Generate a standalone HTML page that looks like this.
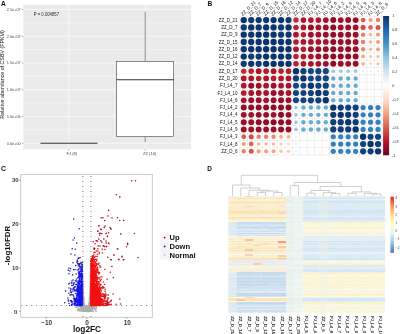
<!DOCTYPE html><html><head><meta charset="utf-8"><style>html,body{margin:0;padding:0;background:#fff;overflow:hidden}svg{display:block;will-change:transform}text{font-family:"Liberation Sans", sans-serif}</style></head><body>
<svg width="400" height="334" viewBox="0 0 400 334">
<rect width="400" height="334" fill="#fff"/>
<text x="1.0" y="5.8" font-size="6.6" font-weight="bold" fill="#111">A</text>
<rect x="23.3" y="4.9" width="167.7" height="144.29999999999998" fill="#EBEBEB"/>
<line x1="23.3" x2="191.0" y1="129.93" y2="129.93" stroke="#F4F4F4" stroke-width="0.9"/>
<line x1="23.3" x2="191.0" y1="103.18" y2="103.18" stroke="#F4F4F4" stroke-width="0.9"/>
<line x1="23.3" x2="191.0" y1="76.43" y2="76.43" stroke="#F4F4F4" stroke-width="0.9"/>
<line x1="23.3" x2="191.0" y1="49.68" y2="49.68" stroke="#F4F4F4" stroke-width="0.9"/>
<line x1="23.3" x2="191.0" y1="22.93" y2="22.93" stroke="#F4F4F4" stroke-width="0.9"/>
<line x1="23.3" x2="191.0" y1="143.30" y2="143.30" stroke="#F8F8F8" stroke-width="1.0"/>
<line x1="23.3" x2="191.0" y1="116.55" y2="116.55" stroke="#F8F8F8" stroke-width="1.0"/>
<line x1="23.3" x2="191.0" y1="89.80" y2="89.80" stroke="#F8F8F8" stroke-width="1.0"/>
<line x1="23.3" x2="191.0" y1="63.05" y2="63.05" stroke="#F8F8F8" stroke-width="1.0"/>
<line x1="23.3" x2="191.0" y1="36.30" y2="36.30" stroke="#F8F8F8" stroke-width="1.0"/>
<line x1="23.3" x2="191.0" y1="9.55" y2="9.55" stroke="#F8F8F8" stroke-width="1.0"/>
<line x1="68.7" x2="68.7" y1="4.9" y2="149.2" stroke="#F8F8F8" stroke-width="1.0"/>
<line x1="145.2" x2="145.2" y1="4.9" y2="149.2" stroke="#F8F8F8" stroke-width="1.0"/>
<line x1="21.8" x2="23.3" y1="143.30" y2="143.30" stroke="#333" stroke-width="0.4"/>
<text x="20.7" y="144.65" font-size="3.8" fill="#4D4D4D" text-anchor="end">0.0e+00</text>
<line x1="21.8" x2="23.3" y1="116.55" y2="116.55" stroke="#333" stroke-width="0.4"/>
<text x="20.7" y="117.90" font-size="3.8" fill="#4D4D4D" text-anchor="end">5.0e+06</text>
<line x1="21.8" x2="23.3" y1="89.80" y2="89.80" stroke="#333" stroke-width="0.4"/>
<text x="20.7" y="91.15" font-size="3.8" fill="#4D4D4D" text-anchor="end">1.0e+07</text>
<line x1="21.8" x2="23.3" y1="63.05" y2="63.05" stroke="#333" stroke-width="0.4"/>
<text x="20.7" y="64.40" font-size="3.8" fill="#4D4D4D" text-anchor="end">1.5e+07</text>
<line x1="21.8" x2="23.3" y1="36.30" y2="36.30" stroke="#333" stroke-width="0.4"/>
<text x="20.7" y="37.65" font-size="3.8" fill="#4D4D4D" text-anchor="end">2.0e+07</text>
<line x1="21.8" x2="23.3" y1="9.55" y2="9.55" stroke="#333" stroke-width="0.4"/>
<text x="20.7" y="10.90" font-size="3.8" fill="#4D4D4D" text-anchor="end">2.5e+07</text>
<line x1="68.7" x2="68.7" y1="149.2" y2="150.7" stroke="#333" stroke-width="0.4"/>
<text x="66.40" y="155.20" font-size="4.15" fill="#4D4D4D">FJ (8)</text>
<line x1="145.2" x2="145.2" y1="149.2" y2="150.7" stroke="#333" stroke-width="0.4"/>
<text x="142.90" y="155.20" font-size="4.15" fill="#4D4D4D">ZZ (10)</text>
<text transform="translate(4.1,74.5) rotate(-90)" x="0" y="0" font-size="5.3" fill="#111" text-anchor="middle">Relative abundance of CSBV (FPKM)</text>
<text transform="translate(33.8,15.9) scale(1,1.18)" font-size="4.25" fill="#2a2a2a">P = 0.004857</text>
<line x1="40.5" x2="97.5" y1="143.3" y2="143.3" stroke="#333" stroke-width="1.1"/>
<line x1="145.2" x2="145.2" y1="11.7" y2="61.6" stroke="#333" stroke-width="0.55"/>
<line x1="145.2" x2="145.2" y1="136.6" y2="142.1" stroke="#333" stroke-width="0.55"/>
<rect x="116.7" y="61.6" width="57" height="75" fill="#fff" stroke="#333" stroke-width="0.55"/>
<line x1="116.7" x2="173.7" y1="79.8" y2="79.8" stroke="#333" stroke-width="1.1"/>
<text x="207.4" y="6.3" font-size="6.6" font-weight="bold" fill="#111">B</text>
<path d="M240.02 16.46V154.97M240.02 16.46H381.76M247.48 16.46V154.97M240.02 23.75H381.76M254.94 16.46V154.97M240.02 31.04H381.76M262.40 16.46V154.97M240.02 38.33H381.76M269.86 16.46V154.97M240.02 45.62H381.76M277.32 16.46V154.97M240.02 52.91H381.76M284.78 16.46V154.97M240.02 60.20H381.76M292.24 16.46V154.97M240.02 67.48H381.76M299.70 16.46V154.97M240.02 74.78H381.76M307.16 16.46V154.97M240.02 82.06H381.76M314.62 16.46V154.97M240.02 89.36H381.76M322.08 16.46V154.97M240.02 96.64H381.76M329.54 16.46V154.97M240.02 103.94H381.76M337.00 16.46V154.97M240.02 111.22H381.76M344.46 16.46V154.97M240.02 118.52H381.76M351.92 16.46V154.97M240.02 125.80H381.76M359.38 16.46V154.97M240.02 133.09H381.76M366.84 16.46V154.97M240.02 140.39H381.76M374.30 16.46V154.97M240.02 147.68H381.76M381.76 16.46V154.97M240.02 154.97H381.76" stroke="#D9D9D9" stroke-width="0.4" fill="none"/>
<circle cx="243.75" cy="20.10" r="3.17" fill="#0a3468"/>
<circle cx="251.21" cy="20.10" r="3.13" fill="#0d3a70"/>
<circle cx="258.67" cy="20.10" r="3.15" fill="#0c376d"/>
<circle cx="266.13" cy="20.10" r="3.14" fill="#0c396e"/>
<circle cx="273.59" cy="20.10" r="3.15" fill="#0b376c"/>
<circle cx="281.05" cy="20.10" r="3.15" fill="#0b376c"/>
<circle cx="288.51" cy="20.10" r="3.13" fill="#0d3b72"/>
<circle cx="295.97" cy="20.10" r="2.73" fill="#bd2e35"/>
<circle cx="303.43" cy="20.10" r="2.84" fill="#b2182b"/>
<circle cx="310.89" cy="20.10" r="2.84" fill="#b2182b"/>
<circle cx="318.35" cy="20.10" r="2.84" fill="#b2182b"/>
<circle cx="325.81" cy="20.10" r="2.89" fill="#a8152a"/>
<circle cx="333.27" cy="20.10" r="3.01" fill="#900d26"/>
<circle cx="340.73" cy="20.10" r="2.94" fill="#9e1128"/>
<circle cx="348.19" cy="20.10" r="2.98" fill="#970f27"/>
<circle cx="355.65" cy="20.10" r="2.96" fill="#9a1028"/>
<circle cx="363.11" cy="20.10" r="2.46" fill="#d6604d"/>
<circle cx="370.57" cy="20.10" r="2.06" fill="#f19e7d"/>
<circle cx="378.03" cy="20.10" r="2.24" fill="#e58268"/>
<circle cx="243.75" cy="27.39" r="3.13" fill="#0d3a70"/>
<circle cx="251.21" cy="27.39" r="3.17" fill="#0a3468"/>
<circle cx="258.67" cy="27.39" r="3.15" fill="#0c386d"/>
<circle cx="266.13" cy="27.39" r="3.16" fill="#0b366b"/>
<circle cx="273.59" cy="27.39" r="3.16" fill="#0b366b"/>
<circle cx="281.05" cy="27.39" r="3.13" fill="#0d3b72"/>
<circle cx="288.51" cy="27.39" r="3.16" fill="#0b366a"/>
<circle cx="295.97" cy="27.39" r="2.76" fill="#b92632"/>
<circle cx="303.43" cy="27.39" r="2.86" fill="#ae172a"/>
<circle cx="310.89" cy="27.39" r="2.99" fill="#940e27"/>
<circle cx="318.35" cy="27.39" r="2.90" fill="#a51429"/>
<circle cx="325.81" cy="27.39" r="2.94" fill="#9d1128"/>
<circle cx="333.27" cy="27.39" r="3.01" fill="#900d26"/>
<circle cx="340.73" cy="27.39" r="2.94" fill="#9f1228"/>
<circle cx="348.19" cy="27.39" r="2.95" fill="#9c1128"/>
<circle cx="355.65" cy="27.39" r="2.93" fill="#a01229"/>
<circle cx="363.11" cy="27.39" r="2.56" fill="#cd4e44"/>
<circle cx="370.57" cy="27.39" r="2.42" fill="#d96752"/>
<circle cx="378.03" cy="27.39" r="2.50" fill="#d2594a"/>
<circle cx="243.75" cy="34.68" r="3.15" fill="#0c376d"/>
<circle cx="251.21" cy="34.68" r="3.15" fill="#0c386d"/>
<circle cx="258.67" cy="34.68" r="3.17" fill="#0a3468"/>
<circle cx="266.13" cy="34.68" r="3.17" fill="#0a3469"/>
<circle cx="273.59" cy="34.68" r="3.17" fill="#0a3569"/>
<circle cx="281.05" cy="34.68" r="3.13" fill="#0d3b71"/>
<circle cx="288.51" cy="34.68" r="3.13" fill="#0d3a71"/>
<circle cx="295.97" cy="34.68" r="2.87" fill="#ac162a"/>
<circle cx="303.43" cy="34.68" r="2.79" fill="#b72230"/>
<circle cx="310.89" cy="34.68" r="2.95" fill="#9d1128"/>
<circle cx="318.35" cy="34.68" r="2.93" fill="#a01229"/>
<circle cx="325.81" cy="34.68" r="2.96" fill="#9a1028"/>
<circle cx="333.27" cy="34.68" r="3.01" fill="#900d26"/>
<circle cx="340.73" cy="34.68" r="2.99" fill="#950e27"/>
<circle cx="348.19" cy="34.68" r="2.99" fill="#940e27"/>
<circle cx="355.65" cy="34.68" r="2.97" fill="#991028"/>
<circle cx="363.11" cy="34.68" r="2.24" fill="#e58268"/>
<circle cx="370.57" cy="34.68" r="1.82" fill="#f7b89a"/>
<circle cx="378.03" cy="34.68" r="2.06" fill="#f19e7d"/>
<circle cx="243.75" cy="41.97" r="3.14" fill="#0c396e"/>
<circle cx="251.21" cy="41.97" r="3.16" fill="#0b366b"/>
<circle cx="258.67" cy="41.97" r="3.17" fill="#0a3469"/>
<circle cx="266.13" cy="41.97" r="3.17" fill="#0a3468"/>
<circle cx="273.59" cy="41.97" r="3.17" fill="#0a3569"/>
<circle cx="281.05" cy="41.97" r="3.16" fill="#0a3569"/>
<circle cx="288.51" cy="41.97" r="3.17" fill="#0a3468"/>
<circle cx="295.97" cy="41.97" r="2.82" fill="#b41c2d"/>
<circle cx="303.43" cy="41.97" r="2.87" fill="#ab162a"/>
<circle cx="310.89" cy="41.97" r="2.90" fill="#a51429"/>
<circle cx="318.35" cy="41.97" r="2.89" fill="#a7142a"/>
<circle cx="325.81" cy="41.97" r="2.90" fill="#a61429"/>
<circle cx="333.27" cy="41.97" r="3.01" fill="#900d26"/>
<circle cx="340.73" cy="41.97" r="2.95" fill="#9b1128"/>
<circle cx="348.19" cy="41.97" r="3.00" fill="#910d27"/>
<circle cx="355.65" cy="41.97" r="2.94" fill="#9e1128"/>
<circle cx="363.11" cy="41.97" r="2.24" fill="#e58268"/>
<circle cx="370.57" cy="41.97" r="1.82" fill="#f7b89a"/>
<circle cx="378.03" cy="41.97" r="2.06" fill="#f19e7d"/>
<circle cx="243.75" cy="49.26" r="3.15" fill="#0b376c"/>
<circle cx="251.21" cy="49.26" r="3.16" fill="#0b366b"/>
<circle cx="258.67" cy="49.26" r="3.17" fill="#0a3569"/>
<circle cx="266.13" cy="49.26" r="3.17" fill="#0a3569"/>
<circle cx="273.59" cy="49.26" r="3.17" fill="#0a3468"/>
<circle cx="281.05" cy="49.26" r="3.16" fill="#0b3569"/>
<circle cx="288.51" cy="49.26" r="3.17" fill="#0a3468"/>
<circle cx="295.97" cy="49.26" r="2.88" fill="#aa152a"/>
<circle cx="303.43" cy="49.26" r="2.80" fill="#b51e2e"/>
<circle cx="310.89" cy="49.26" r="2.95" fill="#9c1128"/>
<circle cx="318.35" cy="49.26" r="2.98" fill="#970f27"/>
<circle cx="325.81" cy="49.26" r="2.96" fill="#9a1028"/>
<circle cx="333.27" cy="49.26" r="3.01" fill="#900d26"/>
<circle cx="340.73" cy="49.26" r="2.94" fill="#9f1228"/>
<circle cx="348.19" cy="49.26" r="3.02" fill="#8e0c26"/>
<circle cx="355.65" cy="49.26" r="2.96" fill="#9a1028"/>
<circle cx="363.11" cy="49.26" r="2.20" fill="#e8896d"/>
<circle cx="370.57" cy="49.26" r="1.79" fill="#f8bb9e"/>
<circle cx="378.03" cy="49.26" r="2.01" fill="#f4a582"/>
<circle cx="243.75" cy="56.55" r="3.15" fill="#0b376c"/>
<circle cx="251.21" cy="56.55" r="3.13" fill="#0d3b72"/>
<circle cx="258.67" cy="56.55" r="3.13" fill="#0d3b71"/>
<circle cx="266.13" cy="56.55" r="3.16" fill="#0a3569"/>
<circle cx="273.59" cy="56.55" r="3.16" fill="#0b3569"/>
<circle cx="281.05" cy="56.55" r="3.17" fill="#0a3468"/>
<circle cx="288.51" cy="56.55" r="3.17" fill="#0a3569"/>
<circle cx="295.97" cy="56.55" r="2.78" fill="#b72230"/>
<circle cx="303.43" cy="56.55" r="2.84" fill="#b2182b"/>
<circle cx="310.89" cy="56.55" r="2.89" fill="#a8152a"/>
<circle cx="318.35" cy="56.55" r="2.96" fill="#9a1028"/>
<circle cx="325.81" cy="56.55" r="2.98" fill="#950f27"/>
<circle cx="333.27" cy="56.55" r="3.01" fill="#900d26"/>
<circle cx="340.73" cy="56.55" r="3.02" fill="#8e0c26"/>
<circle cx="348.19" cy="56.55" r="3.01" fill="#910d27"/>
<circle cx="355.65" cy="56.55" r="2.98" fill="#950f27"/>
<circle cx="363.11" cy="56.55" r="1.95" fill="#f5aa89"/>
<circle cx="370.57" cy="56.55" r="1.62" fill="#facbb2"/>
<circle cx="378.03" cy="56.55" r="1.74" fill="#f8c0a4"/>
<circle cx="243.75" cy="63.84" r="3.13" fill="#0d3b72"/>
<circle cx="251.21" cy="63.84" r="3.16" fill="#0b366a"/>
<circle cx="258.67" cy="63.84" r="3.13" fill="#0d3a71"/>
<circle cx="266.13" cy="63.84" r="3.17" fill="#0a3468"/>
<circle cx="273.59" cy="63.84" r="3.17" fill="#0a3468"/>
<circle cx="281.05" cy="63.84" r="3.17" fill="#0a3569"/>
<circle cx="288.51" cy="63.84" r="3.17" fill="#0a3468"/>
<circle cx="295.97" cy="63.84" r="2.80" fill="#b6202f"/>
<circle cx="303.43" cy="63.84" r="2.86" fill="#ae172a"/>
<circle cx="310.89" cy="63.84" r="2.89" fill="#a7142a"/>
<circle cx="318.35" cy="63.84" r="2.90" fill="#a61429"/>
<circle cx="325.81" cy="63.84" r="2.95" fill="#9b1128"/>
<circle cx="333.27" cy="63.84" r="3.01" fill="#900d26"/>
<circle cx="340.73" cy="63.84" r="2.97" fill="#980f27"/>
<circle cx="348.19" cy="63.84" r="2.96" fill="#9a1028"/>
<circle cx="355.65" cy="63.84" r="2.97" fill="#991028"/>
<circle cx="363.11" cy="63.84" r="1.90" fill="#f6b090"/>
<circle cx="370.57" cy="63.84" r="1.49" fill="#fcd6c0"/>
<circle cx="378.03" cy="63.84" r="1.68" fill="#f9c5ab"/>
<circle cx="243.75" cy="71.13" r="2.73" fill="#bd2e35"/>
<circle cx="251.21" cy="71.13" r="2.76" fill="#b92632"/>
<circle cx="258.67" cy="71.13" r="2.87" fill="#ac162a"/>
<circle cx="266.13" cy="71.13" r="2.82" fill="#b41c2d"/>
<circle cx="273.59" cy="71.13" r="2.88" fill="#aa152a"/>
<circle cx="281.05" cy="71.13" r="2.78" fill="#b72230"/>
<circle cx="288.51" cy="71.13" r="2.80" fill="#b6202f"/>
<circle cx="295.97" cy="71.13" r="3.17" fill="#0a3468"/>
<circle cx="303.43" cy="71.13" r="3.09" fill="#104079"/>
<circle cx="310.89" cy="71.13" r="3.05" fill="#124681"/>
<circle cx="318.35" cy="71.13" r="3.07" fill="#11447e"/>
<circle cx="325.81" cy="71.13" r="3.05" fill="#134782"/>
<circle cx="333.27" cy="71.13" r="1.90" fill="#9fcbe2"/>
<circle cx="340.73" cy="71.13" r="1.90" fill="#9fcbe2"/>
<circle cx="348.19" cy="71.13" r="1.90" fill="#9fcbe2"/>
<circle cx="355.65" cy="71.13" r="1.90" fill="#9fcbe2"/>
<circle cx="363.11" cy="71.13" r="1.10" fill="#e3eff6"/>
<circle cx="370.57" cy="71.13" r="1.10" fill="#e3eff6"/>
<circle cx="378.03" cy="71.13" r="1.10" fill="#e3eff6"/>
<circle cx="243.75" cy="78.42" r="2.84" fill="#b2182b"/>
<circle cx="251.21" cy="78.42" r="2.86" fill="#ae172a"/>
<circle cx="258.67" cy="78.42" r="2.79" fill="#b72230"/>
<circle cx="266.13" cy="78.42" r="2.87" fill="#ab162a"/>
<circle cx="273.59" cy="78.42" r="2.80" fill="#b51e2e"/>
<circle cx="281.05" cy="78.42" r="2.84" fill="#b2182b"/>
<circle cx="288.51" cy="78.42" r="2.86" fill="#ae172a"/>
<circle cx="295.97" cy="78.42" r="3.09" fill="#104079"/>
<circle cx="303.43" cy="78.42" r="3.17" fill="#0a3468"/>
<circle cx="310.89" cy="78.42" r="3.03" fill="#144985"/>
<circle cx="318.35" cy="78.42" r="3.06" fill="#12457f"/>
<circle cx="325.81" cy="78.42" r="3.06" fill="#12457e"/>
<circle cx="333.27" cy="78.42" r="2.24" fill="#6aacd0"/>
<circle cx="340.73" cy="78.42" r="2.24" fill="#6aacd0"/>
<circle cx="348.19" cy="78.42" r="2.24" fill="#6aacd0"/>
<circle cx="355.65" cy="78.42" r="2.24" fill="#6aacd0"/>
<circle cx="363.11" cy="78.42" r="0.71" fill="#f4f8fb"/>
<circle cx="370.57" cy="78.42" r="0.71" fill="#f4f8fb"/>
<circle cx="378.03" cy="78.42" r="0.71" fill="#f4f8fb"/>
<circle cx="243.75" cy="85.71" r="2.84" fill="#b2182b"/>
<circle cx="251.21" cy="85.71" r="2.99" fill="#940e27"/>
<circle cx="258.67" cy="85.71" r="2.95" fill="#9d1128"/>
<circle cx="266.13" cy="85.71" r="2.90" fill="#a51429"/>
<circle cx="273.59" cy="85.71" r="2.95" fill="#9c1128"/>
<circle cx="281.05" cy="85.71" r="2.89" fill="#a8152a"/>
<circle cx="288.51" cy="85.71" r="2.89" fill="#a7142a"/>
<circle cx="295.97" cy="85.71" r="3.05" fill="#124681"/>
<circle cx="303.43" cy="85.71" r="3.03" fill="#144985"/>
<circle cx="310.89" cy="85.71" r="3.17" fill="#0a3468"/>
<circle cx="318.35" cy="85.71" r="3.08" fill="#10427a"/>
<circle cx="325.81" cy="85.71" r="3.09" fill="#10417a"/>
<circle cx="333.27" cy="85.71" r="2.24" fill="#6aacd0"/>
<circle cx="340.73" cy="85.71" r="2.24" fill="#6aacd0"/>
<circle cx="348.19" cy="85.71" r="2.24" fill="#6aacd0"/>
<circle cx="355.65" cy="85.71" r="2.24" fill="#6aacd0"/>
<circle cx="363.11" cy="85.71" r="0.71" fill="#f4f8fb"/>
<circle cx="370.57" cy="85.71" r="0.71" fill="#f4f8fb"/>
<circle cx="378.03" cy="85.71" r="0.71" fill="#f4f8fb"/>
<circle cx="243.75" cy="93.00" r="2.84" fill="#b2182b"/>
<circle cx="251.21" cy="93.00" r="2.90" fill="#a51429"/>
<circle cx="258.67" cy="93.00" r="2.93" fill="#a01229"/>
<circle cx="266.13" cy="93.00" r="2.89" fill="#a7142a"/>
<circle cx="273.59" cy="93.00" r="2.98" fill="#970f27"/>
<circle cx="281.05" cy="93.00" r="2.96" fill="#9a1028"/>
<circle cx="288.51" cy="93.00" r="2.90" fill="#a61429"/>
<circle cx="295.97" cy="93.00" r="3.07" fill="#11447e"/>
<circle cx="303.43" cy="93.00" r="3.06" fill="#12457f"/>
<circle cx="310.89" cy="93.00" r="3.08" fill="#10427a"/>
<circle cx="318.35" cy="93.00" r="3.17" fill="#0a3468"/>
<circle cx="325.81" cy="93.00" r="3.10" fill="#0f3f78"/>
<circle cx="333.27" cy="93.00" r="2.24" fill="#6aacd0"/>
<circle cx="340.73" cy="93.00" r="2.24" fill="#6aacd0"/>
<circle cx="348.19" cy="93.00" r="2.24" fill="#6aacd0"/>
<circle cx="355.65" cy="93.00" r="2.24" fill="#6aacd0"/>
<circle cx="363.11" cy="93.00" r="0.71" fill="#f4f8fb"/>
<circle cx="370.57" cy="93.00" r="0.71" fill="#f4f8fb"/>
<circle cx="378.03" cy="93.00" r="0.71" fill="#f4f8fb"/>
<circle cx="243.75" cy="100.29" r="2.89" fill="#a8152a"/>
<circle cx="251.21" cy="100.29" r="2.94" fill="#9d1128"/>
<circle cx="258.67" cy="100.29" r="2.96" fill="#9a1028"/>
<circle cx="266.13" cy="100.29" r="2.90" fill="#a61429"/>
<circle cx="273.59" cy="100.29" r="2.96" fill="#9a1028"/>
<circle cx="281.05" cy="100.29" r="2.98" fill="#950f27"/>
<circle cx="288.51" cy="100.29" r="2.95" fill="#9b1128"/>
<circle cx="295.97" cy="100.29" r="3.05" fill="#134782"/>
<circle cx="303.43" cy="100.29" r="3.06" fill="#12457e"/>
<circle cx="310.89" cy="100.29" r="3.09" fill="#10417a"/>
<circle cx="318.35" cy="100.29" r="3.10" fill="#0f3f78"/>
<circle cx="325.81" cy="100.29" r="3.17" fill="#0a3468"/>
<circle cx="333.27" cy="100.29" r="2.24" fill="#6aacd0"/>
<circle cx="340.73" cy="100.29" r="2.24" fill="#6aacd0"/>
<circle cx="348.19" cy="100.29" r="2.24" fill="#6aacd0"/>
<circle cx="355.65" cy="100.29" r="2.24" fill="#6aacd0"/>
<circle cx="363.11" cy="100.29" r="0.71" fill="#f4f8fb"/>
<circle cx="370.57" cy="100.29" r="0.71" fill="#f4f8fb"/>
<circle cx="378.03" cy="100.29" r="0.71" fill="#f4f8fb"/>
<circle cx="243.75" cy="107.58" r="3.01" fill="#900d26"/>
<circle cx="251.21" cy="107.58" r="3.01" fill="#900d26"/>
<circle cx="258.67" cy="107.58" r="3.01" fill="#900d26"/>
<circle cx="266.13" cy="107.58" r="3.01" fill="#900d26"/>
<circle cx="273.59" cy="107.58" r="3.01" fill="#900d26"/>
<circle cx="281.05" cy="107.58" r="3.01" fill="#900d26"/>
<circle cx="288.51" cy="107.58" r="3.01" fill="#900d26"/>
<circle cx="295.97" cy="107.58" r="1.90" fill="#9fcbe2"/>
<circle cx="303.43" cy="107.58" r="2.24" fill="#6aacd0"/>
<circle cx="310.89" cy="107.58" r="2.24" fill="#6aacd0"/>
<circle cx="318.35" cy="107.58" r="2.24" fill="#6aacd0"/>
<circle cx="325.81" cy="107.58" r="2.24" fill="#6aacd0"/>
<circle cx="333.27" cy="107.58" r="3.17" fill="#0a3468"/>
<circle cx="340.73" cy="107.58" r="3.12" fill="#0e3d74"/>
<circle cx="348.19" cy="107.58" r="3.09" fill="#10417a"/>
<circle cx="355.65" cy="107.58" r="3.10" fill="#0f3f77"/>
<circle cx="363.11" cy="107.58" r="2.61" fill="#3581ba"/>
<circle cx="370.57" cy="107.58" r="2.61" fill="#3581ba"/>
<circle cx="378.03" cy="107.58" r="2.61" fill="#3581ba"/>
<circle cx="243.75" cy="114.87" r="2.94" fill="#9e1128"/>
<circle cx="251.21" cy="114.87" r="2.94" fill="#9f1228"/>
<circle cx="258.67" cy="114.87" r="2.99" fill="#950e27"/>
<circle cx="266.13" cy="114.87" r="2.95" fill="#9b1128"/>
<circle cx="273.59" cy="114.87" r="2.94" fill="#9f1228"/>
<circle cx="281.05" cy="114.87" r="3.02" fill="#8e0c26"/>
<circle cx="288.51" cy="114.87" r="2.97" fill="#980f27"/>
<circle cx="295.97" cy="114.87" r="1.90" fill="#9fcbe2"/>
<circle cx="303.43" cy="114.87" r="2.24" fill="#6aacd0"/>
<circle cx="310.89" cy="114.87" r="2.24" fill="#6aacd0"/>
<circle cx="318.35" cy="114.87" r="2.24" fill="#6aacd0"/>
<circle cx="325.81" cy="114.87" r="2.24" fill="#6aacd0"/>
<circle cx="333.27" cy="114.87" r="3.12" fill="#0e3d74"/>
<circle cx="340.73" cy="114.87" r="3.17" fill="#0a3468"/>
<circle cx="348.19" cy="114.87" r="3.12" fill="#0d3b72"/>
<circle cx="355.65" cy="114.87" r="3.09" fill="#104079"/>
<circle cx="363.11" cy="114.87" r="2.61" fill="#3581ba"/>
<circle cx="370.57" cy="114.87" r="2.61" fill="#3581ba"/>
<circle cx="378.03" cy="114.87" r="2.61" fill="#3581ba"/>
<circle cx="243.75" cy="122.16" r="2.98" fill="#970f27"/>
<circle cx="251.21" cy="122.16" r="2.95" fill="#9c1128"/>
<circle cx="258.67" cy="122.16" r="2.99" fill="#940e27"/>
<circle cx="266.13" cy="122.16" r="3.00" fill="#910d27"/>
<circle cx="273.59" cy="122.16" r="3.02" fill="#8e0c26"/>
<circle cx="281.05" cy="122.16" r="3.01" fill="#910d27"/>
<circle cx="288.51" cy="122.16" r="2.96" fill="#9a1028"/>
<circle cx="295.97" cy="122.16" r="1.90" fill="#9fcbe2"/>
<circle cx="303.43" cy="122.16" r="2.24" fill="#6aacd0"/>
<circle cx="310.89" cy="122.16" r="2.24" fill="#6aacd0"/>
<circle cx="318.35" cy="122.16" r="2.24" fill="#6aacd0"/>
<circle cx="325.81" cy="122.16" r="2.24" fill="#6aacd0"/>
<circle cx="333.27" cy="122.16" r="3.09" fill="#10417a"/>
<circle cx="340.73" cy="122.16" r="3.12" fill="#0d3b72"/>
<circle cx="348.19" cy="122.16" r="3.17" fill="#0a3468"/>
<circle cx="355.65" cy="122.16" r="3.10" fill="#0f3e76"/>
<circle cx="363.11" cy="122.16" r="2.61" fill="#3581ba"/>
<circle cx="370.57" cy="122.16" r="2.61" fill="#3581ba"/>
<circle cx="378.03" cy="122.16" r="2.61" fill="#3581ba"/>
<circle cx="243.75" cy="129.45" r="2.96" fill="#9a1028"/>
<circle cx="251.21" cy="129.45" r="2.93" fill="#a01229"/>
<circle cx="258.67" cy="129.45" r="2.97" fill="#991028"/>
<circle cx="266.13" cy="129.45" r="2.94" fill="#9e1128"/>
<circle cx="273.59" cy="129.45" r="2.96" fill="#9a1028"/>
<circle cx="281.05" cy="129.45" r="2.98" fill="#950f27"/>
<circle cx="288.51" cy="129.45" r="2.97" fill="#991028"/>
<circle cx="295.97" cy="129.45" r="1.90" fill="#9fcbe2"/>
<circle cx="303.43" cy="129.45" r="2.24" fill="#6aacd0"/>
<circle cx="310.89" cy="129.45" r="2.24" fill="#6aacd0"/>
<circle cx="318.35" cy="129.45" r="2.24" fill="#6aacd0"/>
<circle cx="325.81" cy="129.45" r="2.24" fill="#6aacd0"/>
<circle cx="333.27" cy="129.45" r="3.10" fill="#0f3f77"/>
<circle cx="340.73" cy="129.45" r="3.09" fill="#104079"/>
<circle cx="348.19" cy="129.45" r="3.10" fill="#0f3e76"/>
<circle cx="355.65" cy="129.45" r="3.17" fill="#0a3468"/>
<circle cx="363.11" cy="129.45" r="2.61" fill="#3581ba"/>
<circle cx="370.57" cy="129.45" r="2.61" fill="#3581ba"/>
<circle cx="378.03" cy="129.45" r="2.61" fill="#3581ba"/>
<circle cx="243.75" cy="136.74" r="2.46" fill="#d6604d"/>
<circle cx="251.21" cy="136.74" r="2.56" fill="#cd4e44"/>
<circle cx="258.67" cy="136.74" r="2.24" fill="#e58268"/>
<circle cx="266.13" cy="136.74" r="2.24" fill="#e58268"/>
<circle cx="273.59" cy="136.74" r="2.20" fill="#e8896d"/>
<circle cx="281.05" cy="136.74" r="1.95" fill="#f5aa89"/>
<circle cx="288.51" cy="136.74" r="1.90" fill="#f6b090"/>
<circle cx="295.97" cy="136.74" r="1.10" fill="#e3eff6"/>
<circle cx="303.43" cy="136.74" r="0.71" fill="#f4f8fb"/>
<circle cx="310.89" cy="136.74" r="0.71" fill="#f4f8fb"/>
<circle cx="318.35" cy="136.74" r="0.71" fill="#f4f8fb"/>
<circle cx="325.81" cy="136.74" r="0.71" fill="#f4f8fb"/>
<circle cx="333.27" cy="136.74" r="2.61" fill="#3581ba"/>
<circle cx="340.73" cy="136.74" r="2.61" fill="#3581ba"/>
<circle cx="348.19" cy="136.74" r="2.61" fill="#3581ba"/>
<circle cx="355.65" cy="136.74" r="2.61" fill="#3581ba"/>
<circle cx="363.11" cy="136.74" r="3.17" fill="#0a3468"/>
<circle cx="370.57" cy="136.74" r="3.08" fill="#11437c"/>
<circle cx="378.03" cy="136.74" r="3.08" fill="#11427b"/>
<circle cx="243.75" cy="144.03" r="2.06" fill="#f19e7d"/>
<circle cx="251.21" cy="144.03" r="2.42" fill="#d96752"/>
<circle cx="258.67" cy="144.03" r="1.82" fill="#f7b89a"/>
<circle cx="266.13" cy="144.03" r="1.82" fill="#f7b89a"/>
<circle cx="273.59" cy="144.03" r="1.79" fill="#f8bb9e"/>
<circle cx="281.05" cy="144.03" r="1.62" fill="#facbb2"/>
<circle cx="288.51" cy="144.03" r="1.49" fill="#fcd6c0"/>
<circle cx="295.97" cy="144.03" r="1.10" fill="#e3eff6"/>
<circle cx="303.43" cy="144.03" r="0.71" fill="#f4f8fb"/>
<circle cx="310.89" cy="144.03" r="0.71" fill="#f4f8fb"/>
<circle cx="318.35" cy="144.03" r="0.71" fill="#f4f8fb"/>
<circle cx="325.81" cy="144.03" r="0.71" fill="#f4f8fb"/>
<circle cx="333.27" cy="144.03" r="2.61" fill="#3581ba"/>
<circle cx="340.73" cy="144.03" r="2.61" fill="#3581ba"/>
<circle cx="348.19" cy="144.03" r="2.61" fill="#3581ba"/>
<circle cx="355.65" cy="144.03" r="2.61" fill="#3581ba"/>
<circle cx="363.11" cy="144.03" r="3.08" fill="#11437c"/>
<circle cx="370.57" cy="144.03" r="3.17" fill="#0a3468"/>
<circle cx="378.03" cy="144.03" r="3.11" fill="#0f3e76"/>
<circle cx="243.75" cy="151.32" r="2.24" fill="#e58268"/>
<circle cx="251.21" cy="151.32" r="2.50" fill="#d2594a"/>
<circle cx="258.67" cy="151.32" r="2.06" fill="#f19e7d"/>
<circle cx="266.13" cy="151.32" r="2.06" fill="#f19e7d"/>
<circle cx="273.59" cy="151.32" r="2.01" fill="#f4a582"/>
<circle cx="281.05" cy="151.32" r="1.74" fill="#f8c0a4"/>
<circle cx="288.51" cy="151.32" r="1.68" fill="#f9c5ab"/>
<circle cx="295.97" cy="151.32" r="1.10" fill="#e3eff6"/>
<circle cx="303.43" cy="151.32" r="0.71" fill="#f4f8fb"/>
<circle cx="310.89" cy="151.32" r="0.71" fill="#f4f8fb"/>
<circle cx="318.35" cy="151.32" r="0.71" fill="#f4f8fb"/>
<circle cx="325.81" cy="151.32" r="0.71" fill="#f4f8fb"/>
<circle cx="333.27" cy="151.32" r="2.61" fill="#3581ba"/>
<circle cx="340.73" cy="151.32" r="2.61" fill="#3581ba"/>
<circle cx="348.19" cy="151.32" r="2.61" fill="#3581ba"/>
<circle cx="355.65" cy="151.32" r="2.61" fill="#3581ba"/>
<circle cx="363.11" cy="151.32" r="3.08" fill="#11427b"/>
<circle cx="370.57" cy="151.32" r="3.11" fill="#0f3e76"/>
<circle cx="378.03" cy="151.32" r="3.17" fill="#0a3468"/>
<text x="237.6" y="21.70" font-size="4.5" fill="#111" text-anchor="end">ZZ_D_21</text>
<text x="237.6" y="28.99" font-size="4.5" fill="#111" text-anchor="end">ZZ_D_7</text>
<text x="237.6" y="36.28" font-size="4.5" fill="#111" text-anchor="end">ZZ_D_9</text>
<text x="237.6" y="43.57" font-size="4.5" fill="#111" text-anchor="end">ZZ_D_15</text>
<text x="237.6" y="50.86" font-size="4.5" fill="#111" text-anchor="end">ZZ_D_16</text>
<text x="237.6" y="58.15" font-size="4.5" fill="#111" text-anchor="end">ZZ_D_12</text>
<text x="237.6" y="65.44" font-size="4.5" fill="#111" text-anchor="end">ZZ_D_14</text>
<text x="237.6" y="72.73" font-size="4.5" fill="#111" text-anchor="end">ZZ_D_17</text>
<text x="237.6" y="80.02" font-size="4.5" fill="#111" text-anchor="end">ZZ_D_20</text>
<text x="237.6" y="87.31" font-size="4.5" fill="#111" text-anchor="end">FJ_L4_7</text>
<text x="237.6" y="94.60" font-size="4.5" fill="#111" text-anchor="end">FJ_L4_10</text>
<text x="237.6" y="101.89" font-size="4.5" fill="#111" text-anchor="end">FJ_L4_6</text>
<text x="237.6" y="109.18" font-size="4.5" fill="#111" text-anchor="end">FJ_L4_2</text>
<text x="237.6" y="116.47" font-size="4.5" fill="#111" text-anchor="end">FJ_L4_4</text>
<text x="237.6" y="123.76" font-size="4.5" fill="#111" text-anchor="end">FJ_L4_5</text>
<text x="237.6" y="131.05" font-size="4.5" fill="#111" text-anchor="end">FJ_L4_9</text>
<text x="237.6" y="138.34" font-size="4.5" fill="#111" text-anchor="end">FJ_L4_3</text>
<text x="237.6" y="145.63" font-size="4.5" fill="#111" text-anchor="end">FJ_L4_8</text>
<text x="237.6" y="152.92" font-size="4.5" fill="#111" text-anchor="end">ZZ_D_6</text>
<text transform="translate(242.85,15.9) rotate(-45)" font-size="4.5" fill="#111">ZZ_D_21</text>
<text transform="translate(250.31,15.9) rotate(-45)" font-size="4.5" fill="#111">ZZ_D_7</text>
<text transform="translate(257.77,15.9) rotate(-45)" font-size="4.5" fill="#111">ZZ_D_9</text>
<text transform="translate(265.23,15.9) rotate(-45)" font-size="4.5" fill="#111">ZZ_D_15</text>
<text transform="translate(272.69,15.9) rotate(-45)" font-size="4.5" fill="#111">ZZ_D_16</text>
<text transform="translate(280.15,15.9) rotate(-45)" font-size="4.5" fill="#111">ZZ_D_12</text>
<text transform="translate(287.61,15.9) rotate(-45)" font-size="4.5" fill="#111">ZZ_D_14</text>
<text transform="translate(295.07,15.9) rotate(-45)" font-size="4.5" fill="#111">ZZ_D_17</text>
<text transform="translate(302.53,15.9) rotate(-45)" font-size="4.5" fill="#111">ZZ_D_20</text>
<text transform="translate(309.99,15.9) rotate(-45)" font-size="4.5" fill="#111">FJ_L4_7</text>
<text transform="translate(317.45,15.9) rotate(-45)" font-size="4.5" fill="#111">FJ_L4_10</text>
<text transform="translate(324.91,15.9) rotate(-45)" font-size="4.5" fill="#111">FJ_L4_6</text>
<text transform="translate(332.37,15.9) rotate(-45)" font-size="4.5" fill="#111">FJ_L4_2</text>
<text transform="translate(339.83,15.9) rotate(-45)" font-size="4.5" fill="#111">FJ_L4_4</text>
<text transform="translate(347.29,15.9) rotate(-45)" font-size="4.5" fill="#111">FJ_L4_5</text>
<text transform="translate(354.75,15.9) rotate(-45)" font-size="4.5" fill="#111">FJ_L4_9</text>
<text transform="translate(362.21,15.9) rotate(-45)" font-size="4.5" fill="#111">FJ_L4_3</text>
<text transform="translate(369.67,15.9) rotate(-45)" font-size="4.5" fill="#111">FJ_L4_8</text>
<text transform="translate(377.13,15.9) rotate(-45)" font-size="4.5" fill="#111">ZZ_D_6</text>
<defs><linearGradient id="cg" x1="0" y1="0" x2="0" y2="1">
<stop offset="0.00" stop-color="#0A3468"/>
<stop offset="0.10" stop-color="#2166AC"/>
<stop offset="0.20" stop-color="#4393C3"/>
<stop offset="0.30" stop-color="#92C5DE"/>
<stop offset="0.40" stop-color="#D1E5F0"/>
<stop offset="0.50" stop-color="#FFFFFF"/>
<stop offset="0.60" stop-color="#FDDBC7"/>
<stop offset="0.70" stop-color="#F4A582"/>
<stop offset="0.80" stop-color="#D6604D"/>
<stop offset="0.90" stop-color="#B2182B"/>
<stop offset="1.00" stop-color="#6F0222"/>
</linearGradient>
<linearGradient id="hg" x1="0" y1="0" x2="0" y2="1">
<stop offset="0.000" stop-color="#D73027"/>
<stop offset="0.167" stop-color="#FC8D59"/>
<stop offset="0.333" stop-color="#FEE090"/>
<stop offset="0.500" stop-color="#FFFFBF"/>
<stop offset="0.667" stop-color="#E0F3F8"/>
<stop offset="0.833" stop-color="#91BFDB"/>
<stop offset="1.000" stop-color="#4575B4"/>
</linearGradient></defs>
<rect x="383.1" y="16" width="6" height="139.3" fill="url(#cg)"/>
<text x="392.2" y="17.30" font-size="3.7" fill="#333">1</text>
<text x="392.2" y="31.23" font-size="3.7" fill="#333">0.8</text>
<text x="392.2" y="45.16" font-size="3.7" fill="#333">0.6</text>
<text x="392.2" y="59.09" font-size="3.7" fill="#333">0.4</text>
<text x="392.2" y="73.02" font-size="3.7" fill="#333">0.2</text>
<text x="392.2" y="86.95" font-size="3.7" fill="#333">0</text>
<text x="392.2" y="100.88" font-size="3.7" fill="#333">-0.2</text>
<text x="392.2" y="114.81" font-size="3.7" fill="#333">-0.4</text>
<text x="392.2" y="128.74" font-size="3.7" fill="#333">-0.6</text>
<text x="392.2" y="142.67" font-size="3.7" fill="#333">-0.8</text>
<text x="392.2" y="156.60" font-size="3.7" fill="#333">-1</text>
<text x="0.9" y="171.3" font-size="6.9" font-weight="bold" fill="#111">C</text>
<line x1="82.87" x2="82.87" y1="174.5" y2="317.4" stroke="#7E7E7E" stroke-width="1.1" stroke-dasharray="1.2 3.8" stroke-dashoffset="-1.4"/>
<line x1="82.87" x2="82.87" y1="174.5" y2="317.4" stroke="#DADADA" stroke-width="0.7" stroke-dasharray="1.2 3.8" stroke-dashoffset="1.1"/>
<line x1="90.93" x2="90.93" y1="174.5" y2="317.4" stroke="#7E7E7E" stroke-width="1.1" stroke-dasharray="1.2 3.8" stroke-dashoffset="-1.4"/>
<line x1="90.93" x2="90.93" y1="174.5" y2="317.4" stroke="#DADADA" stroke-width="0.7" stroke-dasharray="1.2 3.8" stroke-dashoffset="1.1"/>
<line x1="20.6" x2="152.4" y1="305.5" y2="305.5" stroke="#8C8C8C" stroke-width="1.0" stroke-dasharray="1.1 3.9" stroke-dashoffset="-0.5"/>
<line x1="20.6" x2="152.4" y1="305.5" y2="305.5" stroke="#DADADA" stroke-width="0.7" stroke-dasharray="1.2 3.8" stroke-dashoffset="2.0"/>
<path d="M86.2 307.5h0M86.3 309.2h0M84.1 305.2h0M90.5 278.2h0M90.3 275.8h0M90.3 291.7h0M82.8 307.0h0M82.6 294.4h0M86.1 309.5h0M90.2 305.2h0M90.6 273.7h0M89.9 307.7h0M82.6 275.3h0M85.7 307.8h0M83.3 290.2h0M86.4 310.1h0M83.2 291.5h0M83.5 297.7h0M84.2 310.9h0M83.1 308.2h0M90.2 309.1h0M89.5 306.0h0M83.9 308.5h0M90.4 299.9h0M89.5 310.6h0M90.6 300.7h0M83.8 310.8h0M90.1 301.3h0M90.2 295.5h0M89.7 295.8h0M83.9 302.3h0M89.2 305.2h0M83.0 310.9h0M90.5 279.1h0M90.1 308.4h0M90.5 276.6h0M89.7 293.7h0M82.7 310.3h0M83.4 300.4h0M84.1 305.4h0M88.1 311.0h0M83.9 299.3h0M88.2 311.4h0M90.6 266.7h0M83.2 293.2h0M89.8 297.3h0M89.0 308.9h0M88.1 307.1h0M85.9 307.8h0M87.2 310.1h0M87.3 311.2h0M87.7 307.5h0M90.0 293.7h0M90.5 282.8h0M82.8 296.5h0M84.4 308.1h0M87.5 310.6h0M82.8 288.5h0M83.5 304.3h0M90.0 295.2h0M83.1 287.2h0M85.7 310.4h0M84.1 302.6h0M89.4 297.6h0M83.1 307.6h0M85.9 309.6h0M85.1 306.3h0M82.7 310.9h0M90.4 303.0h0M89.7 309.9h0M82.8 308.4h0M82.9 299.5h0M87.6 307.9h0M90.3 307.1h0M83.0 311.3h0M86.4 310.9h0M82.9 291.8h0M89.8 295.4h0M89.6 310.2h0M86.2 307.5h0M85.6 307.6h0M89.0 307.8h0M90.2 291.3h0M89.2 303.9h0M84.3 302.5h0M90.4 281.4h0M85.2 307.2h0M83.4 296.4h0M82.9 284.6h0M83.1 308.4h0M85.3 311.0h0M83.8 301.5h0M89.3 298.7h0M86.5 311.2h0M84.4 309.7h0M88.4 308.7h0M89.4 308.3h0M85.6 307.5h0M84.2 302.4h0M86.8 310.9h0M86.9 309.1h0M82.8 294.8h0M85.8 309.3h0M86.5 311.3h0M89.0 309.5h0M83.0 300.6h0M89.1 307.1h0M83.8 310.4h0M89.5 309.5h0M84.4 309.5h0M85.4 311.2h0M90.1 307.9h0M90.6 298.4h0M85.9 311.0h0M84.2 306.0h0M86.8 309.1h0M90.6 272.2h0M83.9 299.4h0M84.3 303.9h0M82.7 309.3h0M90.1 290.4h0M82.6 305.7h0M88.1 306.5h0M83.5 297.7h0M86.6 310.9h0M82.7 310.8h0M87.0 309.3h0M83.0 278.6h0M89.3 311.0h0M90.6 294.5h0M90.0 297.9h0M82.7 276.4h0M82.6 305.9h0M83.9 311.3h0M89.8 298.0h0M89.5 306.4h0M87.4 307.1h0M89.9 290.3h0M88.6 306.1h0M85.8 307.7h0M88.2 307.6h0M85.8 311.3h0M83.2 297.3h0M90.6 268.6h0M90.1 298.2h0M85.7 308.9h0M88.2 306.0h0M82.8 284.0h0M83.4 310.9h0M83.0 283.6h0M87.0 307.2h0M87.1 309.0h0M90.3 293.1h0M90.2 298.8h0M82.8 290.0h0M83.0 301.4h0M86.8 310.2h0M84.9 308.6h0M84.9 310.2h0M83.0 288.6h0M85.7 308.3h0M83.0 280.8h0M83.2 302.2h0M86.4 310.7h0M86.8 308.5h0M86.3 308.0h0M90.5 287.9h0M83.4 310.0h0M86.1 309.8h0M84.7 309.3h0M88.8 302.9h0M90.2 306.2h0M83.5 296.9h0M90.3 304.6h0M88.1 308.8h0M87.7 310.9h0M84.6 305.0h0M90.1 301.8h0M90.4 293.6h0M83.0 293.4h0M83.4 308.5h0M85.3 307.6h0M82.9 287.2h0M83.5 308.1h0M89.4 308.1h0M87.0 307.5h0M84.4 311.0h0M89.8 302.8h0M90.2 289.1h0M82.7 302.6h0M88.4 310.2h0M82.8 286.3h0M82.8 276.8h0M90.1 301.0h0M89.7 306.9h0M85.8 307.6h0M83.0 302.0h0M83.1 297.3h0M89.0 303.6h0M90.5 302.8h0M82.7 292.9h0M87.1 308.9h0M89.1 306.3h0M89.6 296.0h0M83.3 309.4h0M88.6 310.3h0M84.3 307.7h0M90.0 304.6h0M90.4 296.2h0M86.9 308.6h0M90.1 286.8h0M89.1 302.4h0M90.3 296.3h0M88.3 309.5h0M83.5 298.4h0M90.4 298.8h0M84.9 311.3h0M83.0 293.0h0M89.9 299.6h0M90.3 309.4h0M82.7 289.2h0M83.7 308.4h0M84.0 308.7h0M87.0 309.7h0M84.7 305.5h0M85.3 306.9h0M84.2 304.3h0M85.7 309.5h0M84.8 307.8h0M83.1 300.5h0M85.6 308.5h0M90.3 305.4h0M89.6 301.7h0M90.1 298.5h0M83.8 311.4h0M89.2 302.2h0M82.6 294.0h0M86.3 309.2h0M90.3 285.1h0M85.9 311.2h0M89.8 309.5h0M90.4 303.0h0M83.7 307.1h0M90.4 299.9h0M86.3 308.0h0M89.8 308.0h0M89.8 311.3h0M90.6 305.6h0M90.0 306.0h0M83.2 295.8h0M82.6 269.7h0M87.1 310.4h0M90.0 309.4h0M83.3 296.5h0M83.1 310.1h0M83.4 310.0h0M83.2 300.8h0M87.8 307.8h0M82.9 300.6h0M83.2 292.0h0M87.9 311.4h0M84.5 307.1h0M83.8 300.6h0M90.6 279.6h0M89.8 305.5h0M90.1 298.5h0M88.3 310.7h0M90.2 307.5h0M84.6 308.1h0M90.0 301.6h0M83.6 310.0h0M89.9 300.6h0M90.3 279.1h0M90.6 288.0h0M83.6 307.7h0M89.4 309.8h0M90.0 311.1h0M84.0 300.6h0M90.1 303.3h0M87.3 311.4h0M83.6 310.0h0M85.7 310.9h0M90.0 296.0h0M82.9 308.5h0M90.3 298.1h0M85.9 308.7h0M88.7 308.5h0M90.6 273.7h0M82.8 293.5h0M89.9 301.4h0M86.1 310.4h0M83.0 283.6h0M88.5 307.0h0M85.0 311.2h0M83.3 310.9h0M88.2 310.6h0M82.6 304.1h0M83.1 284.0h0M87.9 309.8h0M90.6 270.1h0M83.4 309.9h0M86.9 311.4h0M83.5 306.9h0M83.1 288.4h0M82.8 311.0h0M90.5 293.9h0M90.1 300.4h0M83.9 309.9h0M89.9 302.3h0M84.0 299.0h0M84.2 310.2h0M89.7 307.0h0M89.8 297.0h0M83.7 296.0h0M83.3 308.0h0M85.0 310.8h0M83.2 304.2h0M87.9 309.0h0M83.7 296.4h0M90.4 272.3h0M86.1 309.5h0M82.9 304.7h0M84.6 311.1h0M84.9 310.5h0M84.8 310.7h0M89.8 311.1h0M86.3 310.1h0M90.4 307.3h0M87.1 310.2h0M87.9 309.4h0M86.6 308.7h0M86.8 311.0h0M90.2 300.1h0M88.8 305.3h0M82.9 306.4h0M89.7 299.0h0M87.2 310.9h0M82.8 295.5h0M82.7 310.0h0M89.9 300.7h0M89.3 310.3h0M83.0 297.0h0M84.7 311.1h0M89.7 308.1h0M83.9 300.6h0M90.0 307.6h0M90.3 297.9h0M88.7 310.8h0M86.2 311.3h0M84.5 310.8h0M82.8 310.9h0M90.6 280.2h0M82.7 291.7h0M83.2 304.9h0M90.5 310.8h0M85.8 311.3h0M85.3 307.4h0M87.3 309.8h0M85.7 310.1h0M90.3 302.0h0M84.0 310.3h0M83.2 301.9h0M90.6 273.6h0M82.7 310.0h0M90.6 306.3h0M82.7 273.2h0M90.4 277.0h0M85.5 308.4h0M90.3 303.2h0M83.0 289.5h0M90.2 301.8h0M83.1 311.1h0M83.4 301.2h0M83.7 308.5h0M88.4 310.9h0M82.7 299.5h0M89.9 306.5h0M82.7 288.5h0M87.1 307.2h0M85.0 306.4h0M84.3 306.1h0M90.3 306.2h0M90.6 296.1h0M83.1 299.1h0M83.0 301.6h0M82.8 309.7h0M83.0 308.7h0M87.3 309.4h0M90.1 310.6h0M83.0 298.6h0M90.4 311.1h0M85.4 309.1h0M84.7 310.7h0M86.4 307.3h0M85.5 307.1h0M88.8 307.0h0M83.1 305.7h0M89.3 307.8h0M90.1 305.3h0M85.5 311.0h0M83.2 295.7h0M83.3 307.5h0M86.5 309.4h0M87.6 307.8h0M90.4 301.3h0M90.4 287.7h0M90.3 308.0h0M89.5 303.5h0M82.6 304.0h0M83.5 309.2h0M90.4 309.4h0M90.5 295.9h0M89.9 292.0h0M83.8 305.4h0M90.5 283.5h0M83.1 291.2h0M89.4 304.7h0M86.0 309.0h0M89.3 310.5h0M85.6 310.7h0M84.1 300.5h0M83.6 305.9h0M89.7 292.6h0M90.5 310.7h0M84.9 305.6h0M82.9 311.1h0M90.2 287.5h0M90.2 302.0h0M87.5 307.0h0M85.7 309.4h0M90.5 273.3h0M82.9 309.1h0M82.9 292.9h0M82.7 295.4h0M82.8 278.5h0M82.7 306.5h0M86.5 310.9h0M89.5 306.6h0M83.0 293.4h0M90.0 288.0h0M89.5 305.6h0M89.3 310.0h0M82.8 300.9h0M90.4 294.5h0M82.7 292.4h0M89.1 304.1h0M85.8 307.9h0M88.8 311.0h0M90.6 281.6h0M84.6 311.3h0M90.1 294.5h0M90.2 293.8h0M83.1 310.0h0M85.3 310.8h0M88.6 307.3h0M82.9 308.7h0M83.4 304.9h0M85.2 306.6h0M84.2 309.2h0M90.6 266.3h0M86.0 310.8h0M85.9 310.9h0M84.8 305.6h0M83.9 310.3h0M88.9 306.2h0M84.3 303.6h0M89.5 305.0h0M90.1 301.5h0M89.7 305.8h0M84.4 307.5h0M90.1 296.9h0M87.4 311.0h0M86.3 308.5h0M85.1 306.2h0M85.8 311.1h0M90.1 307.1h0M89.3 298.8h0M89.3 306.1h0M89.8 307.6h0M89.8 301.8h0M90.4 310.0h0M87.0 309.7h0M84.5 305.3h0M88.8 304.3h0M89.6 306.6h0M83.4 294.1h0M83.8 307.0h0M89.4 298.5h0M83.1 307.8h0M87.6 308.4h0M84.2 308.0h0M83.0 305.2h0M87.4 310.9h0M83.6 304.8h0M83.5 293.4h0M89.8 297.3h0M88.4 310.1h0M83.1 288.6h0M83.1 299.7h0M90.5 290.8h0M84.9 310.2h0M89.5 305.9h0M90.1 291.1h0M89.9 306.6h0M86.1 310.5h0M88.2 310.5h0M82.9 279.8h0M83.3 292.0h0M87.3 311.2h0M89.5 307.1h0M85.6 308.7h0M85.3 306.9h0M82.8 296.3h0M83.0 294.7h0M90.4 273.2h0M85.8 308.9h0M88.2 311.2h0M83.6 300.7h0M84.3 310.2h0M83.5 310.6h0M83.9 304.4h0M89.9 293.2h0M88.5 311.0h0M83.7 297.2h0M83.9 305.6h0M90.5 294.1h0M83.6 310.1h0M83.3 306.4h0M90.0 302.7h0M83.5 303.9h0M90.4 281.3h0M83.8 305.2h0M85.8 307.7h0M90.2 286.3h0M88.5 310.8h0M90.6 308.7h0M85.0 308.3h0M90.4 304.8h0M83.5 306.6h0M86.5 307.7h0M90.2 298.3h0M90.5 302.6h0M90.1 300.1h0M83.1 301.4h0M83.0 310.5h0M86.8 310.1h0M83.0 299.0h0M84.4 308.2h0M83.0 281.3h0M82.6 268.1h0M85.5 310.1h0M85.0 308.7h0M83.8 311.1h0M82.7 303.6h0M90.2 305.3h0M90.1 283.8h0M90.1 290.4h0M89.4 301.1h0M83.0 295.9h0M90.0 311.2h0M90.1 297.0h0M82.6 296.5h0M88.0 306.8h0M83.2 302.0h0M89.9 309.9h0M85.1 311.2h0M83.5 299.9h0M90.4 309.0h0M85.1 308.9h0M89.9 293.1h0M83.6 304.4h0M83.0 302.6h0M88.0 309.4h0M90.6 280.5h0M83.9 309.8h0M82.9 302.4h0M87.3 310.1h0M87.2 310.2h0M90.0 295.0h0M82.6 281.7h0M89.4 307.4h0M90.1 295.8h0M87.1 307.5h0M82.7 309.2h0M85.0 311.3h0M88.2 308.9h0M83.8 297.4h0M88.7 311.0h0M90.3 291.9h0M83.5 302.1h0M89.8 297.7h0M85.5 308.4h0M84.9 307.6h0M83.4 311.3h0M90.5 308.4h0M83.1 305.7h0M84.8 306.3h0M83.9 300.2h0M87.5 308.4h0M86.9 307.5h0M89.0 308.7h0M90.1 301.4h0M85.6 307.2h0M86.6 310.3h0M84.4 310.9h0M90.2 310.4h0M90.3 276.7h0M85.1 311.3h0M90.5 311.0h0M87.2 308.7h0M89.5 304.8h0M83.2 308.4h0M90.1 292.0h0M82.6 309.6h0M86.5 307.2h0M90.4 286.2h0M90.1 283.1h0M90.0 286.4h0M83.2 298.0h0M88.1 308.6h0M88.8 311.3h0M83.5 292.3h0M82.8 280.6h0M88.1 308.8h0M88.7 311.4h0M83.1 283.6h0M90.3 311.3h0M90.1 297.5h0M90.3 306.2h0M89.9 309.3h0M82.7 304.8h0M90.0 300.1h0M84.6 310.6h0M83.1 294.4h0M88.9 311.1h0M89.6 308.9h0M85.9 310.2h0M85.4 306.8h0M82.9 302.6h0M89.4 308.5h0M87.4 309.7h0M89.9 310.7h0M90.6 305.3h0M89.6 294.4h0M85.3 311.0h0M88.3 310.7h0M83.7 297.2h0M88.4 309.2h0M82.8 310.2h0M84.3 311.2h0M83.2 299.6h0M87.1 309.5h0M90.0 307.6h0M82.7 293.6h0M84.2 306.7h0M84.9 306.0h0M86.3 307.9h0M84.5 311.3h0M89.9 310.9h0M82.6 311.1h0M84.3 307.9h0M90.1 308.1h0M83.1 296.0h0M82.7 288.6h0M83.3 303.6h0M90.0 305.1h0M89.3 300.0h0M83.9 298.2h0M83.1 292.7h0M84.5 310.7h0M89.7 306.3h0M90.0 287.6h0M89.8 307.5h0M87.2 309.8h0M82.6 293.0h0M87.7 310.5h0M82.7 279.0h0M90.1 285.2h0M89.0 307.6h0M83.2 289.5h0M90.5 278.8h0M89.0 302.2h0M88.1 308.1h0M89.1 310.3h0M90.2 306.5h0M90.0 292.5h0M87.5 307.3h0M90.6 284.3h0M83.5 294.1h0M83.0 279.5h0M89.5 301.0h0M83.0 289.5h0M88.9 307.1h0M90.2 298.9h0M83.0 287.4h0M84.4 305.5h0M88.2 310.2h0M82.6 285.6h0M88.1 310.2h0M90.0 305.9h0M90.2 279.5h0M90.5 295.1h0M82.9 295.0h0M86.4 310.7h0M84.2 309.8h0M83.4 310.9h0M85.4 307.0h0M90.2 299.4h0M90.3 299.1h0M88.1 309.0h0M87.7 307.3h0M84.6 304.4h0M90.6 307.4h0M90.4 286.4h0M90.5 283.8h0M83.6 310.4h0M86.4 307.7h0M82.7 296.9h0M83.7 303.4h0M90.0 297.5h0M82.9 309.0h0M83.5 311.3h0M82.9 278.3h0M90.6 288.8h0M85.1 311.1h0M83.1 302.6h0M85.8 310.6h0M88.9 308.1h0M83.2 302.1h0M85.1 309.8h0M85.0 309.5h0M86.4 309.8h0M85.6 307.0h0M90.1 305.6h0M88.4 307.9h0M89.6 301.4h0M84.4 307.7h0M90.6 296.5h0M90.5 288.8h0M83.0 284.2h0M83.1 287.7h0M90.6 287.6h0M88.3 307.4h0M90.4 294.2h0M89.7 296.6h0M85.2 306.7h0M84.8 308.7h0M83.7 301.5h0M84.9 309.5h0M83.7 305.8h0M80.6 308.0h0M91.8 305.9h0M86.3 308.9h0M86.7 309.2h0M85.0 307.2h0M83.8 308.8h0M79.6 309.4h0M83.4 311.1h0M90.5 308.8h0M85.3 309.2h0M84.7 306.3h0M89.4 310.0h0M85.4 310.4h0M92.8 306.9h0M90.3 309.4h0M80.4 311.1h0M87.0 306.6h0M88.4 307.1h0M84.5 307.1h0M82.3 309.7h0M93.7 308.3h0M84.9 306.6h0M90.6 307.8h0M77.4 309.7h0M79.1 309.7h0M84.9 305.9h0M85.0 309.0h0M82.6 306.5h0M88.2 306.1h0M85.5 308.9h0M84.4 307.1h0M88.4 306.3h0M94.8 309.7h0M84.7 307.0h0M88.8 310.9h0M86.1 306.5h0M85.2 307.9h0M85.0 310.9h0M85.7 308.9h0M92.0 306.4h0M86.1 310.8h0M87.3 307.1h0M87.1 310.0h0M85.8 307.2h0M92.5 309.1h0M83.3 307.8h0M87.3 308.9h0M84.7 309.3h0M88.9 309.5h0M90.1 307.7h0M87.0 309.4h0M92.5 308.3h0M91.7 308.1h0M83.4 306.9h0M94.4 307.5h0M83.3 308.1h0M81.4 308.6h0M82.9 308.3h0M89.6 308.0h0M79.6 306.2h0M85.1 309.7h0M90.0 311.0h0M87.1 306.7h0M84.2 309.9h0M84.3 306.3h0M89.7 307.2h0M81.4 306.9h0M82.7 307.9h0M87.7 306.3h0M95.6 306.5h0M86.1 310.7h0M86.8 307.9h0M96.3 308.1h0M83.7 308.1h0M94.1 305.8h0M96.3 311.2h0M92.4 310.2h0M82.2 310.4h0M90.3 307.8h0M90.6 306.8h0M85.0 307.7h0M84.4 308.3h0M85.4 306.2h0M85.3 308.4h0M84.1 307.9h0M83.9 307.5h0M91.1 311.2h0M87.7 309.7h0M92.4 310.7h0M86.9 305.9h0M83.0 307.8h0M91.2 309.5h0M90.0 306.6h0M85.5 310.8h0M79.9 311.0h0M87.3 309.8h0M84.5 311.1h0M89.0 305.9h0M90.5 309.1h0M86.2 309.9h0M94.1 307.5h0M79.5 310.9h0M80.4 307.8h0M81.0 309.5h0M91.6 307.1h0M88.5 305.9h0M90.9 309.6h0M85.0 307.3h0M95.5 310.8h0M87.8 309.3h0M89.3 306.4h0M83.2 307.3h0M75.9 307.5h0M81.8 308.2h0M90.9 310.8h0M82.6 308.0h0M86.8 310.9h0M96.3 308.8h0M88.6 309.1h0M89.8 306.1h0M90.9 310.0h0M81.9 306.8h0M86.6 307.8h0M86.8 307.0h0M89.2 310.7h0M87.3 309.9h0M85.8 308.3h0M89.7 306.9h0M81.9 306.8h0M86.4 306.5h0M85.3 310.2h0M87.2 311.1h0M87.5 306.3h0M85.3 310.9h0M87.8 306.4h0M79.4 311.0h0M81.3 310.4h0M86.0 310.4h0M89.2 309.8h0M85.0 310.0h0M84.7 308.0h0M85.0 307.8h0M88.2 308.1h0M83.1 311.0h0M89.6 307.6h0M87.9 311.3h0M90.0 306.2h0M83.2 307.9h0M84.5 306.0h0M89.3 307.1h0M89.5 308.8h0M84.2 311.0h0M78.1 309.3h0M84.8 306.7h0M93.1 307.1h0M88.9 308.7h0M85.4 306.4h0M86.8 305.8h0M84.6 306.9h0M89.1 307.6h0M83.7 305.9h0M90.8 306.2h0M83.4 305.7h0M89.7 305.9h0M81.6 310.2h0M82.3 310.3h0M89.6 306.7h0M91.8 309.4h0M88.8 309.1h0M84.5 308.4h0M85.0 306.4h0M89.7 308.9h0M86.3 307.2h0M89.5 309.8h0M93.9 307.8h0M86.5 311.4h0M86.8 311.4h0M85.1 305.8h0M89.5 307.4h0M92.5 309.6h0M89.1 308.2h0M85.2 306.0h0M78.8 308.6h0M84.9 309.2h0M90.3 306.9h0M80.6 310.1h0M88.0 306.7h0M89.3 307.5h0M86.0 310.1h0M90.7 309.9h0M87.5 307.0h0M81.2 305.9h0M83.9 310.8h0M87.5 308.4h0M87.2 306.5h0M84.5 306.4h0M82.0 308.8h0M91.0 311.1h0M90.4 309.7h0M89.0 310.8h0M87.0 308.0h0M90.4 306.5h0M90.6 309.0h0M91.0 307.0h0M90.7 306.3h0M81.6 306.4h0M84.8 307.2h0M89.9 306.8h0M86.1 307.5h0M86.0 308.3h0M86.7 309.4h0M82.7 308.1h0M83.7 310.8h0M90.3 307.2h0M90.7 305.8h0M87.5 308.4h0M83.4 308.1h0M87.9 306.1h0M82.8 308.2h0M82.9 308.9h0M89.4 305.7h0M90.5 310.7h0M87.8 307.2h0M87.9 308.5h0M88.5 307.6h0M87.0 309.3h0M82.2 308.8h0M88.7 311.2h0M84.8 306.2h0M84.5 310.2h0M86.8 306.2h0M86.6 307.3h0M85.1 309.7h0M81.4 310.9h0M88.4 306.0h0M85.5 306.7h0M88.5 310.4h0M92.3 308.3h0M88.0 306.2h0M87.3 310.9h0M83.9 307.6h0M83.2 306.1h0M87.2 309.8h0M85.6 306.1h0M85.4 306.0h0M84.0 307.0h0M84.2 306.2h0M86.9 308.1h0M85.5 310.2h0M77.1 306.3h0M83.8 309.5h0M83.3 310.0h0M85.5 306.9h0M86.8 308.6h0M83.0 307.1h0M86.0 310.4h0M82.1 310.5h0M90.3 308.2h0M93.2 307.4h0M84.1 310.0h0M89.5 305.8h0M84.9 307.1h0M85.3 307.6h0M81.4 307.6h0M82.1 306.3h0M90.6 307.4h0M85.8 308.8h0M83.3 307.4h0M88.7 308.9h0M81.9 306.7h0M92.9 307.2h0M88.8 307.4h0M83.3 309.5h0M85.9 306.7h0M88.3 306.1h0M85.3 310.4h0M90.3 310.2h0M81.1 310.6h0M80.1 309.5h0M86.8 306.3h0M83.7 308.9h0M83.9 309.3h0M87.0 308.5h0M85.5 311.1h0M93.0 307.4h0M87.8 309.9h0M83.2 310.4h0M92.9 307.6h0M89.9 311.2h0M81.4 309.1h0M88.2 311.0h0M83.3 305.8h0M88.4 308.9h0M93.8 307.8h0M82.8 310.3h0M87.2 307.8h0M85.0 310.5h0M90.1 310.1h0M88.9 305.8h0M79.0 305.9h0M82.6 306.9h0M83.8 306.8h0M83.0 307.3h0M89.3 308.6h0M90.7 308.1h0M85.2 307.8h0M80.6 306.7h0M87.4 310.2h0M85.0 310.9h0M92.0 309.2h0M95.2 308.5h0M81.5 309.4h0M87.7 306.8h0M82.8 306.6h0M93.4 311.4h0M84.9 306.3h0M86.1 310.7h0M85.9 307.7h0M93.5 307.3h0M82.4 309.8h0M89.1 308.3h0M86.3 310.5h0M92.6 310.2h0M88.2 307.7h0M91.3 311.3h0M94.2 308.8h0M86.0 310.1h0M91.7 310.0h0M76.8 306.9h0M90.5 309.8h0M78.0 310.4h0M88.1 306.2h0M89.1 306.1h0M84.5 308.9h0M86.9 309.6h0M82.8 306.8h0M81.4 308.5h0M82.2 308.8h0M87.8 308.4h0M84.1 309.1h0M80.8 307.8h0M87.4 308.7h0M87.6 308.9h0M88.2 308.5h0M86.9 306.0h0M87.1 309.1h0M85.7 308.8h0M85.8 307.7h0M88.6 306.5h0M84.8 310.5h0M88.3 311.2h0M86.9 307.0h0M83.7 306.7h0M88.9 309.1h0M87.9 306.8h0M86.3 308.4h0M83.2 308.9h0M79.6 309.5h0M87.9 306.6h0M91.4 305.9h0M84.0 306.0h0M92.5 309.8h0M96.3 306.6h0M89.1 308.4h0M89.0 306.5h0M85.5 306.2h0M84.1 306.3h0M85.3 309.3h0M86.5 309.3h0M78.2 307.7h0M91.3 306.6h0M89.3 307.0h0M87.9 309.0h0M86.8 310.9h0M88.0 308.6h0M82.7 307.8h0M85.4 309.3h0M92.6 309.0h0M87.2 308.2h0M84.3 310.9h0M88.8 309.3h0M86.0 311.1h0M88.5 308.2h0M94.8 308.9h0M87.6 308.4h0M85.7 310.5h0M86.5 306.7h0M82.2 309.0h0M85.0 306.9h0M79.5 306.5h0M86.5 306.2h0M85.7 308.3h0M80.6 308.0h0M82.3 306.6h0M84.3 306.4h0M93.0 307.5h0M88.8 307.6h0M87.7 308.3h0M85.9 308.8h0M88.9 307.8h0M85.8 310.2h0M86.7 307.0h0M81.9 309.2h0M87.0 309.7h0M86.3 307.0h0M91.7 309.4h0M81.8 310.6h0M84.9 310.8h0M80.3 306.0h0M85.6 308.2h0M86.4 309.0h0M93.2 306.0h0M91.7 310.3h0M83.6 307.3h0M87.7 310.4h0M84.5 308.3h0M90.2 308.5h0M78.7 306.0h0M81.2 306.1h0M88.0 309.6h0" stroke="#AEAEAE" stroke-width="1.5" stroke-linecap="round" fill="none"/>
<path d="M81.6 290.1h0M81.9 298.1h0M82.0 292.7h0M78.2 286.1h0M75.9 299.1h0M78.6 302.2h0M74.4 290.7h0M78.5 269.7h0M79.9 281.8h0M74.7 290.8h0M79.0 299.6h0M81.1 304.5h0M80.8 297.0h0M82.5 295.6h0M81.3 293.2h0M75.5 293.5h0M76.5 289.5h0M81.0 280.4h0M80.6 303.6h0M81.4 287.1h0M80.3 302.4h0M82.2 290.8h0M82.1 278.9h0M82.0 282.3h0M81.6 302.3h0M81.5 281.8h0M74.2 299.1h0M81.7 301.4h0M78.5 297.9h0M81.7 299.9h0M81.9 302.0h0M81.0 304.6h0M81.6 297.1h0M82.4 289.6h0M79.9 299.9h0M80.2 292.6h0M82.0 304.8h0M79.9 302.6h0M78.9 298.5h0M81.1 276.5h0M80.1 281.6h0M78.6 293.4h0M82.1 284.7h0M81.4 303.6h0M81.9 289.0h0M81.4 280.0h0M79.1 292.1h0M82.1 298.8h0M79.3 303.6h0M80.2 299.2h0M76.5 305.2h0M81.0 304.4h0M82.4 276.5h0M78.9 302.6h0M80.2 296.6h0M77.3 304.6h0M81.8 290.2h0M78.2 300.2h0M81.5 284.1h0M79.6 275.2h0M76.5 278.9h0M81.2 297.7h0M75.8 281.0h0M77.6 287.7h0M81.6 282.2h0M81.5 303.8h0M82.3 298.8h0M79.5 296.0h0M82.5 303.7h0M80.6 305.6h0M78.5 284.7h0M80.9 287.0h0M79.3 302.0h0M82.1 288.5h0M81.7 300.1h0M82.4 297.6h0M78.8 293.7h0M81.9 303.2h0M81.3 300.5h0M82.1 279.0h0M80.8 303.3h0M78.3 302.0h0M79.5 301.2h0M81.7 301.2h0M82.3 301.4h0M81.7 305.1h0M81.4 290.7h0M79.1 268.3h0M80.0 300.7h0M77.2 300.4h0M80.9 278.7h0M82.5 300.4h0M79.7 290.6h0M78.6 298.9h0M81.6 304.9h0M79.5 303.7h0M81.9 296.7h0M81.5 294.4h0M79.5 283.4h0M79.8 281.3h0M80.8 281.4h0M81.8 281.3h0M82.1 300.4h0M81.4 270.2h0M78.8 297.1h0M80.4 276.2h0M79.8 290.4h0M79.9 286.6h0M82.0 297.8h0M80.3 293.8h0M80.0 288.9h0M76.9 304.3h0M78.4 300.2h0M78.9 275.9h0M77.2 289.8h0M80.9 270.1h0M80.5 276.3h0M81.6 303.4h0M82.3 275.8h0M79.1 297.9h0M76.2 274.1h0M79.2 303.9h0M80.3 299.2h0M79.9 287.7h0M80.8 291.8h0M79.3 298.7h0M82.0 287.3h0M80.8 293.5h0M82.5 297.2h0M81.1 305.3h0M78.9 300.7h0M81.7 289.2h0M81.1 285.2h0M80.6 273.5h0M79.6 297.0h0M81.4 305.1h0M82.6 304.2h0M81.1 294.6h0M79.6 304.9h0M82.3 289.6h0M78.0 296.2h0M81.6 300.8h0M81.6 298.8h0M81.9 305.3h0M81.2 303.6h0M82.5 298.4h0M80.4 299.4h0M82.3 289.5h0M80.6 284.9h0M81.6 300.8h0M80.1 281.0h0M81.9 290.3h0M74.2 282.8h0M78.0 296.9h0M79.6 305.1h0M78.3 304.3h0M79.2 304.6h0M77.3 301.2h0M81.5 304.6h0M82.2 296.9h0M78.5 299.0h0M80.5 297.2h0M80.1 295.6h0M80.5 287.3h0M81.7 300.8h0M80.3 303.1h0M81.9 301.0h0M81.4 285.3h0M82.4 282.2h0M81.5 293.1h0M81.5 305.0h0M81.8 282.5h0M80.8 297.8h0M82.3 276.5h0M81.5 300.6h0M81.0 298.5h0M80.2 288.0h0M81.5 270.9h0M78.1 301.8h0M79.3 299.8h0M81.0 285.4h0M81.5 268.6h0M80.2 289.3h0M78.6 295.2h0M76.5 291.0h0M80.9 299.4h0M80.6 304.2h0M80.8 303.7h0M78.0 289.0h0M78.1 303.5h0M75.1 305.4h0M82.1 302.9h0M78.1 295.8h0M80.1 271.3h0M78.3 286.7h0M76.0 301.4h0M79.0 305.5h0M81.3 304.2h0M80.3 301.6h0M81.5 286.9h0M78.6 276.1h0M79.8 293.1h0M76.7 305.2h0M80.1 296.2h0M80.4 294.1h0M79.1 277.6h0M79.6 300.1h0M81.3 289.5h0M75.0 269.8h0M80.6 299.4h0M77.9 293.4h0M80.4 296.7h0M76.9 288.8h0M82.2 296.5h0M81.3 300.3h0M80.4 292.9h0M76.5 297.9h0M79.4 300.8h0M82.2 298.8h0M82.0 289.5h0M81.3 291.5h0M80.3 301.5h0M80.0 293.1h0M79.8 301.9h0M78.8 297.3h0M79.5 303.2h0M82.4 286.7h0M75.3 280.7h0M80.7 296.0h0M82.3 301.2h0M81.7 304.6h0M78.6 294.0h0M78.5 298.0h0M80.7 274.2h0M81.9 302.8h0M78.7 273.3h0M81.1 271.7h0M78.6 302.4h0M82.1 279.2h0M80.4 276.9h0M80.1 305.0h0M75.9 303.7h0M82.2 291.6h0M81.9 282.0h0M82.5 283.8h0M81.6 281.8h0M81.3 295.8h0M81.3 298.2h0M81.6 295.5h0M82.0 299.6h0M80.5 297.8h0M74.2 297.9h0M82.3 298.5h0M77.0 305.6h0M80.9 287.5h0M78.9 283.9h0M81.9 302.4h0M80.2 291.8h0M82.1 285.4h0M80.4 295.4h0M76.4 299.8h0M78.7 289.8h0M78.4 272.0h0M81.5 298.1h0M78.5 301.1h0M77.5 291.8h0M81.4 278.2h0M79.3 305.1h0M82.2 284.4h0M81.5 284.3h0M79.8 291.2h0M81.6 303.9h0M82.2 302.4h0M79.3 294.0h0M78.5 297.8h0M81.7 303.3h0M80.9 300.4h0M77.0 293.2h0M79.6 303.8h0M80.3 302.1h0M80.7 298.4h0M77.6 288.8h0M79.1 305.4h0M77.6 286.9h0M79.9 302.8h0M77.2 270.0h0M80.8 301.5h0M81.6 283.5h0M80.2 300.6h0M76.7 299.9h0M80.8 280.7h0M77.0 281.1h0M77.9 287.9h0M77.4 282.9h0M79.2 286.7h0M81.2 275.4h0M79.7 286.2h0M74.8 302.2h0M79.3 287.6h0M81.4 300.1h0M81.8 268.1h0M78.8 299.1h0M79.6 281.0h0M78.5 301.0h0M82.5 301.8h0M76.7 301.6h0M79.8 291.4h0M76.1 290.9h0M80.1 274.3h0M79.0 286.1h0M81.5 304.1h0M77.3 298.9h0M81.1 294.1h0M81.2 297.3h0M81.3 301.8h0M82.2 293.2h0M81.4 272.3h0M81.7 278.2h0M82.1 285.0h0M79.6 276.4h0M81.0 293.2h0M79.8 303.1h0M79.2 272.0h0M80.9 297.9h0M82.1 303.9h0M80.8 301.7h0M80.0 298.3h0M78.9 305.0h0M82.5 290.0h0M77.3 294.3h0M81.2 291.6h0M80.4 275.6h0M80.1 298.7h0M80.6 304.4h0M81.5 284.5h0M82.0 296.1h0M82.2 304.3h0M75.7 286.7h0M79.0 295.9h0M82.3 270.4h0M81.4 271.8h0M78.4 304.1h0M81.2 296.0h0M81.1 305.1h0M78.6 282.2h0M78.4 300.6h0M78.5 283.6h0M82.2 287.4h0M82.0 305.3h0M81.9 299.8h0M79.2 276.7h0M78.6 292.4h0M81.2 283.1h0M81.8 303.4h0M82.5 297.7h0M79.2 299.5h0M82.1 297.6h0M82.3 297.0h0M82.2 299.6h0M79.5 291.0h0M79.1 305.6h0M80.7 276.8h0M79.1 281.3h0M79.0 274.6h0M81.6 301.7h0M78.2 292.4h0M79.3 295.0h0M80.9 301.3h0M80.2 288.4h0M81.6 285.6h0M78.0 300.2h0M82.0 302.5h0M75.2 301.1h0M80.6 297.0h0M81.7 292.8h0M77.6 295.7h0M77.9 301.7h0M79.9 275.2h0M75.7 284.4h0M81.7 298.8h0M81.6 304.0h0M79.3 298.7h0M81.9 291.4h0M74.1 301.3h0M81.2 280.8h0M80.9 297.4h0M81.0 300.1h0M82.6 293.6h0M82.2 269.1h0M81.7 301.6h0M78.2 292.4h0M81.4 278.9h0M81.5 302.2h0M78.7 299.0h0M81.6 295.6h0M80.7 299.6h0M78.1 290.3h0M81.5 300.4h0M81.6 296.7h0M81.5 304.0h0M81.6 286.3h0M80.5 274.4h0M81.4 302.6h0M82.5 304.6h0M74.4 287.4h0M79.4 273.5h0M79.0 276.7h0M77.9 301.3h0M78.8 269.8h0M77.7 292.5h0M80.2 302.3h0M74.5 303.4h0M74.8 305.1h0M81.1 302.6h0M80.6 284.7h0M81.1 287.3h0M80.1 305.0h0M82.0 304.0h0M80.9 281.0h0M82.5 286.7h0M80.8 287.4h0M82.5 275.3h0M80.4 291.6h0M80.4 305.1h0M82.2 278.8h0M81.7 295.2h0M81.9 291.3h0M79.2 272.7h0M82.5 290.5h0M78.2 300.2h0M82.4 305.2h0M78.4 290.2h0M81.4 273.7h0M81.1 305.2h0M79.6 302.0h0M79.9 280.8h0M80.8 289.0h0M81.1 304.3h0M79.9 289.1h0M82.5 290.5h0M82.5 281.4h0M82.3 296.0h0M82.2 278.5h0M81.3 298.7h0M78.5 290.7h0M76.7 281.3h0M80.5 292.3h0M81.5 303.8h0M82.3 301.0h0M79.9 304.1h0M79.4 298.3h0M80.6 298.8h0M77.9 293.9h0M76.8 297.9h0M80.8 304.2h0M81.6 284.3h0M77.6 305.3h0M80.7 282.2h0M80.7 301.1h0M74.4 299.2h0M74.7 304.6h0M80.6 293.5h0M82.1 305.6h0M82.2 304.9h0M79.4 297.8h0M79.3 279.6h0M81.3 278.8h0M80.4 288.9h0M81.1 304.4h0M82.2 293.8h0M80.1 302.1h0M82.4 299.8h0M80.4 296.9h0M80.8 269.0h0M81.9 285.2h0M81.0 269.3h0M81.9 298.7h0M81.9 293.2h0M81.7 294.0h0M80.9 300.5h0M81.5 299.3h0M82.3 294.1h0M79.8 305.6h0M82.4 281.3h0M82.2 287.6h0M79.1 303.5h0M79.1 294.0h0M80.3 293.1h0M82.5 295.6h0M77.3 305.4h0M80.7 289.4h0M80.9 288.0h0M81.0 298.8h0M79.5 305.4h0M75.3 299.2h0M77.7 305.1h0M81.2 300.7h0M80.2 292.1h0M80.7 304.6h0M82.0 294.6h0M82.4 271.3h0M78.9 304.8h0M80.4 302.4h0M81.5 270.1h0M78.9 299.8h0M78.9 301.4h0M79.8 304.0h0M80.6 305.4h0M81.4 297.2h0M76.6 296.1h0M80.3 304.9h0M77.3 287.7h0M81.6 283.6h0M78.1 301.5h0M81.9 284.4h0M77.5 285.7h0M80.9 279.4h0M81.2 287.4h0M80.9 295.5h0M76.5 302.0h0M79.4 274.9h0M80.6 292.9h0M82.1 288.0h0M78.5 300.6h0M79.3 284.1h0M79.5 296.9h0M81.2 297.8h0M82.0 291.0h0M77.6 302.0h0M80.7 293.8h0M81.0 286.3h0M79.4 298.7h0M82.5 293.0h0M79.9 293.6h0M82.1 277.6h0M80.0 305.2h0M82.1 294.1h0M80.1 298.8h0M81.3 287.2h0M78.6 298.8h0M81.3 294.4h0M79.9 302.8h0M82.1 288.7h0M80.0 297.1h0M81.7 305.4h0M78.9 289.5h0M80.0 273.5h0M79.1 304.2h0M82.5 288.8h0M80.7 281.5h0M81.7 272.1h0M78.0 299.2h0M81.6 304.7h0M79.6 294.8h0M81.9 293.0h0M81.1 293.8h0M78.7 287.1h0M80.7 305.1h0M79.1 293.3h0M82.0 287.7h0M81.7 305.1h0M80.7 286.7h0M76.1 301.9h0M81.2 277.5h0M75.2 290.3h0M80.1 295.0h0M81.9 289.4h0M76.8 284.5h0M81.3 303.9h0M75.3 302.9h0M82.3 277.4h0M78.5 284.2h0M79.2 274.0h0M82.1 288.9h0M82.5 286.9h0M76.0 300.3h0M81.2 294.5h0M82.1 293.4h0M79.4 278.6h0M78.3 302.4h0M82.2 302.3h0M80.4 274.3h0M80.7 293.0h0M81.5 299.3h0M82.4 275.4h0M80.5 295.1h0M82.4 296.4h0M82.5 299.2h0M80.5 291.7h0M79.9 296.6h0M80.7 292.8h0M81.2 290.6h0M80.3 303.9h0M80.2 304.5h0M79.8 303.1h0M82.2 298.1h0M81.4 286.6h0M80.4 292.9h0M82.0 270.5h0M80.7 305.2h0M81.6 271.5h0M80.8 294.2h0M82.0 300.1h0M78.1 289.1h0M80.8 296.5h0M81.9 284.6h0M78.2 301.8h0M80.5 304.7h0M74.8 290.1h0M82.5 292.3h0M75.0 298.6h0M77.8 300.6h0M76.5 297.6h0M81.7 301.4h0M80.5 293.5h0M79.2 305.1h0M79.5 284.6h0M82.5 296.8h0M80.7 289.9h0M79.8 299.8h0M79.3 284.0h0M81.1 303.2h0M81.7 295.8h0M82.6 284.7h0M82.3 297.6h0M79.1 288.0h0M81.4 303.4h0M76.3 301.6h0M81.0 292.7h0M78.3 286.6h0M81.1 297.2h0M81.2 292.8h0M75.0 305.0h0M82.3 277.1h0M79.0 294.1h0M81.7 286.4h0M82.6 285.7h0M80.7 289.4h0M78.2 301.3h0M81.5 299.0h0M79.9 282.6h0M78.6 300.7h0M80.3 296.2h0M79.6 296.9h0M79.2 292.3h0M82.4 291.1h0M81.7 298.2h0M82.0 304.1h0M82.3 297.6h0M78.9 291.7h0M81.8 302.1h0M74.3 289.6h0M78.7 296.3h0M81.1 300.1h0M77.3 302.5h0M81.9 305.0h0M81.1 296.8h0M81.0 300.9h0M79.8 296.6h0M82.4 282.2h0M77.7 277.8h0M82.5 275.8h0M80.4 289.3h0M80.7 288.5h0M81.8 274.6h0M82.5 299.4h0M81.1 296.2h0M77.1 302.0h0M82.2 274.0h0M81.9 284.6h0M80.2 281.2h0M81.8 277.7h0M80.8 293.2h0M80.8 288.0h0M81.0 295.5h0M79.2 304.8h0M81.2 305.2h0M80.5 304.7h0M77.9 304.2h0M80.5 293.4h0M77.3 290.4h0M80.2 294.1h0M77.4 295.2h0M74.9 305.0h0M79.2 302.3h0M82.5 273.7h0M81.4 303.9h0M78.5 273.1h0M81.5 268.4h0M78.0 303.4h0M82.1 296.2h0M81.8 283.6h0M78.1 282.6h0M81.2 290.4h0M82.1 300.2h0M81.5 277.7h0M81.5 282.5h0M78.6 297.1h0M81.6 302.1h0M80.7 303.1h0M78.4 281.1h0M78.7 293.7h0M79.1 299.5h0M74.1 303.9h0M80.2 288.3h0M74.5 287.1h0M81.7 288.1h0M78.6 304.7h0M76.7 295.1h0M82.3 303.5h0M79.4 304.6h0M74.3 300.1h0M82.5 303.6h0M81.3 289.3h0M79.9 292.1h0M79.9 295.5h0M79.2 280.9h0M81.4 296.5h0M79.0 299.3h0" stroke="#1515E8" stroke-width="1.5" stroke-linecap="round" fill="none"/>
<path d="M79.5 266.2h0M75.7 265.6h0M72.9 291.2h0M67.9 298.1h0M73.8 303.9h0M77.2 260.1h0M81.8 267.7h0M69.0 288.0h0M79.3 264.8h0M80.2 267.5h0M77.6 263.5h0M72.0 283.2h0M73.9 298.7h0M73.7 288.3h0M73.0 279.9h0M79.2 228.8h0M68.3 299.9h0M70.4 290.7h0M82.4 264.5h0M82.5 262.4h0M73.7 269.4h0M68.9 268.1h0M71.0 289.7h0M79.2 264.1h0M81.5 265.9h0M68.6 284.0h0M81.4 263.9h0M70.3 300.8h0M73.0 289.4h0M71.8 305.3h0M68.4 301.1h0M71.0 254.0h0M80.9 262.3h0M73.0 262.8h0M71.9 301.9h0M71.3 302.1h0M80.8 263.7h0M72.1 301.6h0M69.0 303.4h0M81.1 265.9h0M73.8 283.0h0M70.9 292.3h0M82.1 267.4h0M80.1 257.6h0M71.2 294.4h0M73.8 296.2h0M80.5 267.3h0M73.1 240.0h0M69.7 305.5h0M72.6 302.0h0M69.3 283.2h0M73.7 284.2h0M82.4 266.1h0M69.9 271.0h0M72.4 303.9h0M81.0 263.5h0M71.9 285.4h0M78.1 264.2h0M73.1 285.4h0M70.6 268.8h0M71.2 300.5h0M65.6 291.1h0M82.1 266.2h0M78.4 265.7h0M70.8 288.5h0M73.1 294.9h0M70.1 295.1h0M64.7 302.8h0M78.7 264.6h0M71.7 304.6h0M76.9 262.1h0M78.0 263.6h0M75.3 249.2h0M69.0 293.2h0M74.4 237.9h0" stroke="#2020B0" stroke-width="1.55" stroke-linecap="round" fill="none"/>
<path d="M73.7 219.0h0M76.7 243.0h0M72.2 248.7h0M74.9 255.0h0M78.2 258.4h0M79.0 258.1h0M77.5 261.4h0M79.7 263.7h0M68.2 270.2h0M69.0 273.8h0M72.6 275.0h0M71.4 282.8h0M72.0 281.0h0M73.2 288.2h0M71.4 292.4h0M72.0 294.8h0" stroke="#202085" stroke-width="1.6" stroke-linecap="round" fill="none"/>
<path d="M93.8 294.1h0M94.5 288.1h0M91.1 305.3h0M91.5 301.2h0M92.0 300.6h0M90.8 276.6h0M91.3 293.6h0M97.3 299.7h0M92.2 285.3h0M93.7 273.3h0M96.7 304.2h0M100.2 281.0h0M100.2 294.5h0M94.7 285.1h0M97.2 304.3h0M93.3 281.5h0M91.4 294.4h0M98.2 290.7h0M90.8 300.4h0M94.9 300.9h0M91.2 267.7h0M98.0 297.4h0M99.5 304.2h0M94.9 274.6h0M94.6 287.7h0M99.5 297.2h0M95.4 272.3h0M91.1 269.7h0M93.9 298.2h0M99.0 298.8h0M100.3 303.1h0M95.2 297.8h0M90.8 301.5h0M91.6 298.9h0M94.9 299.2h0M91.5 291.3h0M94.3 297.6h0M97.1 283.0h0M92.3 267.8h0M91.3 279.8h0M95.5 288.2h0M93.1 300.0h0M97.7 298.4h0M96.1 261.4h0M98.9 273.0h0M99.3 303.1h0M91.4 291.6h0M91.7 264.7h0M91.3 294.5h0M91.9 291.6h0M92.5 284.4h0M98.9 298.1h0M94.3 289.4h0M91.4 299.3h0M93.0 297.6h0M93.7 305.6h0M91.8 279.5h0M92.4 302.3h0M94.2 287.8h0M92.0 300.6h0M100.6 302.6h0M90.8 297.0h0M93.1 298.6h0M91.2 305.1h0M91.8 266.7h0M93.5 283.8h0M96.5 281.2h0M92.6 304.6h0M92.4 299.1h0M93.3 265.8h0M93.3 301.4h0M95.1 287.7h0M95.0 304.6h0M91.8 274.7h0M94.1 296.3h0M100.5 305.6h0M92.1 301.5h0M98.3 303.9h0M96.2 270.1h0M94.7 296.4h0M95.2 252.2h0M91.7 275.1h0M93.3 293.5h0M93.2 302.9h0M91.7 286.3h0M93.3 298.8h0M98.6 292.9h0M94.7 274.6h0M93.3 260.0h0M93.8 278.5h0M91.0 295.0h0M101.5 287.6h0M93.0 284.4h0M90.8 289.8h0M103.4 294.0h0M94.2 280.4h0M98.9 294.2h0M93.4 289.8h0M93.4 302.7h0M91.8 304.1h0M100.0 302.9h0M96.6 290.5h0M97.6 299.6h0M95.8 286.8h0M98.4 301.5h0M99.6 288.8h0M102.9 304.7h0M97.9 301.3h0M97.9 305.3h0M98.2 289.5h0M96.3 279.8h0M90.8 288.1h0M93.2 267.4h0M94.7 263.9h0M92.3 286.1h0M96.2 303.4h0M93.6 303.7h0M91.5 302.8h0M93.6 298.3h0M96.4 289.8h0M96.9 281.7h0M101.9 305.1h0M94.3 290.8h0M93.1 288.2h0M96.0 290.5h0M101.8 303.2h0M99.4 299.1h0M94.3 291.9h0M100.5 304.0h0M91.4 299.5h0M92.5 291.7h0M94.1 286.3h0M94.2 287.8h0M92.4 293.9h0M97.9 289.1h0M91.0 287.6h0M95.0 296.9h0M94.5 280.7h0M91.3 287.4h0M91.1 288.8h0M97.4 287.7h0M93.5 288.2h0M92.5 290.7h0M91.3 284.5h0M93.7 295.1h0M91.0 292.2h0M94.8 302.2h0M99.0 302.1h0M94.0 294.1h0M95.2 267.4h0M98.5 291.1h0M93.2 288.5h0M98.5 304.7h0M92.5 293.1h0M93.7 294.8h0M94.3 288.4h0M93.5 275.8h0M95.6 300.6h0M92.1 300.1h0M91.0 294.9h0M101.8 299.9h0M96.1 294.8h0M93.3 290.7h0M90.9 304.6h0M92.1 302.0h0M91.1 270.8h0M91.5 304.6h0M96.4 293.0h0M97.8 288.9h0M94.0 284.6h0M95.7 303.4h0M99.5 293.3h0M91.2 299.6h0M93.4 303.8h0M95.2 283.8h0M90.7 283.7h0M91.6 294.2h0M93.3 286.2h0M97.1 305.0h0M91.6 299.9h0M97.7 294.5h0M103.6 287.4h0M95.0 291.1h0M99.1 300.3h0M94.5 303.6h0M90.8 290.2h0M99.1 278.2h0M97.0 296.1h0M98.5 283.8h0M97.0 291.7h0M97.6 305.5h0M91.0 292.2h0M94.6 295.9h0M92.5 288.6h0M94.2 276.9h0M90.7 303.6h0M93.7 302.5h0M95.3 303.1h0M91.4 285.2h0M91.8 278.3h0M97.2 278.3h0M95.3 292.3h0M97.6 301.8h0M96.0 301.7h0M93.4 286.7h0M93.5 286.2h0M94.0 265.8h0M92.3 272.6h0M101.4 300.3h0M94.7 285.3h0M94.3 288.1h0M94.5 300.5h0M101.4 298.4h0M96.3 294.5h0M95.4 278.2h0M94.8 281.4h0M92.1 285.8h0M94.7 272.4h0M94.2 297.1h0M93.5 299.5h0M93.1 299.5h0M92.1 299.0h0M92.0 284.6h0M94.8 292.5h0M92.4 296.7h0M93.8 285.0h0M101.2 300.1h0M93.3 282.2h0M99.2 253.8h0M101.9 299.1h0M100.4 284.3h0M96.2 269.4h0M95.8 300.1h0M91.5 289.3h0M101.6 300.2h0M91.4 280.5h0M94.3 297.6h0M92.1 300.4h0M92.9 280.9h0M93.2 296.5h0M95.5 302.3h0M96.5 303.8h0M97.0 295.1h0M94.6 265.9h0M94.7 304.3h0M98.5 305.5h0M102.5 304.2h0M91.4 286.8h0M93.9 285.0h0M93.0 298.7h0M93.5 291.3h0M96.5 283.6h0M94.3 303.8h0M95.1 301.9h0M93.1 302.4h0M95.4 281.2h0M95.6 299.0h0M91.4 292.4h0M91.2 273.3h0M97.1 272.7h0M95.6 302.5h0M90.6 288.4h0M99.0 302.1h0M94.0 304.8h0M95.6 303.4h0M91.0 277.1h0M92.6 299.2h0M90.7 304.9h0M94.5 266.1h0M93.7 284.1h0M96.8 294.9h0M94.9 297.7h0M97.0 301.3h0M94.0 304.6h0M103.5 282.0h0M92.8 288.0h0M93.5 278.0h0M94.7 279.2h0M98.2 293.8h0M92.6 268.6h0M98.8 283.5h0M99.3 287.7h0M92.0 292.2h0M92.8 275.9h0M95.1 304.9h0M98.1 301.9h0M94.1 301.9h0M91.5 299.8h0M99.2 302.2h0M97.3 300.2h0M97.3 295.3h0M93.8 293.9h0M96.4 280.3h0M93.3 279.8h0M95.6 303.3h0M97.7 287.4h0M91.0 304.2h0M93.7 304.9h0M90.8 269.7h0M92.1 271.6h0M90.6 283.0h0M91.5 302.1h0M103.0 299.8h0M94.4 269.5h0M95.0 304.0h0M90.9 286.0h0M99.5 286.6h0M97.6 299.7h0M95.0 266.1h0M91.7 287.5h0M90.8 290.3h0M93.2 285.0h0M96.8 301.1h0M96.4 290.6h0M90.9 304.6h0M102.0 276.7h0M93.7 299.4h0M101.4 294.4h0M91.7 288.2h0M95.9 304.3h0M91.3 300.9h0M97.0 293.2h0M94.9 299.6h0M92.8 300.0h0M95.7 280.6h0M99.0 291.4h0M91.5 297.3h0M91.5 287.1h0M92.4 285.9h0M93.4 257.9h0M92.4 304.6h0M100.0 267.1h0M91.4 296.7h0M95.6 294.3h0M94.4 286.1h0M91.2 258.8h0M92.9 303.9h0M91.0 292.4h0M91.8 286.8h0M93.7 304.0h0M99.6 299.2h0M95.6 303.2h0M94.0 257.5h0M94.6 297.5h0M96.8 283.3h0M97.4 304.2h0M93.2 297.5h0M94.3 294.1h0M96.6 292.1h0M94.9 291.1h0M91.1 289.2h0M91.7 271.1h0M92.5 302.1h0M91.6 259.9h0M94.5 304.2h0M91.5 301.9h0M91.8 286.5h0M102.9 300.5h0M93.4 283.4h0M101.3 301.1h0M94.6 288.4h0M95.8 300.6h0M94.3 304.0h0M91.3 266.3h0M91.1 302.7h0M91.0 296.6h0M90.7 298.7h0M91.6 294.5h0M95.7 300.7h0M93.5 275.3h0M94.5 279.4h0M97.7 297.5h0M91.9 295.4h0M94.3 292.7h0M91.7 288.5h0M96.6 280.3h0M99.3 252.4h0M90.7 282.1h0M95.4 305.6h0M93.5 284.2h0M93.3 303.4h0M91.0 287.7h0M91.1 267.0h0M95.0 274.1h0M94.3 300.7h0M92.2 293.2h0M97.8 281.6h0M99.3 303.8h0M90.7 299.2h0M95.2 298.8h0M95.0 276.2h0M93.7 280.4h0M92.6 281.4h0M92.7 300.0h0M97.7 298.3h0M93.5 274.0h0M94.5 292.1h0M96.1 274.4h0M90.9 266.9h0M95.1 292.9h0M102.0 302.6h0M97.4 294.1h0M94.2 304.6h0M92.3 289.1h0M91.9 298.5h0M97.6 298.0h0M98.4 303.1h0M97.2 288.5h0M92.8 259.5h0M94.4 290.2h0M99.2 283.1h0M91.2 303.1h0M92.3 291.8h0M100.2 303.3h0M94.7 303.1h0M92.9 294.4h0M92.7 285.7h0M95.3 301.2h0M92.6 297.0h0M94.1 271.6h0M93.1 274.1h0M92.6 295.7h0M90.7 304.0h0M95.1 297.9h0M91.1 289.5h0M95.2 301.9h0M92.4 283.9h0M93.3 298.6h0M91.1 271.9h0M91.5 305.1h0M93.2 295.1h0M92.0 266.8h0M92.2 298.4h0M92.7 294.8h0M92.7 300.3h0M99.1 297.4h0M92.2 293.1h0M96.5 291.6h0M91.9 271.8h0M93.3 297.6h0M90.8 273.7h0M91.4 304.4h0M95.7 303.8h0M94.8 289.4h0M94.1 280.0h0M92.5 290.9h0M95.8 274.0h0M93.3 281.7h0M92.7 273.9h0M97.9 251.0h0M92.6 305.2h0M99.0 298.0h0M92.2 274.2h0M98.3 294.0h0M92.2 286.9h0M96.0 299.1h0M97.1 279.3h0M93.5 303.8h0M90.7 262.1h0M98.4 304.0h0M99.7 286.7h0M95.6 302.4h0M96.8 292.8h0M94.2 295.7h0M91.5 276.0h0M93.2 298.1h0M100.6 303.7h0M91.1 282.1h0M97.2 287.3h0M95.3 298.5h0M95.2 304.9h0M91.8 268.0h0M103.0 300.7h0M98.5 304.2h0M95.9 288.9h0M97.5 270.2h0M93.6 297.8h0M93.4 286.9h0M93.6 287.0h0M90.6 303.7h0M91.2 259.6h0M92.9 275.5h0M91.2 281.0h0M91.7 297.3h0M97.7 296.8h0M90.7 283.3h0M91.2 287.3h0M95.3 300.8h0M91.1 277.1h0M91.4 280.2h0M90.7 291.8h0M94.5 303.3h0M99.3 301.0h0M91.9 302.9h0M95.2 266.0h0M101.4 298.5h0M99.1 282.9h0M98.2 289.7h0M92.1 294.5h0M97.4 254.6h0M103.0 305.5h0M95.1 295.0h0M91.0 298.8h0M96.2 285.5h0M101.4 303.4h0M91.8 296.0h0M100.8 266.9h0M96.5 280.4h0M91.3 269.6h0M95.3 302.4h0M101.0 301.7h0M93.8 279.1h0M96.0 287.3h0M94.4 260.8h0M99.2 283.0h0M92.7 298.4h0M100.7 305.0h0M95.7 295.6h0M96.4 275.3h0M91.2 302.3h0M91.9 305.2h0M93.1 296.5h0M92.9 280.2h0M94.5 278.3h0M93.1 295.3h0M95.2 290.4h0M93.1 272.7h0M92.6 301.6h0M103.4 296.4h0M93.0 284.0h0M96.6 295.1h0M92.6 277.7h0M98.4 296.9h0M92.3 291.4h0M96.7 301.9h0M91.1 292.9h0M95.3 284.4h0M92.6 300.2h0M98.6 294.0h0M92.2 287.6h0M92.6 303.4h0M94.8 289.2h0M91.3 268.3h0M90.8 293.9h0M99.8 289.6h0M97.1 294.7h0M91.7 279.6h0M96.0 291.1h0M97.1 287.9h0M100.5 299.2h0M93.7 290.5h0M93.9 275.4h0M92.4 261.0h0M94.0 262.1h0M95.9 283.4h0M94.5 286.9h0M94.4 296.4h0M96.1 285.0h0M90.8 286.0h0M92.0 299.0h0M94.9 268.3h0M94.2 286.1h0M93.5 285.8h0M91.7 279.4h0M91.4 259.2h0M93.2 287.6h0M96.5 291.2h0M92.0 292.2h0M97.1 282.7h0M92.2 293.7h0M92.0 294.3h0M92.3 300.6h0M96.2 293.8h0M94.4 302.5h0M94.4 297.7h0M92.8 303.5h0M97.6 304.4h0M101.7 294.8h0M96.7 305.1h0M91.1 304.9h0M94.0 297.2h0M93.5 293.6h0M97.4 301.8h0M93.0 280.3h0M94.3 301.1h0M93.6 295.5h0M93.0 301.2h0M95.9 288.0h0M98.6 295.0h0M92.1 269.5h0M93.6 303.4h0M94.6 304.3h0M99.4 292.8h0M91.8 278.8h0M97.7 303.4h0M91.2 270.7h0M101.5 304.9h0M95.8 298.9h0M94.9 295.0h0M91.6 285.5h0M94.4 298.2h0M94.4 292.5h0M91.1 299.1h0M99.0 305.5h0M92.1 289.0h0M90.8 280.5h0M92.6 297.4h0M93.5 289.7h0M94.9 276.3h0M94.0 283.7h0M91.6 301.2h0M91.0 298.1h0M92.4 300.1h0M92.4 282.7h0M96.4 290.6h0M96.6 295.8h0M93.4 279.9h0M93.4 265.3h0M93.8 291.8h0M97.4 300.0h0M92.5 294.9h0M94.0 290.1h0M95.3 299.7h0M92.0 299.9h0M91.8 285.2h0M91.2 261.4h0M95.7 281.5h0M94.7 299.9h0M91.7 297.2h0M95.9 286.0h0M101.2 300.1h0M94.7 293.4h0M97.6 291.4h0M92.5 288.2h0M96.1 296.7h0M91.6 281.7h0M99.4 298.4h0M95.4 275.7h0M91.4 301.2h0M91.6 291.5h0M94.0 268.9h0M91.2 305.4h0M98.3 264.6h0M90.8 285.9h0M91.0 290.3h0M100.5 303.2h0M95.1 276.4h0M92.6 272.5h0M96.3 294.6h0M93.6 285.2h0M91.3 302.5h0M90.9 288.2h0M95.4 290.6h0M91.4 285.7h0M97.5 296.6h0M97.2 304.9h0M91.2 296.7h0M100.5 304.8h0M96.3 297.3h0M93.0 287.9h0M90.9 284.3h0M95.7 299.5h0M96.7 259.5h0M94.3 274.2h0M93.6 297.6h0M97.2 281.7h0M92.4 304.8h0M90.9 267.9h0M98.1 292.6h0M98.8 293.2h0M92.1 302.3h0M94.0 271.8h0M94.4 297.2h0M93.3 289.6h0M93.4 264.2h0M92.7 283.3h0M92.5 302.7h0M102.3 305.3h0M96.3 287.2h0M97.3 304.4h0M93.3 289.3h0M91.5 297.3h0M94.3 301.9h0M92.2 267.4h0M93.4 265.4h0M96.7 269.2h0M100.1 302.2h0M94.2 297.3h0M92.7 264.5h0M92.0 294.9h0M93.8 277.6h0M96.1 301.3h0M94.4 305.5h0M94.2 299.2h0M102.4 253.1h0M91.8 301.7h0M98.3 292.4h0M91.2 298.0h0M99.1 291.1h0M102.1 293.7h0M95.3 298.5h0M95.6 290.2h0M100.2 301.9h0M98.4 291.6h0M91.9 304.0h0M92.6 296.8h0M99.1 290.4h0M93.8 294.4h0M90.9 280.0h0M92.8 287.1h0M96.1 291.8h0M94.3 284.5h0M94.2 272.8h0M91.0 298.9h0M94.6 287.7h0M98.5 304.5h0M93.0 304.0h0M95.1 302.6h0M91.4 297.3h0M95.4 292.6h0M94.4 293.2h0M92.1 286.8h0M93.1 292.7h0M91.6 284.1h0M92.8 270.9h0M94.0 305.2h0M95.9 299.8h0M94.3 284.0h0M92.8 301.3h0M93.1 277.4h0M95.1 295.6h0M92.3 297.2h0M94.5 294.6h0M91.6 303.5h0M96.7 302.5h0M96.2 285.8h0M97.4 298.5h0M92.9 303.0h0M92.0 287.1h0M95.9 303.7h0M93.8 269.1h0M91.1 286.9h0M97.9 272.2h0M91.9 301.7h0M90.7 290.8h0M91.6 284.1h0M102.7 286.5h0M93.2 270.4h0M95.6 256.2h0M97.7 298.3h0M94.9 301.2h0M96.5 297.5h0M92.3 278.8h0M92.8 294.4h0M97.3 293.9h0M93.1 293.9h0M94.2 286.9h0M95.4 277.9h0M92.8 294.1h0M94.6 304.8h0M93.0 291.6h0M94.3 302.2h0M99.7 302.3h0M91.3 303.5h0M93.9 293.7h0M96.7 290.0h0M96.4 299.5h0M91.1 283.6h0M92.0 300.3h0M97.8 303.4h0M91.2 305.2h0M93.4 301.3h0M93.4 290.1h0M93.1 298.1h0M93.7 283.5h0M92.4 300.7h0M95.2 299.7h0M95.8 305.3h0M95.2 271.8h0M90.9 283.4h0M91.9 305.2h0M95.4 285.1h0M97.3 284.5h0M94.6 261.9h0M99.5 287.2h0M94.0 287.3h0M97.3 286.0h0M92.4 294.6h0M94.5 305.3h0M94.6 299.8h0M97.9 294.0h0M92.5 298.5h0M97.4 278.4h0M96.1 304.1h0M92.3 279.0h0M93.8 304.4h0M94.5 297.3h0M97.5 299.7h0M93.5 288.9h0M100.9 304.7h0M98.1 283.2h0M100.8 301.0h0M94.8 286.0h0M90.7 266.1h0M96.8 301.8h0M93.4 296.3h0M95.6 302.0h0M100.3 304.8h0M93.1 302.4h0M95.8 303.7h0M91.1 301.3h0M92.0 305.5h0M95.8 294.3h0M100.3 302.9h0M92.8 294.1h0M94.2 301.8h0M90.9 290.9h0M93.6 304.3h0M100.5 294.8h0M97.6 304.8h0M91.0 282.8h0M92.0 282.9h0M94.4 293.3h0M92.5 303.5h0M91.2 286.1h0M94.7 288.7h0M94.8 299.4h0M94.7 299.9h0M94.2 293.0h0M95.8 298.7h0M96.1 305.2h0M94.2 291.4h0M93.3 267.0h0M92.2 270.3h0M96.0 296.7h0M97.6 283.2h0M93.7 293.6h0M91.5 269.5h0M94.7 297.0h0M96.2 287.4h0M100.9 284.7h0M91.5 281.1h0M98.5 300.8h0M91.6 273.3h0M102.8 301.7h0M93.0 297.5h0M93.8 292.6h0M97.4 268.5h0M98.0 283.7h0M95.4 301.9h0M95.0 291.1h0M92.9 302.6h0M94.0 252.2h0M99.3 295.6h0M94.6 300.3h0M95.6 274.9h0M92.9 280.2h0M91.9 300.1h0M94.6 302.5h0M98.5 292.6h0M94.5 279.8h0M93.6 301.4h0M97.2 298.8h0M100.4 292.7h0M93.6 290.3h0M94.3 296.3h0M91.1 286.0h0M97.3 291.9h0M93.2 290.0h0M91.5 301.3h0M95.7 304.2h0M91.1 290.7h0M102.0 296.4h0M93.0 278.3h0M101.4 302.3h0M92.1 304.8h0M98.0 305.6h0M94.9 285.2h0M91.3 281.0h0M93.4 293.7h0M92.9 304.3h0M91.5 280.8h0M93.5 264.2h0M95.8 294.7h0M96.2 297.9h0M92.1 292.0h0M91.3 271.7h0M95.3 305.6h0M96.8 304.0h0M92.7 279.1h0M93.2 266.8h0M91.1 303.0h0M93.1 303.2h0M98.0 263.8h0M92.1 293.6h0M97.5 277.6h0M96.5 298.1h0M94.2 283.1h0M94.7 303.2h0M98.3 283.4h0M93.7 273.1h0M95.7 302.1h0M92.4 303.2h0M92.8 269.9h0M97.3 300.6h0M95.3 305.2h0M92.9 303.6h0M97.9 301.0h0M92.1 297.8h0M92.0 301.6h0M91.9 293.0h0M92.0 299.2h0M90.6 305.5h0M92.0 296.7h0M95.1 288.0h0M96.4 282.3h0M94.9 290.4h0M96.3 271.9h0M92.6 292.6h0M100.0 295.5h0M96.0 278.0h0M95.1 295.0h0M93.4 282.9h0M91.3 290.6h0M93.0 301.4h0M95.3 303.5h0M91.8 279.9h0M99.0 305.1h0M97.7 267.2h0M92.4 302.4h0M95.1 262.8h0M99.1 297.6h0M95.3 272.3h0M97.6 300.5h0M96.6 300.9h0M95.2 288.2h0M91.7 305.4h0M96.7 285.3h0M92.1 302.3h0M92.7 295.6h0M92.1 304.6h0M93.3 284.5h0M95.1 288.7h0M91.0 301.3h0M92.7 286.0h0M93.9 254.2h0M91.2 289.2h0M92.1 287.2h0M101.3 279.2h0M96.9 299.0h0M92.0 288.6h0M99.3 296.7h0M97.2 256.5h0M93.3 292.5h0M93.0 267.4h0M96.7 296.5h0M94.0 286.6h0M93.3 292.8h0M98.5 277.9h0M96.3 292.7h0M93.2 283.5h0M92.7 291.1h0M90.8 274.9h0M95.4 291.0h0M95.9 304.4h0M92.2 269.8h0M93.9 276.0h0M91.7 273.5h0M90.7 293.8h0M91.2 297.7h0M94.1 280.5h0M92.9 299.5h0M95.7 301.3h0M90.9 298.8h0M103.2 303.7h0M97.1 300.0h0M91.6 304.4h0M92.6 296.9h0M91.4 279.3h0M93.5 271.2h0M91.0 289.9h0M92.9 290.9h0M90.8 276.4h0M90.7 292.1h0M94.0 295.8h0M93.0 280.9h0M92.2 297.0h0M95.2 278.8h0M92.7 276.8h0M90.9 295.9h0M99.6 305.1h0M92.2 283.8h0M93.5 281.7h0M99.8 299.4h0M98.6 292.3h0M93.1 287.3h0M92.9 290.7h0M94.8 270.2h0M92.0 298.4h0M94.1 303.1h0M94.7 288.0h0M92.9 288.0h0M91.8 266.8h0M92.5 276.6h0M98.1 304.4h0M92.2 276.5h0M91.3 285.0h0M93.5 304.5h0M92.0 260.9h0M95.0 304.0h0M90.8 273.8h0M91.0 298.9h0M90.9 292.8h0M90.7 264.7h0M90.8 263.4h0M94.0 292.1h0M94.1 299.4h0M99.4 296.5h0M96.8 304.0h0M95.8 300.5h0M91.1 280.1h0M92.0 277.1h0M98.4 303.5h0M90.9 289.3h0M94.0 296.8h0M92.5 263.0h0M93.1 291.7h0M96.1 304.1h0M92.0 265.9h0M91.3 292.1h0M90.7 288.9h0M97.2 298.7h0M98.4 290.1h0M96.3 288.6h0M91.3 294.5h0M90.7 304.8h0M91.4 301.2h0M96.3 294.8h0M99.5 300.2h0M96.6 295.7h0M90.7 277.8h0M90.8 301.9h0M92.4 292.8h0M92.0 302.6h0M93.0 286.9h0M93.8 294.5h0M93.0 269.8h0M91.1 299.8h0M98.5 290.1h0M92.6 300.2h0M90.7 284.5h0M95.3 293.7h0M91.6 292.2h0M96.7 264.4h0M94.0 303.3h0M95.2 300.1h0M91.4 302.4h0M97.2 299.1h0M93.4 297.9h0M97.2 277.7h0M98.4 299.7h0M103.6 294.7h0M99.2 304.2h0M92.0 304.9h0M92.1 304.4h0M99.3 301.0h0M97.1 294.5h0M93.5 288.9h0M93.4 302.8h0M94.3 302.2h0M91.6 301.3h0M94.5 292.5h0M98.3 295.6h0M93.0 258.5h0M94.3 288.8h0M93.4 302.6h0M95.8 299.7h0M91.5 288.1h0M94.0 283.7h0M91.6 290.9h0M94.1 300.3h0M93.9 283.9h0M91.9 298.3h0M100.7 302.0h0M97.2 271.5h0M90.8 304.8h0M91.4 292.5h0M91.0 279.6h0M92.9 304.9h0M94.0 302.7h0M93.7 303.3h0M99.3 302.4h0M99.5 290.5h0M91.0 303.7h0M94.9 285.6h0M91.5 289.9h0M91.7 298.6h0M100.0 298.4h0M96.4 289.2h0M91.5 279.0h0M94.5 301.2h0M93.1 278.2h0M92.1 282.7h0M100.4 299.1h0M100.1 292.4h0M99.9 287.4h0M95.6 297.1h0M93.6 291.3h0M98.5 304.1h0M92.7 281.4h0M91.5 299.5h0M97.1 292.5h0M91.4 289.2h0M92.6 256.6h0M93.7 298.5h0M94.4 290.7h0M97.7 295.1h0M92.7 260.2h0M99.2 279.1h0M94.8 297.6h0M98.8 296.0h0M91.2 280.7h0M94.6 278.9h0M96.3 279.9h0M101.3 290.6h0M92.1 300.3h0M93.1 298.6h0M100.5 292.0h0M94.1 287.2h0M92.9 282.4h0M93.5 280.0h0M92.9 302.1h0M94.7 302.4h0M92.4 303.6h0M93.4 302.0h0M100.4 304.3h0M93.4 303.2h0M99.9 302.9h0M92.2 304.0h0M99.4 302.2h0M93.9 278.0h0M95.1 295.2h0M96.4 293.2h0M93.9 294.8h0M93.0 295.3h0M94.4 303.6h0M91.5 303.0h0M95.0 283.9h0M94.1 294.6h0M98.9 298.1h0M96.7 301.3h0M97.2 279.2h0M92.7 298.3h0M91.3 284.9h0M91.6 303.3h0M93.6 291.5h0M97.2 298.0h0M93.5 295.0h0M91.8 282.3h0M97.5 285.5h0M94.9 300.5h0M92.9 301.7h0M93.1 305.5h0M94.4 287.7h0M91.5 303.2h0M96.1 274.9h0M91.8 287.5h0M93.2 291.1h0M91.7 292.3h0M95.3 265.2h0M91.1 280.0h0M95.7 259.2h0M94.3 295.1h0M94.7 286.9h0M92.0 302.0h0M94.4 281.3h0M95.0 287.3h0M91.0 272.5h0M93.6 301.3h0M94.0 299.6h0M100.8 303.6h0M93.5 281.4h0M96.9 260.3h0M93.0 301.9h0M94.6 305.6h0M93.5 268.0h0M92.7 295.4h0M94.0 287.1h0M103.2 305.1h0M94.2 289.0h0M96.5 296.6h0M91.6 286.3h0M95.9 300.1h0M92.1 257.2h0M90.7 301.2h0M97.3 287.4h0M99.5 297.0h0M97.1 282.6h0M93.4 272.5h0M93.0 284.2h0M92.1 274.9h0M92.1 272.6h0M91.1 290.3h0M97.1 301.9h0M93.0 277.7h0M93.0 300.6h0M90.8 285.2h0M94.0 295.0h0M90.9 279.1h0M94.1 268.8h0M99.2 303.3h0M92.7 285.7h0M99.3 299.4h0M92.4 272.5h0M96.8 298.4h0M93.3 287.4h0M92.4 255.9h0M95.5 293.1h0M90.8 284.3h0M93.2 279.7h0M92.4 278.1h0M91.6 302.1h0M95.9 299.6h0M95.2 303.8h0M92.9 303.6h0M95.9 303.7h0M95.5 304.2h0M91.3 285.9h0M98.6 304.4h0M94.5 257.4h0M91.7 295.0h0M92.3 279.6h0M94.3 294.0h0M93.5 276.4h0M92.1 276.7h0M93.0 289.0h0M97.0 295.8h0M93.8 296.9h0M91.1 291.7h0M99.1 283.3h0M93.9 279.5h0M93.5 288.3h0M94.3 284.0h0M96.1 292.6h0M91.9 296.4h0M94.2 303.3h0M93.5 271.9h0M92.3 298.8h0M91.3 295.0h0M100.9 280.1h0M91.1 288.1h0M94.2 288.5h0M90.8 260.6h0M91.0 286.0h0M94.7 289.2h0M93.9 295.2h0M96.8 292.1h0M91.3 291.6h0M92.7 293.2h0M90.8 277.0h0M96.1 294.0h0M94.4 304.1h0M91.0 294.1h0M93.5 302.8h0M91.6 291.3h0M91.9 289.8h0M99.1 305.6h0M91.6 278.9h0M92.3 293.4h0M93.4 275.6h0M96.3 286.9h0M95.8 297.4h0M100.9 291.7h0M90.8 296.5h0M91.7 302.4h0M93.1 298.6h0M91.1 277.2h0M97.0 298.0h0M91.1 299.4h0M95.3 300.9h0M92.6 289.7h0M95.6 292.8h0M92.3 289.6h0M92.1 284.8h0M91.7 286.7h0M91.1 284.0h0M93.7 301.4h0M92.4 302.5h0M94.1 291.8h0M91.5 300.0h0M98.9 281.8h0M100.2 297.1h0M90.7 300.9h0M96.8 295.4h0M93.9 271.7h0M93.2 297.2h0M101.5 303.4h0M92.2 270.3h0M96.1 300.9h0M93.5 268.8h0M96.5 304.2h0M96.6 298.2h0M92.5 290.2h0M94.6 283.0h0M97.4 267.2h0M95.6 297.6h0M94.1 300.3h0M99.0 299.8h0M94.6 303.9h0M95.0 297.0h0M91.5 283.0h0M95.7 292.6h0M93.5 290.9h0M93.3 285.3h0M94.0 301.2h0M92.0 299.9h0M95.6 295.9h0M91.7 282.4h0M93.8 271.7h0M94.0 295.9h0M92.1 290.6h0M94.1 300.8h0M99.9 296.7h0M95.2 266.3h0M91.1 289.9h0M91.2 291.2h0M95.1 274.9h0M92.6 290.5h0M93.2 303.4h0M93.7 302.5h0M95.5 304.0h0M91.7 297.2h0M93.8 281.5h0M99.5 292.4h0M91.6 279.0h0M92.7 304.5h0M91.6 288.1h0M95.2 285.5h0M92.7 279.1h0M97.3 299.8h0M94.3 296.3h0M101.2 301.1h0M91.8 303.6h0M94.7 295.3h0M93.9 276.3h0M91.6 281.6h0M94.5 298.2h0M94.5 279.6h0M97.0 288.0h0M91.8 267.1h0M93.9 295.8h0M93.0 298.6h0M95.7 267.0h0M95.0 289.7h0M100.5 301.2h0M92.8 268.6h0M92.9 296.3h0M90.8 305.3h0M91.3 297.3h0M97.4 289.6h0M90.9 289.3h0M97.6 304.3h0M92.9 295.0h0M97.6 289.2h0M94.8 288.2h0M94.4 277.7h0M91.4 295.1h0M93.1 304.1h0M95.1 281.3h0M92.4 294.7h0M93.7 296.5h0M93.7 283.5h0M91.4 297.3h0M94.0 287.6h0M91.4 296.3h0M92.7 269.7h0M91.1 268.2h0M91.7 299.5h0M97.4 304.4h0M93.3 302.4h0M94.1 275.3h0M96.6 301.9h0M93.4 264.1h0M93.7 302.6h0M94.3 297.9h0M98.1 297.1h0M90.8 304.5h0M91.3 291.1h0M94.9 304.7h0M91.0 289.1h0M94.3 305.5h0M101.8 299.7h0M95.3 301.2h0M93.6 279.3h0M94.1 300.8h0M96.1 274.1h0M102.8 304.7h0M96.7 289.0h0M91.8 270.3h0M95.6 302.6h0M91.9 292.2h0M93.5 289.0h0M99.9 265.5h0M97.0 283.2h0M95.0 286.2h0M94.0 305.6h0M92.4 271.2h0M91.4 270.1h0M92.9 301.6h0M102.8 300.5h0M93.9 302.3h0M100.2 277.3h0M92.0 301.8h0M94.1 265.0h0M99.2 288.6h0M97.2 279.0h0M97.3 301.8h0M93.9 292.8h0M95.4 303.4h0M92.1 285.6h0M91.3 294.2h0M93.9 297.9h0M95.7 304.4h0M102.7 295.9h0M97.1 292.1h0M98.3 297.2h0M91.8 272.7h0M96.2 281.6h0M96.9 269.0h0M99.1 302.0h0M96.4 263.7h0M97.4 278.3h0M92.5 292.2h0M93.9 295.2h0M93.6 293.0h0M102.5 304.8h0M94.4 301.3h0M92.8 291.1h0M91.2 293.3h0M95.1 299.9h0M91.9 292.8h0M94.5 300.6h0M93.8 299.0h0M97.0 295.4h0M93.1 288.9h0M93.1 274.6h0M96.8 293.9h0M92.3 285.4h0M91.2 304.3h0M97.5 294.4h0M94.2 304.3h0M93.9 285.5h0M92.1 278.4h0M98.0 300.1h0M93.4 258.6h0M93.7 294.5h0M90.9 291.5h0M101.8 304.6h0M91.1 295.5h0M90.9 268.4h0M92.7 275.1h0M93.9 277.2h0M91.0 285.8h0M94.0 282.3h0M96.9 288.5h0M90.9 294.1h0M98.6 302.5h0M91.7 295.7h0M94.0 259.8h0M98.8 296.3h0M90.6 281.9h0M95.1 305.4h0M98.7 304.1h0M95.8 281.6h0M93.6 298.0h0M96.7 297.8h0M93.4 284.0h0M100.8 303.5h0M91.5 263.5h0M94.9 287.4h0M92.5 297.9h0M96.2 263.7h0M92.3 301.6h0M94.0 303.3h0M101.8 300.4h0M97.0 301.7h0M98.8 292.0h0M98.9 297.4h0M97.4 295.2h0M96.5 303.6h0M93.0 304.1h0M90.6 286.8h0M92.9 278.4h0M93.5 283.8h0M91.9 301.9h0M95.2 304.7h0M90.9 292.2h0M93.9 274.8h0M101.4 300.4h0M92.6 266.6h0M90.6 291.5h0M91.5 282.5h0M95.0 290.1h0M92.6 299.5h0M93.2 302.8h0M96.6 294.6h0M93.4 303.9h0M93.2 301.2h0M100.6 301.8h0M95.9 301.1h0M93.9 256.6h0M90.8 300.0h0M91.9 300.1h0M94.1 286.5h0M96.3 302.1h0M97.8 288.9h0M92.2 290.1h0M92.9 304.9h0M94.6 301.1h0M94.8 278.0h0M91.0 287.5h0M91.1 278.4h0M91.2 299.1h0M91.8 284.0h0M91.9 303.6h0M95.9 286.0h0M93.4 295.1h0M91.9 299.1h0M98.3 295.0h0M91.2 297.5h0M91.9 297.2h0M100.8 294.3h0M91.5 293.4h0M93.1 284.8h0M102.4 288.1h0M95.3 273.2h0M98.4 296.7h0M93.9 290.6h0M93.4 296.1h0M93.2 288.2h0M93.3 303.9h0M94.1 291.5h0M96.4 269.4h0M93.3 291.6h0M100.4 294.9h0M96.2 300.6h0M99.6 300.8h0M91.3 301.3h0M96.2 289.9h0M91.7 294.1h0M93.3 297.3h0M98.8 274.0h0M93.8 297.9h0M98.2 304.1h0M91.9 279.7h0M92.8 284.0h0M90.7 303.4h0M95.4 291.1h0M94.7 301.7h0M91.5 305.5h0M92.6 295.7h0M90.8 294.7h0M103.6 304.2h0M96.1 280.8h0M94.7 292.5h0M99.8 293.9h0M96.0 297.2h0M96.5 293.1h0M98.6 304.0h0M97.9 294.1h0M91.6 299.7h0M97.8 299.0h0M95.3 290.8h0M91.6 299.4h0M92.3 299.3h0M98.1 302.0h0M91.7 295.4h0M99.6 294.6h0M90.9 295.2h0M100.0 300.2h0M90.8 294.6h0M90.9 302.9h0M91.8 277.7h0M97.1 305.3h0M98.5 297.7h0M93.5 301.2h0M92.7 305.4h0M91.8 293.2h0M92.3 297.7h0M92.0 304.3h0M92.5 302.9h0M94.0 295.2h0M94.9 300.9h0M94.3 271.5h0M92.6 269.7h0M91.5 275.3h0M92.9 268.3h0M95.6 305.1h0M92.3 303.2h0M93.2 295.1h0M93.9 298.3h0M93.4 293.0h0M92.2 261.2h0M98.0 304.7h0M98.6 293.1h0M91.0 299.6h0M91.4 291.3h0M91.4 285.0h0M92.1 301.1h0M94.2 305.2h0M95.2 285.7h0M91.7 260.5h0M93.8 299.3h0M95.3 284.0h0M93.5 273.2h0M90.9 304.1h0M93.3 300.0h0M96.0 280.1h0M92.3 284.0h0M93.1 297.2h0M92.0 294.1h0M96.6 278.8h0M92.4 287.4h0M93.1 302.1h0M101.2 304.2h0M95.8 297.8h0M96.0 293.2h0M97.3 304.2h0M96.9 277.3h0M96.0 285.4h0M95.6 275.9h0M92.7 277.1h0M96.2 296.2h0M91.1 298.6h0M92.4 276.6h0M91.0 284.4h0M99.9 287.5h0M95.6 303.5h0M92.4 302.9h0M91.5 304.6h0M94.5 298.7h0M97.1 302.4h0M96.8 300.7h0M90.7 299.4h0M94.7 287.7h0M93.1 301.4h0M91.6 298.0h0M101.6 304.1h0M99.6 272.9h0M97.1 293.5h0M91.6 298.7h0M93.2 262.2h0M95.3 278.2h0M91.7 302.5h0M98.3 304.2h0M91.9 272.7h0M95.5 267.6h0M93.7 289.1h0M90.7 297.5h0M92.7 279.8h0M93.4 300.2h0M93.4 304.2h0M99.5 272.4h0M94.8 305.5h0M92.7 292.5h0M93.8 299.8h0M91.1 292.9h0M96.6 275.4h0M99.6 298.7h0M90.8 299.8h0M93.5 303.2h0M93.1 303.0h0M94.0 305.5h0M91.3 280.3h0M92.9 290.7h0M90.6 298.0h0M93.8 264.6h0M93.5 277.0h0M96.0 300.9h0M93.1 263.4h0M95.3 305.4h0M95.1 287.4h0M97.3 289.9h0M95.2 297.4h0M91.2 291.0h0M91.0 271.6h0M92.1 267.4h0M94.2 297.6h0M91.0 298.5h0M96.3 305.5h0M94.2 257.1h0M96.9 302.7h0M91.2 267.2h0M99.2 303.1h0M92.1 299.2h0M91.0 266.7h0M96.0 304.8h0M94.1 293.6h0M96.0 298.1h0M91.1 305.4h0M96.9 282.7h0M92.8 295.5h0M91.0 295.9h0M99.1 302.0h0M93.8 288.2h0M93.9 299.5h0M94.4 303.0h0M94.9 303.0h0M97.1 298.1h0M92.1 284.0h0M95.1 296.7h0M94.8 293.7h0M91.1 301.8h0M93.5 255.7h0M91.9 285.5h0M93.0 299.9h0M92.0 302.8h0M101.6 301.5h0M93.7 301.7h0M92.5 274.0h0M93.8 292.8h0M92.9 284.5h0M92.4 294.5h0M94.7 300.0h0M94.7 297.9h0M95.3 266.2h0M97.1 271.9h0M100.7 301.5h0M97.2 279.9h0M91.1 304.6h0M94.1 303.4h0M94.7 290.3h0M91.2 288.5h0M99.2 305.4h0M95.9 304.6h0M95.9 300.2h0M95.5 291.6h0M91.8 300.4h0M91.7 303.3h0M91.6 286.9h0M94.9 290.6h0M92.6 281.6h0M97.9 295.2h0M92.2 304.6h0M96.4 271.2h0M103.7 302.1h0M91.7 297.4h0M93.7 294.2h0M101.3 305.0h0M94.9 305.1h0M99.3 301.6h0M99.9 297.9h0M97.6 293.9h0M104.0 304.8h0M99.0 262.9h0M95.1 270.7h0M94.5 289.6h0M91.4 295.5h0M98.2 272.1h0M98.1 301.8h0M95.7 303.4h0M95.4 270.4h0M96.3 303.5h0M91.8 302.3h0M93.5 277.4h0M93.7 300.0h0M93.4 296.9h0M94.2 290.8h0M92.0 262.9h0M91.6 297.7h0M92.5 294.9h0M91.5 302.8h0M94.8 295.5h0M95.5 290.0h0M92.8 282.7h0M99.5 289.8h0M96.4 292.7h0M100.8 296.3h0M100.3 305.0h0M98.5 294.1h0M94.0 293.5h0M94.7 301.5h0M93.3 273.7h0M93.3 296.8h0M93.0 259.1h0M91.4 264.2h0M98.0 278.0h0M98.1 288.1h0M95.5 305.2h0M95.2 280.6h0M97.4 304.3h0M90.8 301.8h0M94.1 294.3h0M91.1 291.6h0M93.6 263.7h0M92.4 298.8h0M95.6 276.9h0M91.9 269.0h0M95.8 268.0h0M91.5 298.8h0M92.6 295.4h0M92.4 295.0h0M103.6 301.4h0M93.9 302.9h0M94.7 299.8h0M91.9 305.3h0M96.1 298.6h0M92.9 268.4h0M92.5 271.3h0M93.2 296.7h0M92.6 286.7h0M92.3 257.9h0M92.1 298.8h0M94.8 296.5h0M91.1 291.6h0M94.4 304.6h0M91.2 273.8h0M95.2 263.1h0M95.2 290.1h0M93.2 266.2h0M98.2 305.3h0M91.1 286.1h0M95.4 290.1h0M102.9 300.7h0M92.2 289.8h0M95.2 276.1h0M95.4 262.5h0M95.7 303.3h0M92.8 297.6h0M92.2 270.5h0M92.2 299.9h0M91.1 302.7h0M96.9 297.1h0M95.4 288.5h0M98.4 292.2h0M96.4 251.0h0M91.9 302.1h0M90.7 302.7h0M94.1 270.9h0M94.8 289.3h0M93.6 289.4h0M101.4 294.8h0M93.1 275.7h0M92.6 294.8h0M98.8 304.7h0M93.4 298.7h0M90.7 284.4h0M93.8 285.8h0M96.1 303.5h0M94.6 304.4h0M92.4 305.1h0M97.2 297.8h0M92.2 293.9h0M95.6 287.9h0M93.6 304.2h0M94.9 304.8h0M95.6 280.0h0M95.5 288.9h0M91.9 297.0h0M90.8 275.7h0M91.4 282.6h0M99.8 298.5h0M102.5 305.3h0M101.4 298.9h0M91.1 273.0h0M95.8 288.2h0M95.8 295.6h0M92.3 258.4h0M91.2 305.5h0M91.0 275.8h0M93.4 305.1h0M99.3 303.8h0M94.5 281.8h0M91.1 272.4h0M92.4 295.5h0M96.6 305.0h0M92.1 300.0h0M94.4 292.2h0M98.9 285.0h0M96.1 286.9h0M92.1 264.2h0M92.7 296.4h0M91.5 285.8h0M96.5 304.3h0M92.3 271.1h0M92.2 302.0h0M91.5 291.1h0M91.2 267.1h0M90.6 261.8h0M96.9 288.2h0M94.6 289.8h0M100.7 300.1h0M91.8 298.9h0M93.8 271.5h0M92.9 291.7h0M94.3 281.9h0M98.7 299.6h0M93.0 277.2h0M95.6 303.3h0M94.0 305.4h0M96.7 294.4h0M91.6 303.2h0M97.2 298.2h0M92.8 261.4h0M92.1 293.2h0M94.0 302.8h0M91.2 297.4h0M93.6 288.3h0M92.2 287.0h0M92.6 272.6h0M94.7 298.9h0M92.0 284.2h0M93.7 288.4h0M91.8 269.7h0M94.6 290.5h0M91.2 295.8h0M94.2 279.5h0M91.9 282.5h0M97.0 276.3h0M97.5 295.5h0M92.4 299.2h0M92.1 294.6h0M100.4 289.0h0M97.3 294.8h0M99.8 300.3h0M93.3 299.4h0M90.9 272.2h0M94.3 302.8h0M94.4 290.1h0M92.6 271.2h0M92.0 294.9h0M95.1 301.6h0M94.3 304.5h0M93.4 265.0h0M96.5 265.6h0M94.9 304.6h0M92.6 299.8h0M91.9 297.8h0M94.2 286.6h0M91.8 303.4h0M101.5 304.6h0M94.2 264.7h0M95.8 302.0h0M93.7 303.4h0M99.8 292.0h0M93.4 296.8h0M92.7 296.3h0M96.5 298.7h0M92.5 279.2h0M100.9 298.4h0M99.7 296.2h0M97.1 302.2h0M93.5 287.0h0M91.2 305.2h0M96.0 291.9h0M96.7 302.8h0M97.3 268.8h0M94.1 266.4h0M100.2 305.5h0M90.7 295.0h0M101.0 296.1h0M96.7 288.3h0M92.8 295.4h0M93.7 276.5h0M92.4 299.3h0M97.3 279.7h0M95.6 298.0h0M91.0 304.8h0M99.1 290.9h0M90.8 295.7h0M92.3 275.4h0M96.5 298.6h0M91.8 305.1h0M91.9 301.1h0M91.0 300.2h0M90.8 296.2h0M95.7 287.5h0M93.7 301.1h0M97.2 293.2h0M95.2 295.4h0M95.7 289.7h0M92.9 271.8h0M98.0 297.2h0M94.3 302.1h0M95.8 274.8h0M95.6 302.0h0M94.3 290.1h0M96.0 300.5h0M96.1 305.5h0M91.9 269.2h0M93.9 299.2h0M94.5 278.6h0M99.9 284.7h0M94.4 276.4h0M92.0 303.5h0M96.6 301.6h0M93.2 292.3h0M92.4 282.3h0M94.4 301.5h0M101.1 295.0h0M94.0 289.7h0M94.4 292.6h0M90.7 296.6h0M94.6 289.1h0M92.6 304.3h0M94.3 300.3h0M93.3 273.2h0M94.5 297.3h0M91.1 302.8h0M94.1 284.4h0M99.3 304.8h0M95.0 286.5h0M96.3 298.2h0M92.4 290.9h0M97.1 298.4h0M91.1 285.5h0M93.7 304.9h0M96.6 295.2h0M93.2 295.0h0M96.6 305.2h0M93.7 294.4h0M91.3 289.7h0M95.9 301.1h0M95.1 302.3h0M91.4 300.3h0M95.4 289.1h0M94.8 303.3h0M92.7 269.2h0M95.8 302.9h0M95.3 303.2h0M93.6 302.8h0M92.5 294.4h0M97.4 284.2h0M94.5 304.6h0M98.6 291.8h0M94.4 277.4h0M91.0 262.2h0M94.1 294.9h0M94.2 274.9h0M94.2 278.9h0M91.3 299.5h0M91.6 298.4h0M91.8 297.9h0M90.8 299.0h0M94.5 283.3h0M95.7 295.1h0M94.4 292.6h0M101.8 300.8h0M92.5 266.2h0M92.8 291.0h0M95.7 298.5h0M93.8 264.0h0M95.6 286.5h0M91.9 304.9h0M94.6 259.8h0M91.7 302.3h0M92.5 265.5h0M92.4 290.3h0M95.6 296.4h0M95.6 300.2h0M98.1 270.1h0M97.2 305.2h0M99.7 297.9h0M91.3 288.4h0M93.5 299.2h0M92.8 269.8h0M96.0 290.0h0M96.9 293.6h0M97.4 293.5h0M96.4 265.4h0M93.7 289.6h0M96.3 296.0h0M97.3 296.2h0M91.3 286.5h0M91.1 267.9h0M95.6 291.3h0M92.1 291.8h0M93.5 296.9h0M96.2 303.6h0M92.2 279.9h0M96.0 284.1h0M91.1 305.6h0M96.8 304.4h0M97.0 298.5h0M95.3 285.8h0M90.7 303.8h0M95.0 292.5h0M93.6 291.4h0M99.0 294.9h0M96.4 303.3h0M96.0 300.1h0M101.6 302.0h0M96.9 298.8h0M90.9 271.6h0M92.1 303.4h0M97.4 291.1h0M94.8 294.2h0M94.2 301.3h0M97.8 299.8h0M94.9 289.1h0M91.5 286.6h0M95.6 274.3h0M94.1 286.6h0M91.5 295.8h0M91.5 293.9h0M90.9 294.2h0M93.6 303.7h0M96.9 303.8h0M95.1 300.9h0M98.4 288.3h0M92.1 291.4h0M92.1 290.8h0M95.9 273.4h0M93.2 299.8h0M91.9 273.8h0M94.3 301.5h0M91.3 269.4h0M102.6 288.6h0M101.2 287.9h0M96.3 298.6h0M92.2 286.9h0M97.1 292.7h0M92.0 269.6h0M91.2 300.3h0M91.6 276.5h0M99.2 300.6h0M97.7 286.4h0M97.4 303.4h0M96.1 301.3h0M100.4 285.2h0M101.1 290.2h0M93.8 300.3h0M95.4 266.3h0M94.8 299.8h0" stroke="#F01010" stroke-width="1.5" stroke-linecap="round" fill="none"/>
<path d="M107.2 304.8h0M104.6 284.4h0M113.1 294.1h0M108.0 304.3h0M105.1 289.3h0M104.6 295.5h0M104.3 297.7h0M108.8 302.5h0M104.9 249.4h0M108.5 298.0h0M106.9 303.4h0M107.3 301.3h0M104.0 287.8h0M111.2 304.2h0M106.4 304.4h0M108.9 304.9h0M103.7 245.8h0M107.2 304.7h0M120.6 303.9h0M104.0 303.2h0M104.9 296.0h0M111.3 300.8h0M107.2 304.4h0M107.1 279.2h0M104.3 295.6h0M105.6 297.0h0M105.1 301.2h0M97.5 241.2h0M105.7 301.2h0M99.7 235.3h0M104.2 300.5h0M104.1 305.4h0M110.2 272.3h0M104.1 305.4h0M104.1 300.6h0M111.2 300.3h0M110.5 301.5h0M107.5 305.2h0M105.7 294.9h0M104.9 269.2h0M106.1 301.7h0M109.1 302.8h0M119.8 299.0h0M107.5 297.9h0M105.4 303.6h0M106.7 301.0h0M105.6 305.4h0M104.9 298.3h0M106.4 305.0h0M107.5 304.2h0M106.1 240.9h0M107.6 302.4h0M109.9 304.4h0M106.9 295.0h0M104.2 298.2h0M104.4 294.5h0M106.8 303.6h0M108.7 302.2h0M93.8 248.2h0M116.0 304.2h0M95.1 243.7h0M105.4 301.6h0M93.3 241.8h0M104.6 296.5h0M105.7 293.2h0M107.8 303.2h0M108.5 295.0h0M102.3 249.3h0M107.5 299.8h0M94.3 249.4h0M105.1 291.3h0M105.0 299.0h0" stroke="#D01018" stroke-width="1.55" stroke-linecap="round" fill="none"/>
<path d="M131.7 180.8h0M135.5 180.8h0M116.4 194.7h0M119.8 196.9h0M108.6 210.4h0M101.2 217.8h0M103.0 217.8h0M107.9 216.0h0M112.0 218.0h0M117.5 217.8h0M119.8 220.5h0M123.6 220.5h0M104.7 220.5h0M98.9 225.6h0M105.2 226.0h0M110.8 228.8h0M101.2 229.5h0M98.0 231.0h0M100.3 233.3h0M106.3 233.3h0M108.6 232.8h0M107.4 236.2h0M120.9 234.0h0M134.4 233.5h0M96.7 240.7h0M100.7 240.7h0M101.8 242.2h0M106.3 243.0h0M108.6 243.0h0M127.6 243.4h0M138.1 257.5h0M127.6 244.4h0M126.5 246.7h0M117.5 248.9h0M122.0 257.0h0M118.6 259.3h0M123.8 259.7h0M114.1 255.2h0M113.4 277.7h0M110.7 259.7h0M111.9 266.5h0M98.8 226.0h0M104.2 227.4h0M110.1 227.6h0M111.1 229.2h0M100.6 229.2h0M97.6 231.2h0M99.4 233.6h0M101.8 233.6h0M106.0 233.6h0M107.5 236.4h0M120.7 234.0h0M96.1 240.8h0M98.8 239.1h0M103.9 239.1h0M109.0 243.6h0M98.2 246.0h0M100.0 246.0h0M103.0 246.0h0M104.8 246.6h0M106.6 246.6h0M94.6 248.4h0M97.9 248.7h0M117.9 249.0h0M113.7 255.0h0M122.1 256.4h0M107.8 257.3h0M111.3 259.7h0M119.1 259.7h0M123.3 259.7h0" stroke="#A81020" stroke-width="1.6" stroke-linecap="round" fill="none"/>
<rect x="20.6" y="174.5" width="131.8" height="142.89999999999998" fill="none" stroke="#D0D0D0" stroke-width="1.1"/>
<line x1="19.200000000000003" x2="20.6" y1="311.40" y2="311.40" stroke="#666" stroke-width="0.6"/>
<text x="17.4" y="313.50" font-size="6.0" font-weight="bold" fill="#3C3C3C" text-anchor="end">0</text>
<line x1="19.200000000000003" x2="20.6" y1="267.73" y2="267.73" stroke="#666" stroke-width="0.6"/>
<text x="18.6" y="269.83" font-size="6.0" font-weight="bold" fill="#3C3C3C" text-anchor="end">10</text>
<line x1="19.200000000000003" x2="20.6" y1="224.06" y2="224.06" stroke="#666" stroke-width="0.6"/>
<text x="18.6" y="226.16" font-size="6.0" font-weight="bold" fill="#3C3C3C" text-anchor="end">20</text>
<line x1="19.200000000000003" x2="20.6" y1="180.39" y2="180.39" stroke="#666" stroke-width="0.6"/>
<text x="18.6" y="182.49" font-size="6.0" font-weight="bold" fill="#3C3C3C" text-anchor="end">30</text>
<line x1="46.30" x2="46.30" y1="317.4" y2="318.79999999999995" stroke="#666" stroke-width="0.6"/>
<text x="46.70" y="324.6" font-size="6.5" font-weight="bold" fill="#383838" text-anchor="middle">−10</text>
<line x1="86.60" x2="86.60" y1="317.4" y2="318.79999999999995" stroke="#666" stroke-width="0.6"/>
<text x="87.00" y="324.6" font-size="6.5" font-weight="bold" fill="#383838" text-anchor="middle">0</text>
<line x1="126.90" x2="126.90" y1="317.4" y2="318.79999999999995" stroke="#666" stroke-width="0.6"/>
<text x="127.30" y="324.6" font-size="6.5" font-weight="bold" fill="#383838" text-anchor="middle">10</text>
<text x="87.0" y="332.0" font-size="8.3" font-weight="bold" fill="#111" text-anchor="middle">log2FC</text>
<text transform="translate(10.4,245.5) rotate(-90)" font-size="7.9" font-weight="bold" fill="#111" text-anchor="middle">-log10FDR</text>
<rect x="160.3" y="233.4" width="8.6" height="8.6" fill="#FBF2F3"/>
<circle cx="164.6" cy="237.6" r="0.85" fill="#6A1420"/>
<text x="169.5" y="240.30" font-size="7.6" font-weight="bold" fill="#111">Up</text>
<rect x="160.3" y="242.2" width="8.6" height="8.6" fill="#F3F3FB"/>
<circle cx="164.6" cy="246.4" r="0.85" fill="#18185A"/>
<text x="169.5" y="249.10" font-size="7.6" font-weight="bold" fill="#111">Down</text>
<rect x="160.3" y="250.8" width="8.6" height="8.6" fill="#F4F4F4"/>
<circle cx="164.6" cy="255.0" r="0.85" fill="#BDBDBD"/>
<text x="169.5" y="257.70" font-size="7.6" font-weight="bold" fill="#111">Normal</text>
<text x="207.2" y="171.3" font-size="6.4" font-weight="bold" fill="#111">D</text>
<rect x="228.40" y="196.20" width="8.30" height="1.05" fill="#f9f0d4"/>
<rect x="236.65" y="196.20" width="8.30" height="1.05" fill="#fcf3d7"/>
<rect x="244.89" y="196.20" width="8.30" height="1.05" fill="#F6D3A6"/>
<rect x="253.14" y="196.20" width="8.30" height="1.05" fill="#f8efd3"/>
<rect x="261.39" y="196.20" width="8.30" height="1.05" fill="#fbf2d6"/>
<rect x="269.64" y="196.20" width="16.54" height="1.05" fill="#fcf3d7"/>
<rect x="286.13" y="196.20" width="8.30" height="1.05" fill="#e8f0eb"/>
<rect x="294.38" y="196.20" width="8.30" height="1.05" fill="#ebf3ee"/>
<rect x="302.63" y="196.20" width="8.30" height="1.05" fill="#e3eff4"/>
<rect x="310.87" y="196.20" width="8.30" height="1.05" fill="#e4f0f5"/>
<rect x="319.12" y="196.20" width="8.30" height="1.05" fill="#e8f1f2"/>
<rect x="327.37" y="196.20" width="8.30" height="1.05" fill="#e2eef3"/>
<rect x="335.62" y="196.20" width="8.30" height="1.05" fill="#e4f0f5"/>
<rect x="343.86" y="196.20" width="8.30" height="1.05" fill="#e5f1f6"/>
<rect x="352.11" y="196.20" width="16.54" height="1.05" fill="#e4f0f5"/>
<rect x="368.61" y="196.20" width="16.54" height="1.05" fill="#e3eff4"/>
<rect x="228.40" y="197.20" width="8.30" height="1.05" fill="#F9E6C6"/>
<rect x="236.65" y="197.20" width="8.30" height="1.05" fill="#ffefc9"/>
<rect x="244.89" y="197.20" width="8.30" height="1.05" fill="#fdedc7"/>
<rect x="253.14" y="197.20" width="8.30" height="1.05" fill="#fbebc5"/>
<rect x="261.39" y="197.20" width="8.30" height="1.05" fill="#fdedc7"/>
<rect x="269.64" y="197.20" width="8.30" height="1.05" fill="#F9E6C6"/>
<rect x="277.88" y="197.20" width="8.30" height="1.05" fill="#faeac4"/>
<rect x="286.13" y="197.20" width="8.30" height="1.05" fill="#e7efea"/>
<rect x="294.38" y="197.20" width="8.30" height="1.05" fill="#ecf4ef"/>
<rect x="302.63" y="197.20" width="16.54" height="1.05" fill="#d7e8f2"/>
<rect x="319.12" y="197.20" width="8.30" height="1.05" fill="#dde9ed"/>
<rect x="327.37" y="197.20" width="16.54" height="1.05" fill="#d8e9f3"/>
<rect x="343.86" y="197.20" width="8.30" height="1.05" fill="#d7e8f2"/>
<rect x="352.11" y="197.20" width="8.30" height="1.05" fill="#d6e7f1"/>
<rect x="360.36" y="197.20" width="16.54" height="1.05" fill="#d7e8f2"/>
<rect x="376.85" y="197.20" width="8.30" height="1.05" fill="#d5e6f0"/>
<rect x="228.40" y="198.20" width="8.30" height="1.05" fill="#F9E6C6"/>
<rect x="236.65" y="198.20" width="8.30" height="1.05" fill="#F6D3A6"/>
<rect x="244.89" y="198.20" width="8.30" height="1.05" fill="#fae0ae"/>
<rect x="253.14" y="198.20" width="16.54" height="1.05" fill="#f9dfad"/>
<rect x="269.64" y="198.20" width="8.30" height="1.05" fill="#F9E6C6"/>
<rect x="277.88" y="198.20" width="8.30" height="1.05" fill="#f9dfad"/>
<rect x="286.13" y="198.20" width="8.30" height="1.05" fill="#e6eee9"/>
<rect x="294.38" y="198.20" width="8.30" height="1.05" fill="#e8f0eb"/>
<rect x="302.63" y="198.20" width="8.30" height="1.05" fill="#cde3f1"/>
<rect x="310.87" y="198.20" width="8.30" height="1.05" fill="#cae0ee"/>
<rect x="319.12" y="198.20" width="8.30" height="1.05" fill="#d7e7ee"/>
<rect x="327.37" y="198.20" width="16.54" height="1.05" fill="#cce2f0"/>
<rect x="343.86" y="198.20" width="16.54" height="1.05" fill="#cde3f1"/>
<rect x="360.36" y="198.20" width="16.54" height="1.05" fill="#cce2f0"/>
<rect x="376.85" y="198.20" width="8.30" height="1.05" fill="#cbe1ef"/>
<rect x="228.40" y="199.20" width="8.30" height="1.05" fill="#eef1e8"/>
<rect x="236.65" y="199.20" width="16.54" height="1.05" fill="#eff2e9"/>
<rect x="253.14" y="199.20" width="8.30" height="1.05" fill="#edf0e7"/>
<rect x="261.39" y="199.20" width="8.30" height="1.05" fill="#f1f4eb"/>
<rect x="269.64" y="199.20" width="8.30" height="1.05" fill="#eef1e8"/>
<rect x="277.88" y="199.20" width="8.30" height="1.05" fill="#eff2e9"/>
<rect x="286.13" y="199.20" width="16.54" height="1.05" fill="#e5ede8"/>
<rect x="302.63" y="199.20" width="16.54" height="1.05" fill="#e8f0ee"/>
<rect x="319.12" y="199.20" width="8.30" height="1.05" fill="#eaf0ed"/>
<rect x="327.37" y="199.20" width="8.30" height="1.05" fill="#e8f0ee"/>
<rect x="335.62" y="199.20" width="8.30" height="1.05" fill="#e7efed"/>
<rect x="343.86" y="199.20" width="8.30" height="1.05" fill="#e8f0ee"/>
<rect x="352.11" y="199.20" width="8.30" height="1.05" fill="#e6eeec"/>
<rect x="360.36" y="199.20" width="16.54" height="1.05" fill="#e7efed"/>
<rect x="376.85" y="199.20" width="8.30" height="1.05" fill="#e8f0ee"/>
<rect x="228.40" y="200.20" width="8.30" height="1.05" fill="#fff1cb"/>
<rect x="236.65" y="200.20" width="8.30" height="1.05" fill="#feeec8"/>
<rect x="244.89" y="200.20" width="8.30" height="1.05" fill="#fff0ca"/>
<rect x="253.14" y="200.20" width="8.30" height="1.05" fill="#fff2cc"/>
<rect x="261.39" y="200.20" width="24.79" height="1.05" fill="#fff0ca"/>
<rect x="286.13" y="200.20" width="8.30" height="1.05" fill="#e1e9e4"/>
<rect x="294.38" y="200.20" width="8.30" height="1.05" fill="#edf5f0"/>
<rect x="302.63" y="200.20" width="8.30" height="1.05" fill="#d7e8f2"/>
<rect x="310.87" y="200.20" width="8.30" height="1.05" fill="#d3e4ee"/>
<rect x="319.12" y="200.20" width="8.30" height="1.05" fill="#dbe7eb"/>
<rect x="327.37" y="200.20" width="16.54" height="1.05" fill="#d5e6f0"/>
<rect x="343.86" y="200.20" width="8.30" height="1.05" fill="#d4e5ef"/>
<rect x="352.11" y="200.20" width="8.30" height="1.05" fill="#d5e6f0"/>
<rect x="360.36" y="200.20" width="8.30" height="1.05" fill="#d6e7f1"/>
<rect x="368.61" y="200.20" width="8.30" height="1.05" fill="#d5e6f0"/>
<rect x="376.85" y="200.20" width="8.30" height="1.05" fill="#d6e7f1"/>
<rect x="228.40" y="201.20" width="8.30" height="1.05" fill="#ffe5b3"/>
<rect x="236.65" y="201.20" width="8.30" height="1.05" fill="#fee4b2"/>
<rect x="244.89" y="201.20" width="8.30" height="1.05" fill="#ffe5b3"/>
<rect x="253.14" y="201.20" width="8.30" height="1.05" fill="#ffe6b4"/>
<rect x="261.39" y="201.20" width="8.30" height="1.05" fill="#fde3b1"/>
<rect x="269.64" y="201.20" width="8.30" height="1.05" fill="#ffe5b3"/>
<rect x="277.88" y="201.20" width="8.30" height="1.05" fill="#fde3b1"/>
<rect x="286.13" y="201.20" width="8.30" height="1.05" fill="#e3ebe6"/>
<rect x="294.38" y="201.20" width="8.30" height="1.05" fill="#eaf2ed"/>
<rect x="302.63" y="201.20" width="8.30" height="1.05" fill="#c9dfed"/>
<rect x="310.87" y="201.20" width="8.30" height="1.05" fill="#cbe1ef"/>
<rect x="319.12" y="201.20" width="8.30" height="1.05" fill="#d4e4eb"/>
<rect x="327.37" y="201.20" width="8.30" height="1.05" fill="#c8deec"/>
<rect x="335.62" y="201.20" width="8.30" height="1.05" fill="#c9dfed"/>
<rect x="343.86" y="201.20" width="8.30" height="1.05" fill="#cce2f0"/>
<rect x="352.11" y="201.20" width="8.30" height="1.05" fill="#c9dfed"/>
<rect x="360.36" y="201.20" width="8.30" height="1.05" fill="#c8deec"/>
<rect x="368.61" y="201.20" width="8.30" height="1.05" fill="#cbe1ef"/>
<rect x="376.85" y="201.20" width="8.30" height="1.05" fill="#cae0ee"/>
<rect x="228.40" y="202.20" width="8.30" height="1.05" fill="#fce2b0"/>
<rect x="236.65" y="202.20" width="8.30" height="1.05" fill="#fbe1af"/>
<rect x="244.89" y="202.20" width="8.30" height="1.05" fill="#f8deac"/>
<rect x="253.14" y="202.20" width="8.30" height="1.05" fill="#f9dfad"/>
<rect x="261.39" y="202.20" width="8.30" height="1.05" fill="#f8deac"/>
<rect x="269.64" y="202.20" width="8.30" height="1.05" fill="#fbe1af"/>
<rect x="277.88" y="202.20" width="8.30" height="1.05" fill="#f8deac"/>
<rect x="286.13" y="202.20" width="16.54" height="1.05" fill="#e7efea"/>
<rect x="302.63" y="202.20" width="8.30" height="1.05" fill="#cbe1ef"/>
<rect x="310.87" y="202.20" width="8.30" height="1.05" fill="#cce2f0"/>
<rect x="319.12" y="202.20" width="8.30" height="1.05" fill="#d7e7ee"/>
<rect x="327.37" y="202.20" width="16.54" height="1.05" fill="#cae0ee"/>
<rect x="343.86" y="202.20" width="16.54" height="1.05" fill="#cce2f0"/>
<rect x="360.36" y="202.20" width="8.30" height="1.05" fill="#cae0ee"/>
<rect x="368.61" y="202.20" width="8.30" height="1.05" fill="#cde3f1"/>
<rect x="376.85" y="202.20" width="8.30" height="1.05" fill="#cee4f2"/>
<rect x="228.40" y="203.20" width="8.30" height="1.05" fill="#f9e9c3"/>
<rect x="236.65" y="203.20" width="16.54" height="1.05" fill="#f8e8c2"/>
<rect x="253.14" y="203.20" width="24.79" height="1.05" fill="#faeac4"/>
<rect x="277.88" y="203.20" width="8.30" height="1.05" fill="#fbebc5"/>
<rect x="286.13" y="203.20" width="8.30" height="1.05" fill="#e7efea"/>
<rect x="294.38" y="203.20" width="8.30" height="1.05" fill="#ebf3ee"/>
<rect x="302.63" y="203.20" width="8.30" height="1.05" fill="#d9eaf4"/>
<rect x="310.87" y="203.20" width="8.30" height="1.05" fill="#d8e9f3"/>
<rect x="319.12" y="203.20" width="8.30" height="1.05" fill="#dfebef"/>
<rect x="327.37" y="203.20" width="8.30" height="1.05" fill="#d9eaf4"/>
<rect x="335.62" y="203.20" width="8.30" height="1.05" fill="#d8e9f3"/>
<rect x="343.86" y="203.20" width="8.30" height="1.05" fill="#d9eaf4"/>
<rect x="352.11" y="203.20" width="8.30" height="1.05" fill="#d7e8f2"/>
<rect x="360.36" y="203.20" width="8.30" height="1.05" fill="#d9eaf4"/>
<rect x="368.61" y="203.20" width="16.54" height="1.05" fill="#d7e8f2"/>
<rect x="228.40" y="204.20" width="8.30" height="1.05" fill="#ffefc9"/>
<rect x="236.65" y="204.20" width="8.30" height="1.05" fill="#fcecc6"/>
<rect x="244.89" y="204.20" width="16.54" height="1.05" fill="#fdedc7"/>
<rect x="261.39" y="204.20" width="8.30" height="1.05" fill="#fbebc5"/>
<rect x="269.64" y="204.20" width="8.30" height="1.05" fill="#feeec8"/>
<rect x="277.88" y="204.20" width="8.30" height="1.05" fill="#fdedc7"/>
<rect x="286.13" y="204.20" width="8.30" height="1.05" fill="#ecf4ef"/>
<rect x="294.38" y="204.20" width="8.30" height="1.05" fill="#eaf2ed"/>
<rect x="302.63" y="204.20" width="8.30" height="1.05" fill="#d5e6f0"/>
<rect x="310.87" y="204.20" width="8.30" height="1.05" fill="#d8e9f3"/>
<rect x="319.12" y="204.20" width="8.30" height="1.05" fill="#dde9ed"/>
<rect x="327.37" y="204.20" width="8.30" height="1.05" fill="#d6e7f1"/>
<rect x="335.62" y="204.20" width="16.54" height="1.05" fill="#d8e9f3"/>
<rect x="352.11" y="204.20" width="8.30" height="1.05" fill="#d5e6f0"/>
<rect x="360.36" y="204.20" width="8.30" height="1.05" fill="#d6e7f1"/>
<rect x="368.61" y="204.20" width="8.30" height="1.05" fill="#d8e9f3"/>
<rect x="376.85" y="204.20" width="8.30" height="1.05" fill="#d7e8f2"/>
<rect x="228.40" y="205.20" width="8.30" height="1.05" fill="#fcecc6"/>
<rect x="236.65" y="205.20" width="8.30" height="1.05" fill="#fbebc5"/>
<rect x="244.89" y="205.20" width="8.30" height="1.05" fill="#faeac4"/>
<rect x="253.14" y="205.20" width="16.54" height="1.05" fill="#f8e8c2"/>
<rect x="269.64" y="205.20" width="8.30" height="1.05" fill="#faeac4"/>
<rect x="277.88" y="205.20" width="8.30" height="1.05" fill="#F9E4C2"/>
<rect x="286.13" y="205.20" width="8.30" height="1.05" fill="#ecf4ef"/>
<rect x="294.38" y="205.20" width="8.30" height="1.05" fill="#eaf2ed"/>
<rect x="302.63" y="205.20" width="16.54" height="1.05" fill="#d8e9f3"/>
<rect x="319.12" y="205.20" width="8.30" height="1.05" fill="#e0ecf0"/>
<rect x="327.37" y="205.20" width="8.30" height="1.05" fill="#d8e9f3"/>
<rect x="335.62" y="205.20" width="8.30" height="1.05" fill="#d7e8f2"/>
<rect x="343.86" y="205.20" width="16.54" height="1.05" fill="#d9eaf4"/>
<rect x="360.36" y="205.20" width="16.54" height="1.05" fill="#d8e9f3"/>
<rect x="376.85" y="205.20" width="8.30" height="1.05" fill="#d9eaf4"/>
<rect x="228.40" y="206.20" width="8.30" height="1.05" fill="#ffefc9"/>
<rect x="236.65" y="206.20" width="8.30" height="1.05" fill="#fdedc7"/>
<rect x="244.89" y="206.20" width="8.30" height="1.05" fill="#F6D3A6"/>
<rect x="253.14" y="206.20" width="8.30" height="1.05" fill="#fdedc7"/>
<rect x="261.39" y="206.20" width="16.54" height="1.05" fill="#feeec8"/>
<rect x="277.88" y="206.20" width="8.30" height="1.05" fill="#F9E4C2"/>
<rect x="286.13" y="206.20" width="8.30" height="1.05" fill="#e7efea"/>
<rect x="294.38" y="206.20" width="8.30" height="1.05" fill="#eef6f1"/>
<rect x="302.63" y="206.20" width="8.30" height="1.05" fill="#d5e6f0"/>
<rect x="310.87" y="206.20" width="8.30" height="1.05" fill="#d6e7f1"/>
<rect x="319.12" y="206.20" width="8.30" height="1.05" fill="#dce8ec"/>
<rect x="327.37" y="206.20" width="8.30" height="1.05" fill="#d5e6f0"/>
<rect x="335.62" y="206.20" width="16.54" height="1.05" fill="#d7e8f2"/>
<rect x="352.11" y="206.20" width="8.30" height="1.05" fill="#d6e7f1"/>
<rect x="360.36" y="206.20" width="8.30" height="1.05" fill="#d7e8f2"/>
<rect x="368.61" y="206.20" width="8.30" height="1.05" fill="#d6e7f1"/>
<rect x="376.85" y="206.20" width="8.30" height="1.05" fill="#d7e8f2"/>
<rect x="228.40" y="207.20" width="16.54" height="1.05" fill="#faeac4"/>
<rect x="244.89" y="207.20" width="8.30" height="1.05" fill="#F9E6C6"/>
<rect x="253.14" y="207.20" width="8.30" height="1.05" fill="#f7e7c1"/>
<rect x="261.39" y="207.20" width="8.30" height="1.05" fill="#fbebc5"/>
<rect x="269.64" y="207.20" width="8.30" height="1.05" fill="#fcecc6"/>
<rect x="277.88" y="207.20" width="8.30" height="1.05" fill="#faeac4"/>
<rect x="286.13" y="207.20" width="8.30" height="1.05" fill="#e7efea"/>
<rect x="294.38" y="207.20" width="8.30" height="1.05" fill="#e8f0eb"/>
<rect x="302.63" y="207.20" width="8.30" height="1.05" fill="#d6e7f1"/>
<rect x="310.87" y="207.20" width="8.30" height="1.05" fill="#d8e9f3"/>
<rect x="319.12" y="207.20" width="8.30" height="1.05" fill="#deeaee"/>
<rect x="327.37" y="207.20" width="8.30" height="1.05" fill="#d9eaf4"/>
<rect x="335.62" y="207.20" width="24.79" height="1.05" fill="#d8e9f3"/>
<rect x="360.36" y="207.20" width="16.54" height="1.05" fill="#daebf5"/>
<rect x="376.85" y="207.20" width="8.30" height="1.05" fill="#d9eaf4"/>
<rect x="228.40" y="208.20" width="8.30" height="1.05" fill="#faeac4"/>
<rect x="236.65" y="208.20" width="8.30" height="1.05" fill="#fcecc6"/>
<rect x="244.89" y="208.20" width="8.30" height="1.05" fill="#F9E6C6"/>
<rect x="253.14" y="208.20" width="8.30" height="1.05" fill="#faeac4"/>
<rect x="261.39" y="208.20" width="8.30" height="1.05" fill="#fbebc5"/>
<rect x="269.64" y="208.20" width="8.30" height="1.05" fill="#f9e9c3"/>
<rect x="277.88" y="208.20" width="8.30" height="1.05" fill="#faeac4"/>
<rect x="286.13" y="208.20" width="8.30" height="1.05" fill="#eaf2ed"/>
<rect x="294.38" y="208.20" width="8.30" height="1.05" fill="#e8f0eb"/>
<rect x="302.63" y="208.20" width="16.54" height="1.05" fill="#d7e8f2"/>
<rect x="319.12" y="208.20" width="8.30" height="1.05" fill="#deeaee"/>
<rect x="327.37" y="208.20" width="8.30" height="1.05" fill="#d5e6f0"/>
<rect x="335.62" y="208.20" width="8.30" height="1.05" fill="#d9eaf4"/>
<rect x="343.86" y="208.20" width="8.30" height="1.05" fill="#d7e8f2"/>
<rect x="352.11" y="208.20" width="8.30" height="1.05" fill="#d9eaf4"/>
<rect x="360.36" y="208.20" width="16.54" height="1.05" fill="#d8e9f3"/>
<rect x="376.85" y="208.20" width="8.30" height="1.05" fill="#d9eaf4"/>
<rect x="228.40" y="209.20" width="16.54" height="1.05" fill="#feeec8"/>
<rect x="244.89" y="209.20" width="8.30" height="1.05" fill="#fff2cc"/>
<rect x="253.14" y="209.20" width="8.30" height="1.05" fill="#feeec8"/>
<rect x="261.39" y="209.20" width="8.30" height="1.05" fill="#ffefc9"/>
<rect x="269.64" y="209.20" width="16.54" height="1.05" fill="#fff0ca"/>
<rect x="286.13" y="209.20" width="8.30" height="1.05" fill="#e5ede8"/>
<rect x="294.38" y="209.20" width="8.30" height="1.05" fill="#e9f1ec"/>
<rect x="302.63" y="209.20" width="8.30" height="1.05" fill="#d6e7f1"/>
<rect x="310.87" y="209.20" width="8.30" height="1.05" fill="#d5e6f0"/>
<rect x="319.12" y="209.20" width="8.30" height="1.05" fill="#dce8ec"/>
<rect x="327.37" y="209.20" width="8.30" height="1.05" fill="#d6e7f1"/>
<rect x="335.62" y="209.20" width="16.54" height="1.05" fill="#d5e6f0"/>
<rect x="352.11" y="209.20" width="8.30" height="1.05" fill="#d6e7f1"/>
<rect x="360.36" y="209.20" width="8.30" height="1.05" fill="#d5e6f0"/>
<rect x="368.61" y="209.20" width="8.30" height="1.05" fill="#d7e8f2"/>
<rect x="376.85" y="209.20" width="8.30" height="1.05" fill="#d6e7f1"/>
<rect x="228.40" y="210.20" width="16.54" height="1.05" fill="#fde3b1"/>
<rect x="244.89" y="210.20" width="24.79" height="1.05" fill="#fbe1af"/>
<rect x="269.64" y="210.20" width="16.54" height="1.05" fill="#fce2b0"/>
<rect x="286.13" y="210.20" width="8.30" height="1.05" fill="#e6eee9"/>
<rect x="294.38" y="210.20" width="8.30" height="1.05" fill="#ebf3ee"/>
<rect x="302.63" y="210.20" width="16.54" height="1.05" fill="#cbe1ef"/>
<rect x="319.12" y="210.20" width="8.30" height="1.05" fill="#d5e5ec"/>
<rect x="327.37" y="210.20" width="8.30" height="1.05" fill="#cbe1ef"/>
<rect x="335.62" y="210.20" width="16.54" height="1.05" fill="#cce2f0"/>
<rect x="352.11" y="210.20" width="8.30" height="1.05" fill="#cbe1ef"/>
<rect x="360.36" y="210.20" width="8.30" height="1.05" fill="#cde3f1"/>
<rect x="368.61" y="210.20" width="8.30" height="1.05" fill="#cae0ee"/>
<rect x="376.85" y="210.20" width="8.30" height="1.05" fill="#cbe1ef"/>
<rect x="228.40" y="211.20" width="8.30" height="1.05" fill="#fae0ae"/>
<rect x="236.65" y="211.20" width="8.30" height="1.05" fill="#fbe1af"/>
<rect x="244.89" y="211.20" width="16.54" height="1.05" fill="#fae0ae"/>
<rect x="261.39" y="211.20" width="8.30" height="1.05" fill="#fbe1af"/>
<rect x="269.64" y="211.20" width="8.30" height="1.05" fill="#fae0ae"/>
<rect x="277.88" y="211.20" width="8.30" height="1.05" fill="#F6D8B6"/>
<rect x="286.13" y="211.20" width="8.30" height="1.05" fill="#e5ede8"/>
<rect x="294.38" y="211.20" width="8.30" height="1.05" fill="#eaf2ed"/>
<rect x="302.63" y="211.20" width="16.54" height="1.05" fill="#cbe1ef"/>
<rect x="319.12" y="211.20" width="8.30" height="1.05" fill="#d6e6ed"/>
<rect x="327.37" y="211.20" width="8.30" height="1.05" fill="#cce2f0"/>
<rect x="335.62" y="211.20" width="8.30" height="1.05" fill="#cde3f1"/>
<rect x="343.86" y="211.20" width="8.30" height="1.05" fill="#cbe1ef"/>
<rect x="352.11" y="211.20" width="8.30" height="1.05" fill="#cce2f0"/>
<rect x="360.36" y="211.20" width="8.30" height="1.05" fill="#cbe1ef"/>
<rect x="368.61" y="211.20" width="8.30" height="1.05" fill="#cde3f1"/>
<rect x="376.85" y="211.20" width="8.30" height="1.05" fill="#cbe1ef"/>
<rect x="228.40" y="212.20" width="8.30" height="1.05" fill="#f7ddab"/>
<rect x="236.65" y="212.20" width="8.30" height="1.05" fill="#F6D3A6"/>
<rect x="244.89" y="212.20" width="8.30" height="1.05" fill="#f8deac"/>
<rect x="253.14" y="212.20" width="8.30" height="1.05" fill="#fae0ae"/>
<rect x="261.39" y="212.20" width="8.30" height="1.05" fill="#f8deac"/>
<rect x="269.64" y="212.20" width="8.30" height="1.05" fill="#f9dfad"/>
<rect x="277.88" y="212.20" width="8.30" height="1.05" fill="#F6D8B6"/>
<rect x="286.13" y="212.20" width="8.30" height="1.05" fill="#e3ebe6"/>
<rect x="294.38" y="212.20" width="8.30" height="1.05" fill="#e9f1ec"/>
<rect x="302.63" y="212.20" width="8.30" height="1.05" fill="#cee4f2"/>
<rect x="310.87" y="212.20" width="8.30" height="1.05" fill="#cde3f1"/>
<rect x="319.12" y="212.20" width="8.30" height="1.05" fill="#d8e8ef"/>
<rect x="327.37" y="212.20" width="8.30" height="1.05" fill="#cee4f2"/>
<rect x="335.62" y="212.20" width="8.30" height="1.05" fill="#cce2f0"/>
<rect x="343.86" y="212.20" width="24.79" height="1.05" fill="#cee4f2"/>
<rect x="368.61" y="212.20" width="8.30" height="1.05" fill="#cde3f1"/>
<rect x="376.85" y="212.20" width="8.30" height="1.05" fill="#cee4f2"/>
<rect x="228.40" y="213.20" width="8.30" height="1.05" fill="#fbe1af"/>
<rect x="236.65" y="213.20" width="8.30" height="1.05" fill="#fce2b0"/>
<rect x="244.89" y="213.20" width="8.30" height="1.05" fill="#fae0ae"/>
<rect x="253.14" y="213.20" width="8.30" height="1.05" fill="#F8E4C4"/>
<rect x="261.39" y="213.20" width="8.30" height="1.05" fill="#f8deac"/>
<rect x="269.64" y="213.20" width="8.30" height="1.05" fill="#fbe1af"/>
<rect x="277.88" y="213.20" width="8.30" height="1.05" fill="#F2CDAA"/>
<rect x="286.13" y="213.20" width="8.30" height="1.05" fill="#e5ede8"/>
<rect x="294.38" y="213.20" width="8.30" height="1.05" fill="#e7efea"/>
<rect x="302.63" y="213.20" width="16.54" height="1.05" fill="#cce2f0"/>
<rect x="319.12" y="213.20" width="8.30" height="1.05" fill="#d6e6ed"/>
<rect x="327.37" y="213.20" width="8.30" height="1.05" fill="#cde3f1"/>
<rect x="335.62" y="213.20" width="8.30" height="1.05" fill="#cae0ee"/>
<rect x="343.86" y="213.20" width="8.30" height="1.05" fill="#cee4f2"/>
<rect x="352.11" y="213.20" width="8.30" height="1.05" fill="#cce2f0"/>
<rect x="360.36" y="213.20" width="8.30" height="1.05" fill="#cde3f1"/>
<rect x="368.61" y="213.20" width="8.30" height="1.05" fill="#cbe1ef"/>
<rect x="376.85" y="213.20" width="8.30" height="1.05" fill="#cce2f0"/>
<rect x="228.40" y="214.20" width="8.30" height="1.05" fill="#faeac4"/>
<rect x="236.65" y="214.20" width="8.30" height="1.05" fill="#fcecc6"/>
<rect x="244.89" y="214.20" width="8.30" height="1.05" fill="#fdedc7"/>
<rect x="253.14" y="214.20" width="8.30" height="1.05" fill="#F8E4C4"/>
<rect x="261.39" y="214.20" width="8.30" height="1.05" fill="#fdedc7"/>
<rect x="269.64" y="214.20" width="8.30" height="1.05" fill="#fcecc6"/>
<rect x="277.88" y="214.20" width="8.30" height="1.05" fill="#faeac4"/>
<rect x="286.13" y="214.20" width="8.30" height="1.05" fill="#eaf2ed"/>
<rect x="294.38" y="214.20" width="8.30" height="1.05" fill="#ebf3ee"/>
<rect x="302.63" y="214.20" width="8.30" height="1.05" fill="#d7e8f2"/>
<rect x="310.87" y="214.20" width="8.30" height="1.05" fill="#d8e9f3"/>
<rect x="319.12" y="214.20" width="8.30" height="1.05" fill="#e0ecf0"/>
<rect x="327.37" y="214.20" width="8.30" height="1.05" fill="#d8e9f3"/>
<rect x="335.62" y="214.20" width="8.30" height="1.05" fill="#d5e6f0"/>
<rect x="343.86" y="214.20" width="8.30" height="1.05" fill="#d7e8f2"/>
<rect x="352.11" y="214.20" width="8.30" height="1.05" fill="#d8e9f3"/>
<rect x="360.36" y="214.20" width="8.30" height="1.05" fill="#d7e8f2"/>
<rect x="368.61" y="214.20" width="8.30" height="1.05" fill="#d8e9f3"/>
<rect x="376.85" y="214.20" width="8.30" height="1.05" fill="#d7e8f2"/>
<rect x="228.40" y="215.20" width="8.30" height="1.05" fill="#feeec8"/>
<rect x="236.65" y="215.20" width="8.30" height="1.05" fill="#fdedc7"/>
<rect x="244.89" y="215.20" width="16.54" height="1.05" fill="#feeec8"/>
<rect x="261.39" y="215.20" width="8.30" height="1.05" fill="#ffefc9"/>
<rect x="269.64" y="215.20" width="16.54" height="1.05" fill="#feeec8"/>
<rect x="286.13" y="215.20" width="16.54" height="1.05" fill="#eaf2ed"/>
<rect x="302.63" y="215.20" width="8.30" height="1.05" fill="#d7e8f2"/>
<rect x="310.87" y="215.20" width="8.30" height="1.05" fill="#d6e7f1"/>
<rect x="319.12" y="215.20" width="8.30" height="1.05" fill="#dfebef"/>
<rect x="327.37" y="215.20" width="8.30" height="1.05" fill="#d6e7f1"/>
<rect x="335.62" y="215.20" width="8.30" height="1.05" fill="#d5e6f0"/>
<rect x="343.86" y="215.20" width="8.30" height="1.05" fill="#d6e7f1"/>
<rect x="352.11" y="215.20" width="8.30" height="1.05" fill="#d5e6f0"/>
<rect x="360.36" y="215.20" width="8.30" height="1.05" fill="#d7e8f2"/>
<rect x="368.61" y="215.20" width="8.30" height="1.05" fill="#d6e7f1"/>
<rect x="376.85" y="215.20" width="8.30" height="1.05" fill="#d4e5ef"/>
<rect x="228.40" y="216.20" width="8.30" height="1.05" fill="#fdf4d8"/>
<rect x="236.65" y="216.20" width="8.30" height="1.05" fill="#fcf3d7"/>
<rect x="244.89" y="216.20" width="16.54" height="1.05" fill="#fdf4d8"/>
<rect x="261.39" y="216.20" width="8.30" height="1.05" fill="#faf1d5"/>
<rect x="269.64" y="216.20" width="16.54" height="1.05" fill="#fdf4d8"/>
<rect x="286.13" y="216.20" width="8.30" height="1.05" fill="#e7efea"/>
<rect x="294.38" y="216.20" width="8.30" height="1.05" fill="#eaf2ed"/>
<rect x="302.63" y="216.20" width="8.30" height="1.05" fill="#e4f0f5"/>
<rect x="310.87" y="216.20" width="8.30" height="1.05" fill="#e3eff4"/>
<rect x="319.12" y="216.20" width="8.30" height="1.05" fill="#e6eff0"/>
<rect x="327.37" y="216.20" width="8.30" height="1.05" fill="#e3eff4"/>
<rect x="335.62" y="216.20" width="8.30" height="1.05" fill="#e2eef3"/>
<rect x="343.86" y="216.20" width="24.79" height="1.05" fill="#e3eff4"/>
<rect x="368.61" y="216.20" width="8.30" height="1.05" fill="#e2eef3"/>
<rect x="376.85" y="216.20" width="8.30" height="1.05" fill="#e4f0f5"/>
<rect x="228.40" y="217.20" width="8.30" height="1.05" fill="#f5dba9"/>
<rect x="236.65" y="217.20" width="8.30" height="1.05" fill="#f6dcaa"/>
<rect x="244.89" y="217.20" width="24.79" height="1.05" fill="#f4daa8"/>
<rect x="269.64" y="217.20" width="8.30" height="1.05" fill="#f6dcaa"/>
<rect x="277.88" y="217.20" width="8.30" height="1.05" fill="#f8deac"/>
<rect x="286.13" y="217.20" width="8.30" height="1.05" fill="#e6eee9"/>
<rect x="294.38" y="217.20" width="8.30" height="1.05" fill="#e8f0eb"/>
<rect x="302.63" y="217.20" width="8.30" height="1.05" fill="#cee4f2"/>
<rect x="310.87" y="217.20" width="8.30" height="1.05" fill="#cfe5f3"/>
<rect x="319.12" y="217.20" width="8.30" height="1.05" fill="#d8e8ef"/>
<rect x="327.37" y="217.20" width="16.54" height="1.05" fill="#cee4f2"/>
<rect x="343.86" y="217.20" width="8.30" height="1.05" fill="#cde3f1"/>
<rect x="352.11" y="217.20" width="16.54" height="1.05" fill="#cee4f2"/>
<rect x="368.61" y="217.20" width="16.54" height="1.05" fill="#cfe5f3"/>
<rect x="228.40" y="218.20" width="8.30" height="1.05" fill="#fbe1af"/>
<rect x="236.65" y="218.20" width="8.30" height="1.05" fill="#fde3b1"/>
<rect x="244.89" y="218.20" width="8.30" height="1.05" fill="#fee4b2"/>
<rect x="253.14" y="218.20" width="8.30" height="1.05" fill="#ffe5b3"/>
<rect x="261.39" y="218.20" width="8.30" height="1.05" fill="#fde3b1"/>
<rect x="269.64" y="218.20" width="16.54" height="1.05" fill="#fee4b2"/>
<rect x="286.13" y="218.20" width="8.30" height="1.05" fill="#e1e9e4"/>
<rect x="294.38" y="218.20" width="8.30" height="1.05" fill="#eaf2ed"/>
<rect x="302.63" y="218.20" width="8.30" height="1.05" fill="#cbe1ef"/>
<rect x="310.87" y="218.20" width="8.30" height="1.05" fill="#cae0ee"/>
<rect x="319.12" y="218.20" width="8.30" height="1.05" fill="#d4e4eb"/>
<rect x="327.37" y="218.20" width="8.30" height="1.05" fill="#cce2f0"/>
<rect x="335.62" y="218.20" width="8.30" height="1.05" fill="#c9dfed"/>
<rect x="343.86" y="218.20" width="8.30" height="1.05" fill="#cbe1ef"/>
<rect x="352.11" y="218.20" width="8.30" height="1.05" fill="#c9dfed"/>
<rect x="360.36" y="218.20" width="8.30" height="1.05" fill="#cbe1ef"/>
<rect x="368.61" y="218.20" width="8.30" height="1.05" fill="#cce2f0"/>
<rect x="376.85" y="218.20" width="8.30" height="1.05" fill="#cae0ee"/>
<rect x="228.40" y="219.20" width="8.30" height="1.05" fill="#feeec8"/>
<rect x="236.65" y="219.20" width="8.30" height="1.05" fill="#ffefc9"/>
<rect x="244.89" y="219.20" width="8.30" height="1.05" fill="#fdedc7"/>
<rect x="253.14" y="219.20" width="8.30" height="1.05" fill="#fff0ca"/>
<rect x="261.39" y="219.20" width="8.30" height="1.05" fill="#ffefc9"/>
<rect x="269.64" y="219.20" width="8.30" height="1.05" fill="#feeec8"/>
<rect x="277.88" y="219.20" width="8.30" height="1.05" fill="#ffefc9"/>
<rect x="286.13" y="219.20" width="8.30" height="1.05" fill="#e6eee9"/>
<rect x="294.38" y="219.20" width="8.30" height="1.05" fill="#eaf2ed"/>
<rect x="302.63" y="219.20" width="8.30" height="1.05" fill="#d6e7f1"/>
<rect x="310.87" y="219.20" width="8.30" height="1.05" fill="#d5e6f0"/>
<rect x="319.12" y="219.20" width="8.30" height="1.05" fill="#dce8ec"/>
<rect x="327.37" y="219.20" width="8.30" height="1.05" fill="#d6e7f1"/>
<rect x="335.62" y="219.20" width="8.30" height="1.05" fill="#d8e9f3"/>
<rect x="343.86" y="219.20" width="8.30" height="1.05" fill="#d5e6f0"/>
<rect x="352.11" y="219.20" width="8.30" height="1.05" fill="#d6e7f1"/>
<rect x="360.36" y="219.20" width="16.54" height="1.05" fill="#d5e6f0"/>
<rect x="376.85" y="219.20" width="8.30" height="1.05" fill="#d6e7f1"/>
<rect x="228.40" y="220.20" width="8.30" height="1.05" fill="#fcecc6"/>
<rect x="236.65" y="220.20" width="8.30" height="1.05" fill="#fdedc7"/>
<rect x="244.89" y="220.20" width="16.54" height="1.05" fill="#feeec8"/>
<rect x="261.39" y="220.20" width="8.30" height="1.05" fill="#ffefc9"/>
<rect x="269.64" y="220.20" width="8.30" height="1.05" fill="#feeec8"/>
<rect x="277.88" y="220.20" width="8.30" height="1.05" fill="#fcecc6"/>
<rect x="286.13" y="220.20" width="8.30" height="1.05" fill="#eaf2ed"/>
<rect x="294.38" y="220.20" width="8.30" height="1.05" fill="#ebf3ee"/>
<rect x="302.63" y="220.20" width="16.54" height="1.05" fill="#d6e7f1"/>
<rect x="319.12" y="220.20" width="8.30" height="1.05" fill="#dde9ed"/>
<rect x="327.37" y="220.20" width="24.79" height="1.05" fill="#d7e8f2"/>
<rect x="352.11" y="220.20" width="8.30" height="1.05" fill="#d6e7f1"/>
<rect x="360.36" y="220.20" width="8.30" height="1.05" fill="#d7e8f2"/>
<rect x="368.61" y="220.20" width="8.30" height="1.05" fill="#d6e7f1"/>
<rect x="376.85" y="220.20" width="8.30" height="1.05" fill="#d5e6f0"/>
<rect x="228.40" y="221.20" width="16.54" height="1.05" fill="#fff7db"/>
<rect x="244.89" y="221.20" width="8.30" height="1.05" fill="#fff6da"/>
<rect x="253.14" y="221.20" width="8.30" height="1.05" fill="#fff7db"/>
<rect x="261.39" y="221.20" width="8.30" height="1.05" fill="#fff9dd"/>
<rect x="269.64" y="221.20" width="16.54" height="1.05" fill="#fff8dc"/>
<rect x="286.13" y="221.20" width="8.30" height="1.05" fill="#e5ede8"/>
<rect x="294.38" y="221.20" width="8.30" height="1.05" fill="#e9f1ec"/>
<rect x="302.63" y="221.20" width="8.30" height="1.05" fill="#e0ecf1"/>
<rect x="310.87" y="221.20" width="8.30" height="1.05" fill="#dfebf0"/>
<rect x="319.12" y="221.20" width="8.30" height="1.05" fill="#e4edee"/>
<rect x="327.37" y="221.20" width="33.04" height="1.05" fill="#e0ecf1"/>
<rect x="360.36" y="221.20" width="8.30" height="1.05" fill="#dfebf0"/>
<rect x="368.61" y="221.20" width="8.30" height="1.05" fill="#e2eef3"/>
<rect x="376.85" y="221.20" width="8.30" height="1.05" fill="#e0ecf1"/>
<rect x="228.40" y="222.20" width="8.30" height="1.05" fill="#d6e3ec"/>
<rect x="236.65" y="222.20" width="16.54" height="1.05" fill="#b6d0e8"/>
<rect x="253.14" y="222.20" width="8.30" height="1.05" fill="#b4cee6"/>
<rect x="261.39" y="222.20" width="8.30" height="1.05" fill="#b6d0e8"/>
<rect x="269.64" y="222.20" width="8.30" height="1.05" fill="#b7d1e9"/>
<rect x="277.88" y="222.20" width="8.30" height="1.05" fill="#bad4ec"/>
<rect x="286.13" y="222.20" width="8.30" height="1.05" fill="#e3ebe6"/>
<rect x="294.38" y="222.20" width="8.30" height="1.05" fill="#e7efea"/>
<rect x="302.63" y="222.20" width="8.30" height="1.05" fill="#fdf2c8"/>
<rect x="310.87" y="222.20" width="8.30" height="1.05" fill="#fcf1c7"/>
<rect x="319.12" y="222.20" width="8.30" height="1.05" fill="#f6f0d3"/>
<rect x="327.37" y="222.20" width="8.30" height="1.05" fill="#fdf2c8"/>
<rect x="335.62" y="222.20" width="8.30" height="1.05" fill="#fef3c9"/>
<rect x="343.86" y="222.20" width="8.30" height="1.05" fill="#faefc5"/>
<rect x="352.11" y="222.20" width="16.54" height="1.05" fill="#fbf0c6"/>
<rect x="368.61" y="222.20" width="16.54" height="1.05" fill="#fdf2c8"/>
<rect x="228.40" y="223.20" width="8.30" height="1.05" fill="#d6e3ec"/>
<rect x="236.65" y="223.20" width="8.30" height="1.05" fill="#c4daed"/>
<rect x="244.89" y="223.20" width="8.30" height="1.05" fill="#c2d8eb"/>
<rect x="253.14" y="223.20" width="8.30" height="1.05" fill="#c3d9ec"/>
<rect x="261.39" y="223.20" width="8.30" height="1.05" fill="#c4daed"/>
<rect x="269.64" y="223.20" width="16.54" height="1.05" fill="#c1d7ea"/>
<rect x="286.13" y="223.20" width="8.30" height="1.05" fill="#e9f1ec"/>
<rect x="294.38" y="223.20" width="8.30" height="1.05" fill="#edf5f0"/>
<rect x="302.63" y="223.20" width="8.30" height="1.05" fill="#fdf6d5"/>
<rect x="310.87" y="223.20" width="8.30" height="1.05" fill="#fcf5d4"/>
<rect x="319.12" y="223.20" width="8.30" height="1.05" fill="#f8f5dd"/>
<rect x="327.37" y="223.20" width="16.54" height="1.05" fill="#fdf6d5"/>
<rect x="343.86" y="223.20" width="8.30" height="1.05" fill="#fbf4d3"/>
<rect x="352.11" y="223.20" width="8.30" height="1.05" fill="#fcf5d4"/>
<rect x="360.36" y="223.20" width="16.54" height="1.05" fill="#fbf4d3"/>
<rect x="376.85" y="223.20" width="8.30" height="1.05" fill="#fdf6d5"/>
<rect x="228.40" y="224.20" width="8.30" height="1.05" fill="#dbe8f1"/>
<rect x="236.65" y="224.20" width="16.54" height="1.05" fill="#c5dbee"/>
<rect x="253.14" y="224.20" width="16.54" height="1.05" fill="#c8def1"/>
<rect x="269.64" y="224.20" width="8.30" height="1.05" fill="#c9dff2"/>
<rect x="277.88" y="224.20" width="8.30" height="1.05" fill="#c8def1"/>
<rect x="286.13" y="224.20" width="8.30" height="1.05" fill="#e7efea"/>
<rect x="294.38" y="224.20" width="8.30" height="1.05" fill="#eaf2ed"/>
<rect x="302.63" y="224.20" width="8.30" height="1.05" fill="#fbf4d3"/>
<rect x="310.87" y="224.20" width="8.30" height="1.05" fill="#fcf5d4"/>
<rect x="319.12" y="224.20" width="8.30" height="1.05" fill="#f3f0d8"/>
<rect x="327.37" y="224.20" width="8.30" height="1.05" fill="#f9f2d1"/>
<rect x="335.62" y="224.20" width="16.54" height="1.05" fill="#faf3d2"/>
<rect x="352.11" y="224.20" width="8.30" height="1.05" fill="#f8f1d0"/>
<rect x="360.36" y="224.20" width="8.30" height="1.05" fill="#faf3d2"/>
<rect x="368.61" y="224.20" width="8.30" height="1.05" fill="#fbf4d3"/>
<rect x="376.85" y="224.20" width="8.30" height="1.05" fill="#faf3d2"/>
<rect x="228.40" y="225.20" width="8.30" height="1.05" fill="#dae7f0"/>
<rect x="236.65" y="225.20" width="8.30" height="1.05" fill="#d6e7f3"/>
<rect x="244.89" y="225.20" width="8.30" height="1.05" fill="#d8e9f5"/>
<rect x="253.14" y="225.20" width="8.30" height="1.05" fill="#d6e7f3"/>
<rect x="261.39" y="225.20" width="8.30" height="1.05" fill="#C4DBEE"/>
<rect x="269.64" y="225.20" width="16.54" height="1.05" fill="#d6e7f3"/>
<rect x="286.13" y="225.20" width="8.30" height="1.05" fill="#e8f0eb"/>
<rect x="294.38" y="225.20" width="8.30" height="1.05" fill="#ecf4ef"/>
<rect x="302.63" y="225.20" width="16.54" height="1.05" fill="#fcf8e4"/>
<rect x="319.12" y="225.20" width="8.30" height="1.05" fill="#f6f4e5"/>
<rect x="327.37" y="225.20" width="8.30" height="1.05" fill="#fcf8e4"/>
<rect x="335.62" y="225.20" width="8.30" height="1.05" fill="#fbf7e3"/>
<rect x="343.86" y="225.20" width="8.30" height="1.05" fill="#f9f5e1"/>
<rect x="352.11" y="225.20" width="8.30" height="1.05" fill="#fcf8e4"/>
<rect x="360.36" y="225.20" width="8.30" height="1.05" fill="#faf6e2"/>
<rect x="368.61" y="225.20" width="8.30" height="1.05" fill="#fdf9e5"/>
<rect x="376.85" y="225.20" width="8.30" height="1.05" fill="#faf6e2"/>
<rect x="228.40" y="226.20" width="8.30" height="1.05" fill="#d4e1ea"/>
<rect x="236.65" y="226.20" width="24.79" height="1.05" fill="#c3d9ec"/>
<rect x="261.39" y="226.20" width="8.30" height="1.05" fill="#C4DBEE"/>
<rect x="269.64" y="226.20" width="8.30" height="1.05" fill="#c1d7ea"/>
<rect x="277.88" y="226.20" width="8.30" height="1.05" fill="#c3d9ec"/>
<rect x="286.13" y="226.20" width="8.30" height="1.05" fill="#e8f0eb"/>
<rect x="294.38" y="226.20" width="8.30" height="1.05" fill="#eaf2ed"/>
<rect x="302.63" y="226.20" width="8.30" height="1.05" fill="#fcf5d4"/>
<rect x="310.87" y="226.20" width="8.30" height="1.05" fill="#fef7d6"/>
<rect x="319.12" y="226.20" width="8.30" height="1.05" fill="#f6f3db"/>
<rect x="327.37" y="226.20" width="8.30" height="1.05" fill="#fdf6d5"/>
<rect x="335.62" y="226.20" width="33.04" height="1.05" fill="#fcf5d4"/>
<rect x="368.61" y="226.20" width="8.30" height="1.05" fill="#fff8d7"/>
<rect x="376.85" y="226.20" width="8.30" height="1.05" fill="#fcf5d4"/>
<rect x="228.40" y="227.20" width="8.30" height="1.05" fill="#deebf4"/>
<rect x="236.65" y="227.20" width="8.30" height="1.05" fill="#bbd5ed"/>
<rect x="244.89" y="227.20" width="8.30" height="1.05" fill="#bcd6ee"/>
<rect x="253.14" y="227.20" width="8.30" height="1.05" fill="#bad4ec"/>
<rect x="261.39" y="227.20" width="16.54" height="1.05" fill="#bbd5ed"/>
<rect x="277.88" y="227.20" width="8.30" height="1.05" fill="#b8d2ea"/>
<rect x="286.13" y="227.20" width="8.30" height="1.05" fill="#e4ece7"/>
<rect x="294.38" y="227.20" width="8.30" height="1.05" fill="#e9f1ec"/>
<rect x="302.63" y="227.20" width="8.30" height="1.05" fill="#f8edc3"/>
<rect x="310.87" y="227.20" width="8.30" height="1.05" fill="#f9eec4"/>
<rect x="319.12" y="227.20" width="8.30" height="1.05" fill="#f4eed1"/>
<rect x="327.37" y="227.20" width="8.30" height="1.05" fill="#f8edc3"/>
<rect x="335.62" y="227.20" width="8.30" height="1.05" fill="#f9eec4"/>
<rect x="343.86" y="227.20" width="16.54" height="1.05" fill="#faefc5"/>
<rect x="360.36" y="227.20" width="8.30" height="1.05" fill="#f8edc3"/>
<rect x="368.61" y="227.20" width="16.54" height="1.05" fill="#faefc5"/>
<rect x="228.40" y="228.20" width="8.30" height="1.05" fill="#dce9f2"/>
<rect x="236.65" y="228.20" width="8.30" height="1.05" fill="#c6dcef"/>
<rect x="244.89" y="228.20" width="8.30" height="1.05" fill="#c7ddf0"/>
<rect x="253.14" y="228.20" width="8.30" height="1.05" fill="#c3d9ec"/>
<rect x="261.39" y="228.20" width="8.30" height="1.05" fill="#c7ddf0"/>
<rect x="269.64" y="228.20" width="8.30" height="1.05" fill="#C4DBEE"/>
<rect x="277.88" y="228.20" width="8.30" height="1.05" fill="#c6dcef"/>
<rect x="286.13" y="228.20" width="8.30" height="1.05" fill="#e9f1ec"/>
<rect x="294.38" y="228.20" width="8.30" height="1.05" fill="#ebf3ee"/>
<rect x="302.63" y="228.20" width="8.30" height="1.05" fill="#faf3d2"/>
<rect x="310.87" y="228.20" width="8.30" height="1.05" fill="#fcf5d4"/>
<rect x="319.12" y="228.20" width="8.30" height="1.05" fill="#f7f4dc"/>
<rect x="327.37" y="228.20" width="33.04" height="1.05" fill="#fbf4d3"/>
<rect x="360.36" y="228.20" width="8.30" height="1.05" fill="#fcf5d4"/>
<rect x="368.61" y="228.20" width="8.30" height="1.05" fill="#faf3d2"/>
<rect x="376.85" y="228.20" width="8.30" height="1.05" fill="#fcf5d4"/>
<rect x="228.40" y="229.20" width="8.30" height="1.05" fill="#dce9f2"/>
<rect x="236.65" y="229.20" width="8.30" height="1.05" fill="#deeaef"/>
<rect x="244.89" y="229.20" width="24.79" height="1.05" fill="#e0ecf1"/>
<rect x="269.64" y="229.20" width="8.30" height="1.05" fill="#C4DBEE"/>
<rect x="277.88" y="229.20" width="8.30" height="1.05" fill="#dfebf0"/>
<rect x="286.13" y="229.20" width="8.30" height="1.05" fill="#e7efea"/>
<rect x="294.38" y="229.20" width="8.30" height="1.05" fill="#ebf3ee"/>
<rect x="302.63" y="229.20" width="8.30" height="1.05" fill="#eef1ea"/>
<rect x="310.87" y="229.20" width="8.30" height="1.05" fill="#f0f3ec"/>
<rect x="319.12" y="229.20" width="8.30" height="1.05" fill="#ecefe9"/>
<rect x="327.37" y="229.20" width="8.30" height="1.05" fill="#f0f3ec"/>
<rect x="335.62" y="229.20" width="8.30" height="1.05" fill="#f1f4ed"/>
<rect x="343.86" y="229.20" width="24.79" height="1.05" fill="#eff2eb"/>
<rect x="368.61" y="229.20" width="8.30" height="1.05" fill="#f1f4ed"/>
<rect x="376.85" y="229.20" width="8.30" height="1.05" fill="#f0f3ec"/>
<rect x="228.40" y="230.20" width="8.30" height="1.05" fill="#d8e5ee"/>
<rect x="236.65" y="230.20" width="8.30" height="1.05" fill="#d2e3ef"/>
<rect x="244.89" y="230.20" width="8.30" height="1.05" fill="#d0e1ed"/>
<rect x="253.14" y="230.20" width="8.30" height="1.05" fill="#d3e4f0"/>
<rect x="261.39" y="230.20" width="16.54" height="1.05" fill="#d1e2ee"/>
<rect x="277.88" y="230.20" width="8.30" height="1.05" fill="#d0e1ed"/>
<rect x="286.13" y="230.20" width="8.30" height="1.05" fill="#e8f0eb"/>
<rect x="294.38" y="230.20" width="8.30" height="1.05" fill="#e9f1ec"/>
<rect x="302.63" y="230.20" width="8.30" height="1.05" fill="#fffde9"/>
<rect x="310.87" y="230.20" width="8.30" height="1.05" fill="#fdf9e5"/>
<rect x="319.12" y="230.20" width="8.30" height="1.05" fill="#f8f6e7"/>
<rect x="327.37" y="230.20" width="8.30" height="1.05" fill="#fffbe7"/>
<rect x="335.62" y="230.20" width="8.30" height="1.05" fill="#fefae6"/>
<rect x="343.86" y="230.20" width="8.30" height="1.05" fill="#fffbe7"/>
<rect x="352.11" y="230.20" width="8.30" height="1.05" fill="#fdf9e5"/>
<rect x="360.36" y="230.20" width="8.30" height="1.05" fill="#fffbe7"/>
<rect x="368.61" y="230.20" width="16.54" height="1.05" fill="#fefae6"/>
<rect x="228.40" y="231.20" width="8.30" height="1.05" fill="#d9e6ef"/>
<rect x="236.65" y="231.20" width="8.30" height="1.05" fill="#c7ddf0"/>
<rect x="244.89" y="231.20" width="8.30" height="1.05" fill="#c4daed"/>
<rect x="253.14" y="231.20" width="16.54" height="1.05" fill="#c5dbee"/>
<rect x="269.64" y="231.20" width="8.30" height="1.05" fill="#c7ddf0"/>
<rect x="277.88" y="231.20" width="8.30" height="1.05" fill="#c3d9ec"/>
<rect x="286.13" y="231.20" width="8.30" height="1.05" fill="#e7efea"/>
<rect x="294.38" y="231.20" width="8.30" height="1.05" fill="#eaf2ed"/>
<rect x="302.63" y="231.20" width="8.30" height="1.05" fill="#fcf5d4"/>
<rect x="310.87" y="231.20" width="8.30" height="1.05" fill="#fef7d6"/>
<rect x="319.12" y="231.20" width="8.30" height="1.05" fill="#f6f3db"/>
<rect x="327.37" y="231.20" width="8.30" height="1.05" fill="#fbf4d3"/>
<rect x="335.62" y="231.20" width="16.54" height="1.05" fill="#fcf5d4"/>
<rect x="352.11" y="231.20" width="8.30" height="1.05" fill="#fbf4d3"/>
<rect x="360.36" y="231.20" width="8.30" height="1.05" fill="#fdf6d5"/>
<rect x="368.61" y="231.20" width="8.30" height="1.05" fill="#faf3d2"/>
<rect x="376.85" y="231.20" width="8.30" height="1.05" fill="#fdf6d5"/>
<rect x="228.40" y="232.20" width="8.30" height="1.05" fill="#ddeaf3"/>
<rect x="236.65" y="232.20" width="16.54" height="1.05" fill="#dfebf0"/>
<rect x="253.14" y="232.20" width="16.54" height="1.05" fill="#e1edf2"/>
<rect x="269.64" y="232.20" width="8.30" height="1.05" fill="#dfebf0"/>
<rect x="277.88" y="232.20" width="8.30" height="1.05" fill="#e0ecf1"/>
<rect x="286.13" y="232.20" width="8.30" height="1.05" fill="#e5ede8"/>
<rect x="294.38" y="232.20" width="8.30" height="1.05" fill="#ebf3ee"/>
<rect x="302.63" y="232.20" width="8.30" height="1.05" fill="#f0f3ec"/>
<rect x="310.87" y="232.20" width="8.30" height="1.05" fill="#eff2eb"/>
<rect x="319.12" y="232.20" width="8.30" height="1.05" fill="#edf0ea"/>
<rect x="327.37" y="232.20" width="8.30" height="1.05" fill="#eff2eb"/>
<rect x="335.62" y="232.20" width="8.30" height="1.05" fill="#eef1ea"/>
<rect x="343.86" y="232.20" width="8.30" height="1.05" fill="#eff2eb"/>
<rect x="352.11" y="232.20" width="16.54" height="1.05" fill="#f0f3ec"/>
<rect x="368.61" y="232.20" width="16.54" height="1.05" fill="#eff2eb"/>
<rect x="228.40" y="233.20" width="8.30" height="1.05" fill="#d9e6ef"/>
<rect x="236.65" y="233.20" width="16.54" height="1.05" fill="#b7d1e9"/>
<rect x="253.14" y="233.20" width="8.30" height="1.05" fill="#bad4ec"/>
<rect x="261.39" y="233.20" width="24.79" height="1.05" fill="#b9d3eb"/>
<rect x="286.13" y="233.20" width="8.30" height="1.05" fill="#e5ede8"/>
<rect x="294.38" y="233.20" width="8.30" height="1.05" fill="#e8f0eb"/>
<rect x="302.63" y="233.20" width="8.30" height="1.05" fill="#fbf0c6"/>
<rect x="310.87" y="233.20" width="8.30" height="1.05" fill="#fcf1c7"/>
<rect x="319.12" y="233.20" width="8.30" height="1.05" fill="#f4eed1"/>
<rect x="327.37" y="233.20" width="8.30" height="1.05" fill="#f9eec4"/>
<rect x="335.62" y="233.20" width="8.30" height="1.05" fill="#faefc5"/>
<rect x="343.86" y="233.20" width="8.30" height="1.05" fill="#fcf1c7"/>
<rect x="352.11" y="233.20" width="8.30" height="1.05" fill="#faefc5"/>
<rect x="360.36" y="233.20" width="8.30" height="1.05" fill="#f9eec4"/>
<rect x="368.61" y="233.20" width="8.30" height="1.05" fill="#fef3c9"/>
<rect x="376.85" y="233.20" width="8.30" height="1.05" fill="#faefc5"/>
<rect x="228.40" y="234.20" width="8.30" height="1.05" fill="#dae7f0"/>
<rect x="236.65" y="234.20" width="8.30" height="1.05" fill="#dfebf0"/>
<rect x="244.89" y="234.20" width="8.30" height="1.05" fill="#deeaef"/>
<rect x="253.14" y="234.20" width="8.30" height="1.05" fill="#dde9ee"/>
<rect x="261.39" y="234.20" width="16.54" height="1.05" fill="#dce8ed"/>
<rect x="277.88" y="234.20" width="8.30" height="1.05" fill="#dfebf0"/>
<rect x="286.13" y="234.20" width="8.30" height="1.05" fill="#e7efea"/>
<rect x="294.38" y="234.20" width="8.30" height="1.05" fill="#edf5f0"/>
<rect x="302.63" y="234.20" width="16.54" height="1.05" fill="#f0f3ec"/>
<rect x="319.12" y="234.20" width="8.30" height="1.05" fill="#eef1eb"/>
<rect x="327.37" y="234.20" width="8.30" height="1.05" fill="#f1f4ed"/>
<rect x="335.62" y="234.20" width="33.04" height="1.05" fill="#f0f3ec"/>
<rect x="368.61" y="234.20" width="16.54" height="1.05" fill="#f1f4ed"/>
<rect x="228.40" y="235.20" width="8.30" height="1.05" fill="#e0edf6"/>
<rect x="236.65" y="235.20" width="8.30" height="1.05" fill="#c9dff2"/>
<rect x="244.89" y="235.20" width="8.30" height="1.05" fill="#cbe1f4"/>
<rect x="253.14" y="235.20" width="8.30" height="1.05" fill="#c9dff2"/>
<rect x="261.39" y="235.20" width="8.30" height="1.05" fill="#c8def1"/>
<rect x="269.64" y="235.20" width="8.30" height="1.05" fill="#cae0f3"/>
<rect x="277.88" y="235.20" width="8.30" height="1.05" fill="#c8def1"/>
<rect x="286.13" y="235.20" width="8.30" height="1.05" fill="#e6eee9"/>
<rect x="294.38" y="235.20" width="8.30" height="1.05" fill="#edf5f0"/>
<rect x="302.63" y="235.20" width="8.30" height="1.05" fill="#f9f2d1"/>
<rect x="310.87" y="235.20" width="8.30" height="1.05" fill="#faf3d2"/>
<rect x="319.12" y="235.20" width="8.30" height="1.05" fill="#f4f1d9"/>
<rect x="327.37" y="235.20" width="8.30" height="1.05" fill="#f9f2d1"/>
<rect x="335.62" y="235.20" width="8.30" height="1.05" fill="#faf3d2"/>
<rect x="343.86" y="235.20" width="8.30" height="1.05" fill="#f9f2d1"/>
<rect x="352.11" y="235.20" width="16.54" height="1.05" fill="#faf3d2"/>
<rect x="368.61" y="235.20" width="8.30" height="1.05" fill="#f9f2d1"/>
<rect x="376.85" y="235.20" width="8.30" height="1.05" fill="#f8f1d0"/>
<rect x="228.40" y="236.20" width="8.30" height="1.05" fill="#fef5d9"/>
<rect x="236.65" y="236.20" width="8.30" height="1.05" fill="#fbf2d6"/>
<rect x="244.89" y="236.20" width="8.30" height="1.05" fill="#fef5d9"/>
<rect x="253.14" y="236.20" width="16.54" height="1.05" fill="#fff6da"/>
<rect x="269.64" y="236.20" width="8.30" height="1.05" fill="#fef5d9"/>
<rect x="277.88" y="236.20" width="8.30" height="1.05" fill="#fff7db"/>
<rect x="286.13" y="236.20" width="8.30" height="1.05" fill="#e8f0eb"/>
<rect x="294.38" y="236.20" width="8.30" height="1.05" fill="#eaf2ed"/>
<rect x="302.63" y="236.20" width="8.30" height="1.05" fill="#e3eff4"/>
<rect x="310.87" y="236.20" width="8.30" height="1.05" fill="#e2eef3"/>
<rect x="319.12" y="236.20" width="8.30" height="1.05" fill="#e3eced"/>
<rect x="327.37" y="236.20" width="8.30" height="1.05" fill="#e0ecf1"/>
<rect x="335.62" y="236.20" width="8.30" height="1.05" fill="#e2eef3"/>
<rect x="343.86" y="236.20" width="16.54" height="1.05" fill="#e1edf2"/>
<rect x="360.36" y="236.20" width="8.30" height="1.05" fill="#e0ecf1"/>
<rect x="368.61" y="236.20" width="16.54" height="1.05" fill="#e3eff4"/>
<rect x="228.40" y="237.20" width="8.30" height="1.05" fill="#fdedc7"/>
<rect x="236.65" y="237.20" width="8.30" height="1.05" fill="#fcecc6"/>
<rect x="244.89" y="237.20" width="8.30" height="1.05" fill="#faeac4"/>
<rect x="253.14" y="237.20" width="8.30" height="1.05" fill="#fcecc6"/>
<rect x="261.39" y="237.20" width="8.30" height="1.05" fill="#fdedc7"/>
<rect x="269.64" y="237.20" width="16.54" height="1.05" fill="#fcecc6"/>
<rect x="286.13" y="237.20" width="8.30" height="1.05" fill="#e6eee9"/>
<rect x="294.38" y="237.20" width="8.30" height="1.05" fill="#ecf4ef"/>
<rect x="302.63" y="237.20" width="16.54" height="1.05" fill="#d7e8f2"/>
<rect x="319.12" y="237.20" width="8.30" height="1.05" fill="#dfebef"/>
<rect x="327.37" y="237.20" width="8.30" height="1.05" fill="#d8e9f3"/>
<rect x="335.62" y="237.20" width="8.30" height="1.05" fill="#d7e8f2"/>
<rect x="343.86" y="237.20" width="8.30" height="1.05" fill="#d6e7f1"/>
<rect x="352.11" y="237.20" width="8.30" height="1.05" fill="#d5e6f0"/>
<rect x="360.36" y="237.20" width="8.30" height="1.05" fill="#d6e7f1"/>
<rect x="368.61" y="237.20" width="16.54" height="1.05" fill="#d8e9f3"/>
<rect x="228.40" y="238.20" width="8.30" height="1.05" fill="#fbf2d6"/>
<rect x="236.65" y="238.20" width="8.30" height="1.05" fill="#f9f0d4"/>
<rect x="244.89" y="238.20" width="8.30" height="1.05" fill="#faf1d5"/>
<rect x="253.14" y="238.20" width="8.30" height="1.05" fill="#fbf2d6"/>
<rect x="261.39" y="238.20" width="8.30" height="1.05" fill="#faf1d5"/>
<rect x="269.64" y="238.20" width="8.30" height="1.05" fill="#f9f0d4"/>
<rect x="277.88" y="238.20" width="8.30" height="1.05" fill="#fcf3d7"/>
<rect x="286.13" y="238.20" width="8.30" height="1.05" fill="#e5ede8"/>
<rect x="294.38" y="238.20" width="8.30" height="1.05" fill="#e7efea"/>
<rect x="302.63" y="238.20" width="8.30" height="1.05" fill="#e5f1f6"/>
<rect x="310.87" y="238.20" width="8.30" height="1.05" fill="#e4f0f5"/>
<rect x="319.12" y="238.20" width="8.30" height="1.05" fill="#e6eff0"/>
<rect x="327.37" y="238.20" width="8.30" height="1.05" fill="#e4f0f5"/>
<rect x="335.62" y="238.20" width="16.54" height="1.05" fill="#e2eef3"/>
<rect x="352.11" y="238.20" width="16.54" height="1.05" fill="#e3eff4"/>
<rect x="368.61" y="238.20" width="8.30" height="1.05" fill="#e4f0f5"/>
<rect x="376.85" y="238.20" width="8.30" height="1.05" fill="#e3eff4"/>
<rect x="228.40" y="239.20" width="8.30" height="1.05" fill="#f8e8c2"/>
<rect x="236.65" y="239.20" width="8.30" height="1.05" fill="#f9e9c3"/>
<rect x="244.89" y="239.20" width="8.30" height="1.05" fill="#F2B98E"/>
<rect x="253.14" y="239.20" width="8.30" height="1.05" fill="#faeac4"/>
<rect x="261.39" y="239.20" width="8.30" height="1.05" fill="#f9e9c3"/>
<rect x="269.64" y="239.20" width="8.30" height="1.05" fill="#faeac4"/>
<rect x="277.88" y="239.20" width="8.30" height="1.05" fill="#fbebc5"/>
<rect x="286.13" y="239.20" width="16.54" height="1.05" fill="#eaf2ed"/>
<rect x="302.63" y="239.20" width="16.54" height="1.05" fill="#d9eaf4"/>
<rect x="319.12" y="239.20" width="8.30" height="1.05" fill="#dfebef"/>
<rect x="327.37" y="239.20" width="8.30" height="1.05" fill="#d8e9f3"/>
<rect x="335.62" y="239.20" width="8.30" height="1.05" fill="#d7e8f2"/>
<rect x="343.86" y="239.20" width="8.30" height="1.05" fill="#d8e9f3"/>
<rect x="352.11" y="239.20" width="16.54" height="1.05" fill="#d9eaf4"/>
<rect x="368.61" y="239.20" width="8.30" height="1.05" fill="#daebf5"/>
<rect x="376.85" y="239.20" width="8.30" height="1.05" fill="#d7e8f2"/>
<rect x="228.40" y="240.20" width="8.30" height="1.05" fill="#fcf3d7"/>
<rect x="236.65" y="240.20" width="8.30" height="1.05" fill="#fdf4d8"/>
<rect x="244.89" y="240.20" width="8.30" height="1.05" fill="#F2B98E"/>
<rect x="253.14" y="240.20" width="8.30" height="1.05" fill="#fbf2d6"/>
<rect x="261.39" y="240.20" width="8.30" height="1.05" fill="#fcf3d7"/>
<rect x="269.64" y="240.20" width="8.30" height="1.05" fill="#fdf4d8"/>
<rect x="277.88" y="240.20" width="8.30" height="1.05" fill="#fcf3d7"/>
<rect x="286.13" y="240.20" width="16.54" height="1.05" fill="#eaf2ed"/>
<rect x="302.63" y="240.20" width="16.54" height="1.05" fill="#e1edf2"/>
<rect x="319.12" y="240.20" width="8.30" height="1.05" fill="#e5eeef"/>
<rect x="327.37" y="240.20" width="8.30" height="1.05" fill="#e4f0f5"/>
<rect x="335.62" y="240.20" width="16.54" height="1.05" fill="#e2eef3"/>
<rect x="352.11" y="240.20" width="8.30" height="1.05" fill="#e5f1f6"/>
<rect x="360.36" y="240.20" width="8.30" height="1.05" fill="#e3eff4"/>
<rect x="368.61" y="240.20" width="8.30" height="1.05" fill="#e1edf2"/>
<rect x="376.85" y="240.20" width="8.30" height="1.05" fill="#e3eff4"/>
<rect x="228.40" y="241.20" width="8.30" height="1.05" fill="#fbe1af"/>
<rect x="236.65" y="241.20" width="8.30" height="1.05" fill="#fce2b0"/>
<rect x="244.89" y="241.20" width="8.30" height="1.05" fill="#fee4b2"/>
<rect x="253.14" y="241.20" width="8.30" height="1.05" fill="#fce2b0"/>
<rect x="261.39" y="241.20" width="8.30" height="1.05" fill="#fbe1af"/>
<rect x="269.64" y="241.20" width="8.30" height="1.05" fill="#fce2b0"/>
<rect x="277.88" y="241.20" width="8.30" height="1.05" fill="#EC8E66"/>
<rect x="286.13" y="241.20" width="8.30" height="1.05" fill="#e6eee9"/>
<rect x="294.38" y="241.20" width="8.30" height="1.05" fill="#e9f1ec"/>
<rect x="302.63" y="241.20" width="8.30" height="1.05" fill="#cce2f0"/>
<rect x="310.87" y="241.20" width="8.30" height="1.05" fill="#cbe1ef"/>
<rect x="319.12" y="241.20" width="8.30" height="1.05" fill="#d3e3ea"/>
<rect x="327.37" y="241.20" width="8.30" height="1.05" fill="#cae0ee"/>
<rect x="335.62" y="241.20" width="33.04" height="1.05" fill="#cce2f0"/>
<rect x="368.61" y="241.20" width="8.30" height="1.05" fill="#cbe1ef"/>
<rect x="376.85" y="241.20" width="8.30" height="1.05" fill="#cce2f0"/>
<rect x="228.40" y="242.20" width="8.30" height="1.05" fill="#fff0ca"/>
<rect x="236.65" y="242.20" width="8.30" height="1.05" fill="#ffefc9"/>
<rect x="244.89" y="242.20" width="8.30" height="1.05" fill="#feeec8"/>
<rect x="253.14" y="242.20" width="8.30" height="1.05" fill="#fdedc7"/>
<rect x="261.39" y="242.20" width="8.30" height="1.05" fill="#ffefc9"/>
<rect x="269.64" y="242.20" width="8.30" height="1.05" fill="#feeec8"/>
<rect x="277.88" y="242.20" width="8.30" height="1.05" fill="#EC8E66"/>
<rect x="286.13" y="242.20" width="8.30" height="1.05" fill="#e3ebe6"/>
<rect x="294.38" y="242.20" width="8.30" height="1.05" fill="#eef6f1"/>
<rect x="302.63" y="242.20" width="8.30" height="1.05" fill="#d6e7f1"/>
<rect x="310.87" y="242.20" width="8.30" height="1.05" fill="#d7e8f2"/>
<rect x="319.12" y="242.20" width="8.30" height="1.05" fill="#dde9ed"/>
<rect x="327.37" y="242.20" width="8.30" height="1.05" fill="#d4e5ef"/>
<rect x="335.62" y="242.20" width="8.30" height="1.05" fill="#d8e9f3"/>
<rect x="343.86" y="242.20" width="8.30" height="1.05" fill="#d6e7f1"/>
<rect x="352.11" y="242.20" width="8.30" height="1.05" fill="#d5e6f0"/>
<rect x="360.36" y="242.20" width="8.30" height="1.05" fill="#d7e8f2"/>
<rect x="368.61" y="242.20" width="16.54" height="1.05" fill="#d5e6f0"/>
<rect x="228.40" y="243.20" width="8.30" height="1.05" fill="#fcecc6"/>
<rect x="236.65" y="243.20" width="8.30" height="1.05" fill="#fdedc7"/>
<rect x="244.89" y="243.20" width="8.30" height="1.05" fill="#fcecc6"/>
<rect x="253.14" y="243.20" width="8.30" height="1.05" fill="#feeec8"/>
<rect x="261.39" y="243.20" width="8.30" height="1.05" fill="#F6D3A6"/>
<rect x="269.64" y="243.20" width="8.30" height="1.05" fill="#feeec8"/>
<rect x="277.88" y="243.20" width="8.30" height="1.05" fill="#fcecc6"/>
<rect x="286.13" y="243.20" width="8.30" height="1.05" fill="#e6eee9"/>
<rect x="294.38" y="243.20" width="8.30" height="1.05" fill="#eaf2ed"/>
<rect x="302.63" y="243.20" width="16.54" height="1.05" fill="#d7e8f2"/>
<rect x="319.12" y="243.20" width="8.30" height="1.05" fill="#dfebef"/>
<rect x="327.37" y="243.20" width="16.54" height="1.05" fill="#d6e7f1"/>
<rect x="343.86" y="243.20" width="8.30" height="1.05" fill="#d8e9f3"/>
<rect x="352.11" y="243.20" width="8.30" height="1.05" fill="#d6e7f1"/>
<rect x="360.36" y="243.20" width="8.30" height="1.05" fill="#d5e6f0"/>
<rect x="368.61" y="243.20" width="16.54" height="1.05" fill="#d6e7f1"/>
<rect x="228.40" y="244.20" width="8.30" height="1.05" fill="#fae0ae"/>
<rect x="236.65" y="244.20" width="8.30" height="1.05" fill="#f8deac"/>
<rect x="244.89" y="244.20" width="16.54" height="1.05" fill="#f9dfad"/>
<rect x="261.39" y="244.20" width="8.30" height="1.05" fill="#fce2b0"/>
<rect x="269.64" y="244.20" width="8.30" height="1.05" fill="#fae0ae"/>
<rect x="277.88" y="244.20" width="8.30" height="1.05" fill="#f9dfad"/>
<rect x="286.13" y="244.20" width="8.30" height="1.05" fill="#e5ede8"/>
<rect x="294.38" y="244.20" width="8.30" height="1.05" fill="#ecf4ef"/>
<rect x="302.63" y="244.20" width="16.54" height="1.05" fill="#cce2f0"/>
<rect x="319.12" y="244.20" width="8.30" height="1.05" fill="#d8e8ef"/>
<rect x="327.37" y="244.20" width="8.30" height="1.05" fill="#cce2f0"/>
<rect x="335.62" y="244.20" width="16.54" height="1.05" fill="#cde3f1"/>
<rect x="352.11" y="244.20" width="8.30" height="1.05" fill="#cae0ee"/>
<rect x="360.36" y="244.20" width="8.30" height="1.05" fill="#cde3f1"/>
<rect x="368.61" y="244.20" width="8.30" height="1.05" fill="#cbe1ef"/>
<rect x="376.85" y="244.20" width="8.30" height="1.05" fill="#cce2f0"/>
<rect x="228.40" y="245.20" width="8.30" height="1.05" fill="#fff8dc"/>
<rect x="236.65" y="245.20" width="16.54" height="1.05" fill="#fff6da"/>
<rect x="253.14" y="245.20" width="8.30" height="1.05" fill="#F6D3A6"/>
<rect x="261.39" y="245.20" width="8.30" height="1.05" fill="#fff6da"/>
<rect x="269.64" y="245.20" width="8.30" height="1.05" fill="#fff8dc"/>
<rect x="277.88" y="245.20" width="8.30" height="1.05" fill="#fff7db"/>
<rect x="286.13" y="245.20" width="8.30" height="1.05" fill="#eaf2ed"/>
<rect x="294.38" y="245.20" width="8.30" height="1.05" fill="#ecf4ef"/>
<rect x="302.63" y="245.20" width="16.54" height="1.05" fill="#e1edf2"/>
<rect x="319.12" y="245.20" width="8.30" height="1.05" fill="#e4edee"/>
<rect x="327.37" y="245.20" width="16.54" height="1.05" fill="#e0ecf1"/>
<rect x="343.86" y="245.20" width="8.30" height="1.05" fill="#e2eef3"/>
<rect x="352.11" y="245.20" width="8.30" height="1.05" fill="#e0ecf1"/>
<rect x="360.36" y="245.20" width="8.30" height="1.05" fill="#e1edf2"/>
<rect x="368.61" y="245.20" width="8.30" height="1.05" fill="#e2eef3"/>
<rect x="376.85" y="245.20" width="8.30" height="1.05" fill="#e0ecf1"/>
<rect x="228.40" y="246.20" width="8.30" height="1.05" fill="#fbebc5"/>
<rect x="236.65" y="246.20" width="8.30" height="1.05" fill="#F6D3A6"/>
<rect x="244.89" y="246.20" width="16.54" height="1.05" fill="#fcecc6"/>
<rect x="261.39" y="246.20" width="8.30" height="1.05" fill="#faeac4"/>
<rect x="269.64" y="246.20" width="8.30" height="1.05" fill="#fcecc6"/>
<rect x="277.88" y="246.20" width="8.30" height="1.05" fill="#F3C49A"/>
<rect x="286.13" y="246.20" width="8.30" height="1.05" fill="#e5ede8"/>
<rect x="294.38" y="246.20" width="8.30" height="1.05" fill="#ecf4ef"/>
<rect x="302.63" y="246.20" width="16.54" height="1.05" fill="#d6e7f1"/>
<rect x="319.12" y="246.20" width="8.30" height="1.05" fill="#deeaee"/>
<rect x="327.37" y="246.20" width="8.30" height="1.05" fill="#d6e7f1"/>
<rect x="335.62" y="246.20" width="16.54" height="1.05" fill="#d8e9f3"/>
<rect x="352.11" y="246.20" width="8.30" height="1.05" fill="#d7e8f2"/>
<rect x="360.36" y="246.20" width="8.30" height="1.05" fill="#d9eaf4"/>
<rect x="368.61" y="246.20" width="16.54" height="1.05" fill="#d7e8f2"/>
<rect x="228.40" y="247.20" width="8.30" height="1.05" fill="#f8e8c2"/>
<rect x="236.65" y="247.20" width="8.30" height="1.05" fill="#faeac4"/>
<rect x="244.89" y="247.20" width="8.30" height="1.05" fill="#f9e9c3"/>
<rect x="253.14" y="247.20" width="24.79" height="1.05" fill="#f8e8c2"/>
<rect x="277.88" y="247.20" width="8.30" height="1.05" fill="#F3C49A"/>
<rect x="286.13" y="247.20" width="16.54" height="1.05" fill="#e9f1ec"/>
<rect x="302.63" y="247.20" width="16.54" height="1.05" fill="#d9eaf4"/>
<rect x="319.12" y="247.20" width="8.30" height="1.05" fill="#e0ecf0"/>
<rect x="327.37" y="247.20" width="8.30" height="1.05" fill="#d9eaf4"/>
<rect x="335.62" y="247.20" width="8.30" height="1.05" fill="#daebf5"/>
<rect x="343.86" y="247.20" width="16.54" height="1.05" fill="#d9eaf4"/>
<rect x="360.36" y="247.20" width="8.30" height="1.05" fill="#d8e9f3"/>
<rect x="368.61" y="247.20" width="8.30" height="1.05" fill="#d9eaf4"/>
<rect x="376.85" y="247.20" width="8.30" height="1.05" fill="#d8e9f3"/>
<rect x="228.40" y="248.20" width="8.30" height="1.05" fill="#fce2b0"/>
<rect x="236.65" y="248.20" width="33.04" height="1.05" fill="#fde3b1"/>
<rect x="269.64" y="248.20" width="16.54" height="1.05" fill="#fce2b0"/>
<rect x="286.13" y="248.20" width="8.30" height="1.05" fill="#e8f0eb"/>
<rect x="294.38" y="248.20" width="8.30" height="1.05" fill="#eaf2ed"/>
<rect x="302.63" y="248.20" width="8.30" height="1.05" fill="#cae0ee"/>
<rect x="310.87" y="248.20" width="8.30" height="1.05" fill="#cbe1ef"/>
<rect x="319.12" y="248.20" width="8.30" height="1.05" fill="#d6e6ed"/>
<rect x="327.37" y="248.20" width="8.30" height="1.05" fill="#c9dfed"/>
<rect x="335.62" y="248.20" width="8.30" height="1.05" fill="#cae0ee"/>
<rect x="343.86" y="248.20" width="41.29" height="1.05" fill="#cce2f0"/>
<rect x="228.40" y="249.20" width="8.30" height="1.05" fill="#feeec8"/>
<rect x="236.65" y="249.20" width="8.30" height="1.05" fill="#fdedc7"/>
<rect x="244.89" y="249.20" width="8.30" height="1.05" fill="#F2BE92"/>
<rect x="253.14" y="249.20" width="8.30" height="1.05" fill="#feeec8"/>
<rect x="261.39" y="249.20" width="8.30" height="1.05" fill="#fff0ca"/>
<rect x="269.64" y="249.20" width="8.30" height="1.05" fill="#feeec8"/>
<rect x="277.88" y="249.20" width="8.30" height="1.05" fill="#ffefc9"/>
<rect x="286.13" y="249.20" width="16.54" height="1.05" fill="#eaf2ed"/>
<rect x="302.63" y="249.20" width="8.30" height="1.05" fill="#d7e8f2"/>
<rect x="310.87" y="249.20" width="8.30" height="1.05" fill="#d6e7f1"/>
<rect x="319.12" y="249.20" width="8.30" height="1.05" fill="#dde9ed"/>
<rect x="327.37" y="249.20" width="8.30" height="1.05" fill="#d6e7f1"/>
<rect x="335.62" y="249.20" width="8.30" height="1.05" fill="#d5e6f0"/>
<rect x="343.86" y="249.20" width="8.30" height="1.05" fill="#d6e7f1"/>
<rect x="352.11" y="249.20" width="16.54" height="1.05" fill="#d5e6f0"/>
<rect x="368.61" y="249.20" width="16.54" height="1.05" fill="#d7e8f2"/>
<rect x="228.40" y="250.20" width="8.30" height="1.05" fill="#fae0ae"/>
<rect x="236.65" y="250.20" width="8.30" height="1.05" fill="#f9dfad"/>
<rect x="244.89" y="250.20" width="8.30" height="1.05" fill="#F2BE92"/>
<rect x="253.14" y="250.20" width="8.30" height="1.05" fill="#f8deac"/>
<rect x="261.39" y="250.20" width="8.30" height="1.05" fill="#fbe1af"/>
<rect x="269.64" y="250.20" width="8.30" height="1.05" fill="#f6dcaa"/>
<rect x="277.88" y="250.20" width="8.30" height="1.05" fill="#f8deac"/>
<rect x="286.13" y="250.20" width="8.30" height="1.05" fill="#e3ebe6"/>
<rect x="294.38" y="250.20" width="8.30" height="1.05" fill="#e6eee9"/>
<rect x="302.63" y="250.20" width="8.30" height="1.05" fill="#cce2f0"/>
<rect x="310.87" y="250.20" width="8.30" height="1.05" fill="#cde3f1"/>
<rect x="319.12" y="250.20" width="8.30" height="1.05" fill="#d7e7ee"/>
<rect x="327.37" y="250.20" width="8.30" height="1.05" fill="#cee4f2"/>
<rect x="335.62" y="250.20" width="8.30" height="1.05" fill="#cde3f1"/>
<rect x="343.86" y="250.20" width="16.54" height="1.05" fill="#cce2f0"/>
<rect x="360.36" y="250.20" width="8.30" height="1.05" fill="#cee4f2"/>
<rect x="368.61" y="250.20" width="16.54" height="1.05" fill="#cce2f0"/>
<rect x="228.40" y="251.20" width="49.53" height="1.05" fill="#faeac4"/>
<rect x="277.88" y="251.20" width="8.30" height="1.05" fill="#f9e9c3"/>
<rect x="286.13" y="251.20" width="8.30" height="1.05" fill="#e7efea"/>
<rect x="294.38" y="251.20" width="8.30" height="1.05" fill="#e9f1ec"/>
<rect x="302.63" y="251.20" width="8.30" height="1.05" fill="#daebf5"/>
<rect x="310.87" y="251.20" width="8.30" height="1.05" fill="#d7e8f2"/>
<rect x="319.12" y="251.20" width="8.30" height="1.05" fill="#deeaee"/>
<rect x="327.37" y="251.20" width="8.30" height="1.05" fill="#d7e8f2"/>
<rect x="335.62" y="251.20" width="8.30" height="1.05" fill="#d9eaf4"/>
<rect x="343.86" y="251.20" width="8.30" height="1.05" fill="#daebf5"/>
<rect x="352.11" y="251.20" width="8.30" height="1.05" fill="#d8e9f3"/>
<rect x="360.36" y="251.20" width="24.79" height="1.05" fill="#daebf5"/>
<rect x="228.40" y="252.20" width="16.54" height="1.05" fill="#edf0e7"/>
<rect x="244.89" y="252.20" width="8.30" height="1.05" fill="#ebeee5"/>
<rect x="253.14" y="252.20" width="16.54" height="1.05" fill="#edf0e7"/>
<rect x="269.64" y="252.20" width="8.30" height="1.05" fill="#ebeee5"/>
<rect x="277.88" y="252.20" width="8.30" height="1.05" fill="#ecefe6"/>
<rect x="286.13" y="252.20" width="8.30" height="1.05" fill="#e7efea"/>
<rect x="294.38" y="252.20" width="8.30" height="1.05" fill="#ecf4ef"/>
<rect x="302.63" y="252.20" width="16.54" height="1.05" fill="#e8f0ee"/>
<rect x="319.12" y="252.20" width="8.30" height="1.05" fill="#e9efec"/>
<rect x="327.37" y="252.20" width="8.30" height="1.05" fill="#e8f0ee"/>
<rect x="335.62" y="252.20" width="16.54" height="1.05" fill="#e9f1ef"/>
<rect x="352.11" y="252.20" width="8.30" height="1.05" fill="#eaf2f0"/>
<rect x="360.36" y="252.20" width="8.30" height="1.05" fill="#e8f0ee"/>
<rect x="368.61" y="252.20" width="8.30" height="1.05" fill="#e9f1ef"/>
<rect x="376.85" y="252.20" width="8.30" height="1.05" fill="#eaf2f0"/>
<rect x="228.40" y="253.20" width="8.30" height="1.05" fill="#faf1d5"/>
<rect x="236.65" y="253.20" width="8.30" height="1.05" fill="#fbf2d6"/>
<rect x="244.89" y="253.20" width="8.30" height="1.05" fill="#faf1d5"/>
<rect x="253.14" y="253.20" width="8.30" height="1.05" fill="#fcf3d7"/>
<rect x="261.39" y="253.20" width="8.30" height="1.05" fill="#fdf4d8"/>
<rect x="269.64" y="253.20" width="8.30" height="1.05" fill="#fbf2d6"/>
<rect x="277.88" y="253.20" width="8.30" height="1.05" fill="#fcf3d7"/>
<rect x="286.13" y="253.20" width="8.30" height="1.05" fill="#ecf4ef"/>
<rect x="294.38" y="253.20" width="8.30" height="1.05" fill="#ebf3ee"/>
<rect x="302.63" y="253.20" width="8.30" height="1.05" fill="#e3eff4"/>
<rect x="310.87" y="253.20" width="8.30" height="1.05" fill="#e4f0f5"/>
<rect x="319.12" y="253.20" width="8.30" height="1.05" fill="#e7f0f1"/>
<rect x="327.37" y="253.20" width="8.30" height="1.05" fill="#e3eff4"/>
<rect x="335.62" y="253.20" width="8.30" height="1.05" fill="#e4f0f5"/>
<rect x="343.86" y="253.20" width="8.30" height="1.05" fill="#e6f2f7"/>
<rect x="352.11" y="253.20" width="8.30" height="1.05" fill="#e3eff4"/>
<rect x="360.36" y="253.20" width="8.30" height="1.05" fill="#e4f0f5"/>
<rect x="368.61" y="253.20" width="16.54" height="1.05" fill="#e3eff4"/>
<rect x="228.40" y="254.20" width="8.30" height="1.05" fill="#fff7db"/>
<rect x="236.65" y="254.20" width="8.30" height="1.05" fill="#fff8dc"/>
<rect x="244.89" y="254.20" width="8.30" height="1.05" fill="#F4CCA4"/>
<rect x="253.14" y="254.20" width="8.30" height="1.05" fill="#fff7db"/>
<rect x="261.39" y="254.20" width="8.30" height="1.05" fill="#fff8dc"/>
<rect x="269.64" y="254.20" width="16.54" height="1.05" fill="#fff7db"/>
<rect x="286.13" y="254.20" width="8.30" height="1.05" fill="#eaf2ed"/>
<rect x="294.38" y="254.20" width="8.30" height="1.05" fill="#e8f0eb"/>
<rect x="302.63" y="254.20" width="8.30" height="1.05" fill="#e0ecf1"/>
<rect x="310.87" y="254.20" width="8.30" height="1.05" fill="#deeaef"/>
<rect x="319.12" y="254.20" width="8.30" height="1.05" fill="#e2ebec"/>
<rect x="327.37" y="254.20" width="24.79" height="1.05" fill="#e0ecf1"/>
<rect x="352.11" y="254.20" width="16.54" height="1.05" fill="#e1edf2"/>
<rect x="368.61" y="254.20" width="16.54" height="1.05" fill="#e0ecf1"/>
<rect x="228.40" y="255.20" width="8.30" height="1.05" fill="#feeec8"/>
<rect x="236.65" y="255.20" width="8.30" height="1.05" fill="#ffefc9"/>
<rect x="244.89" y="255.20" width="8.30" height="1.05" fill="#F4CCA4"/>
<rect x="253.14" y="255.20" width="8.30" height="1.05" fill="#fcecc6"/>
<rect x="261.39" y="255.20" width="8.30" height="1.05" fill="#fdedc7"/>
<rect x="269.64" y="255.20" width="8.30" height="1.05" fill="#fcecc6"/>
<rect x="277.88" y="255.20" width="8.30" height="1.05" fill="#F3C49A"/>
<rect x="286.13" y="255.20" width="8.30" height="1.05" fill="#e8f0eb"/>
<rect x="294.38" y="255.20" width="8.30" height="1.05" fill="#ebf3ee"/>
<rect x="302.63" y="255.20" width="16.54" height="1.05" fill="#d6e7f1"/>
<rect x="319.12" y="255.20" width="8.30" height="1.05" fill="#deeaee"/>
<rect x="327.37" y="255.20" width="16.54" height="1.05" fill="#d6e7f1"/>
<rect x="343.86" y="255.20" width="8.30" height="1.05" fill="#d7e8f2"/>
<rect x="352.11" y="255.20" width="8.30" height="1.05" fill="#d6e7f1"/>
<rect x="360.36" y="255.20" width="8.30" height="1.05" fill="#d5e6f0"/>
<rect x="368.61" y="255.20" width="8.30" height="1.05" fill="#d6e7f1"/>
<rect x="376.85" y="255.20" width="8.30" height="1.05" fill="#d8e9f3"/>
<rect x="228.40" y="256.20" width="8.30" height="1.05" fill="#fff0ca"/>
<rect x="236.65" y="256.20" width="16.54" height="1.05" fill="#fcecc6"/>
<rect x="253.14" y="256.20" width="8.30" height="1.05" fill="#feeec8"/>
<rect x="261.39" y="256.20" width="8.30" height="1.05" fill="#fcecc6"/>
<rect x="269.64" y="256.20" width="8.30" height="1.05" fill="#feeec8"/>
<rect x="277.88" y="256.20" width="8.30" height="1.05" fill="#F3C49A"/>
<rect x="286.13" y="256.20" width="8.30" height="1.05" fill="#e8f0eb"/>
<rect x="294.38" y="256.20" width="8.30" height="1.05" fill="#e9f1ec"/>
<rect x="302.63" y="256.20" width="8.30" height="1.05" fill="#d5e6f0"/>
<rect x="310.87" y="256.20" width="8.30" height="1.05" fill="#d7e8f2"/>
<rect x="319.12" y="256.20" width="8.30" height="1.05" fill="#deeaee"/>
<rect x="327.37" y="256.20" width="8.30" height="1.05" fill="#d6e7f1"/>
<rect x="335.62" y="256.20" width="8.30" height="1.05" fill="#d5e6f0"/>
<rect x="343.86" y="256.20" width="33.04" height="1.05" fill="#d6e7f1"/>
<rect x="376.85" y="256.20" width="8.30" height="1.05" fill="#d7e8f2"/>
<rect x="228.40" y="257.20" width="8.30" height="1.05" fill="#f9e9c3"/>
<rect x="236.65" y="257.20" width="8.30" height="1.05" fill="#f8e8c2"/>
<rect x="244.89" y="257.20" width="24.79" height="1.05" fill="#faeac4"/>
<rect x="269.64" y="257.20" width="8.30" height="1.05" fill="#fbebc5"/>
<rect x="277.88" y="257.20" width="8.30" height="1.05" fill="#faeac4"/>
<rect x="286.13" y="257.20" width="8.30" height="1.05" fill="#e9f1ec"/>
<rect x="294.38" y="257.20" width="8.30" height="1.05" fill="#ebf3ee"/>
<rect x="302.63" y="257.20" width="8.30" height="1.05" fill="#d7e8f2"/>
<rect x="310.87" y="257.20" width="8.30" height="1.05" fill="#d9eaf4"/>
<rect x="319.12" y="257.20" width="8.30" height="1.05" fill="#dfebef"/>
<rect x="327.37" y="257.20" width="16.54" height="1.05" fill="#d8e9f3"/>
<rect x="343.86" y="257.20" width="16.54" height="1.05" fill="#d9eaf4"/>
<rect x="360.36" y="257.20" width="8.30" height="1.05" fill="#d7e8f2"/>
<rect x="368.61" y="257.20" width="8.30" height="1.05" fill="#d8e9f3"/>
<rect x="376.85" y="257.20" width="8.30" height="1.05" fill="#d9eaf4"/>
<rect x="228.40" y="258.20" width="16.54" height="1.05" fill="#f9dfad"/>
<rect x="244.89" y="258.20" width="8.30" height="1.05" fill="#f8deac"/>
<rect x="253.14" y="258.20" width="8.30" height="1.05" fill="#fae0ae"/>
<rect x="261.39" y="258.20" width="16.54" height="1.05" fill="#f8deac"/>
<rect x="277.88" y="258.20" width="8.30" height="1.05" fill="#F0B085"/>
<rect x="286.13" y="258.20" width="8.30" height="1.05" fill="#e3ebe6"/>
<rect x="294.38" y="258.20" width="8.30" height="1.05" fill="#e6eee9"/>
<rect x="302.63" y="258.20" width="16.54" height="1.05" fill="#cbe1ef"/>
<rect x="319.12" y="258.20" width="8.30" height="1.05" fill="#d6e6ed"/>
<rect x="327.37" y="258.20" width="8.30" height="1.05" fill="#cbe1ef"/>
<rect x="335.62" y="258.20" width="33.04" height="1.05" fill="#cce2f0"/>
<rect x="368.61" y="258.20" width="8.30" height="1.05" fill="#cee4f2"/>
<rect x="376.85" y="258.20" width="8.30" height="1.05" fill="#cde3f1"/>
<rect x="228.40" y="259.20" width="8.30" height="1.05" fill="#fce2b0"/>
<rect x="236.65" y="259.20" width="8.30" height="1.05" fill="#fae0ae"/>
<rect x="244.89" y="259.20" width="8.30" height="1.05" fill="#f8deac"/>
<rect x="253.14" y="259.20" width="8.30" height="1.05" fill="#f9dfad"/>
<rect x="261.39" y="259.20" width="8.30" height="1.05" fill="#fbe1af"/>
<rect x="269.64" y="259.20" width="8.30" height="1.05" fill="#fae0ae"/>
<rect x="277.88" y="259.20" width="8.30" height="1.05" fill="#f7ddab"/>
<rect x="286.13" y="259.20" width="8.30" height="1.05" fill="#e4ece7"/>
<rect x="294.38" y="259.20" width="8.30" height="1.05" fill="#e6eee9"/>
<rect x="302.63" y="259.20" width="8.30" height="1.05" fill="#cce2f0"/>
<rect x="310.87" y="259.20" width="8.30" height="1.05" fill="#cae0ee"/>
<rect x="319.12" y="259.20" width="8.30" height="1.05" fill="#d7e7ee"/>
<rect x="327.37" y="259.20" width="8.30" height="1.05" fill="#cde3f1"/>
<rect x="335.62" y="259.20" width="16.54" height="1.05" fill="#cbe1ef"/>
<rect x="352.11" y="259.20" width="8.30" height="1.05" fill="#cee4f2"/>
<rect x="360.36" y="259.20" width="8.30" height="1.05" fill="#cbe1ef"/>
<rect x="368.61" y="259.20" width="16.54" height="1.05" fill="#cce2f0"/>
<rect x="228.40" y="260.20" width="8.30" height="1.05" fill="#ebeee5"/>
<rect x="236.65" y="260.20" width="8.30" height="1.05" fill="#eaede4"/>
<rect x="244.89" y="260.20" width="24.79" height="1.05" fill="#e9ece3"/>
<rect x="269.64" y="260.20" width="8.30" height="1.05" fill="#ebeee5"/>
<rect x="277.88" y="260.20" width="8.30" height="1.05" fill="#eaede4"/>
<rect x="286.13" y="260.20" width="8.30" height="1.05" fill="#e7efea"/>
<rect x="294.38" y="260.20" width="8.30" height="1.05" fill="#ebf3ee"/>
<rect x="302.63" y="260.20" width="8.30" height="1.05" fill="#ebf3f1"/>
<rect x="310.87" y="260.20" width="8.30" height="1.05" fill="#eaf2f0"/>
<rect x="319.12" y="260.20" width="8.30" height="1.05" fill="#ebf1ee"/>
<rect x="327.37" y="260.20" width="8.30" height="1.05" fill="#eaf2f0"/>
<rect x="335.62" y="260.20" width="8.30" height="1.05" fill="#ebf3f1"/>
<rect x="343.86" y="260.20" width="8.30" height="1.05" fill="#ecf4f2"/>
<rect x="352.11" y="260.20" width="8.30" height="1.05" fill="#eaf2f0"/>
<rect x="360.36" y="260.20" width="8.30" height="1.05" fill="#ebf3f1"/>
<rect x="368.61" y="260.20" width="8.30" height="1.05" fill="#eaf2f0"/>
<rect x="376.85" y="260.20" width="8.30" height="1.05" fill="#e9f1ef"/>
<rect x="228.40" y="261.20" width="8.30" height="1.05" fill="#dfe7e9"/>
<rect x="236.65" y="261.20" width="8.30" height="1.05" fill="#e0e8ea"/>
<rect x="244.89" y="261.20" width="16.54" height="1.05" fill="#e1e9eb"/>
<rect x="261.39" y="261.20" width="8.30" height="1.05" fill="#e2eaec"/>
<rect x="269.64" y="261.20" width="16.54" height="1.05" fill="#e1e9eb"/>
<rect x="286.13" y="261.20" width="8.30" height="1.05" fill="#e9f1ec"/>
<rect x="294.38" y="261.20" width="8.30" height="1.05" fill="#ecf4ef"/>
<rect x="302.63" y="261.20" width="8.30" height="1.05" fill="#fdf9e5"/>
<rect x="310.87" y="261.20" width="8.30" height="1.05" fill="#faf6e2"/>
<rect x="319.12" y="261.20" width="8.30" height="1.05" fill="#f6f4e5"/>
<rect x="327.37" y="261.20" width="8.30" height="1.05" fill="#fdf9e5"/>
<rect x="335.62" y="261.20" width="8.30" height="1.05" fill="#fcf8e4"/>
<rect x="343.86" y="261.20" width="8.30" height="1.05" fill="#fefae6"/>
<rect x="352.11" y="261.20" width="8.30" height="1.05" fill="#fcf8e4"/>
<rect x="360.36" y="261.20" width="8.30" height="1.05" fill="#fdf9e5"/>
<rect x="368.61" y="261.20" width="8.30" height="1.05" fill="#fcf8e4"/>
<rect x="376.85" y="261.20" width="8.30" height="1.05" fill="#fdf9e5"/>
<rect x="228.40" y="262.20" width="8.30" height="1.05" fill="#e6eef0"/>
<rect x="236.65" y="262.20" width="8.30" height="1.05" fill="#e2eaec"/>
<rect x="244.89" y="262.20" width="8.30" height="1.05" fill="#e5edef"/>
<rect x="253.14" y="262.20" width="8.30" height="1.05" fill="#e2eaec"/>
<rect x="261.39" y="262.20" width="8.30" height="1.05" fill="#e4ecee"/>
<rect x="269.64" y="262.20" width="8.30" height="1.05" fill="#e3ebed"/>
<rect x="277.88" y="262.20" width="8.30" height="1.05" fill="#e7eff1"/>
<rect x="286.13" y="262.20" width="16.54" height="1.05" fill="#ecf4ef"/>
<rect x="302.63" y="262.20" width="16.54" height="1.05" fill="#faf3d2"/>
<rect x="319.12" y="262.20" width="8.30" height="1.05" fill="#f4f1d9"/>
<rect x="327.37" y="262.20" width="8.30" height="1.05" fill="#fdf6d5"/>
<rect x="335.62" y="262.20" width="8.30" height="1.05" fill="#faf3d2"/>
<rect x="343.86" y="262.20" width="8.30" height="1.05" fill="#f8f1d0"/>
<rect x="352.11" y="262.20" width="24.79" height="1.05" fill="#faf3d2"/>
<rect x="376.85" y="262.20" width="8.30" height="1.05" fill="#fbf4d3"/>
<rect x="228.40" y="263.20" width="8.30" height="1.05" fill="#e4ecee"/>
<rect x="236.65" y="263.20" width="8.30" height="1.05" fill="#e7eff1"/>
<rect x="244.89" y="263.20" width="8.30" height="1.05" fill="#e6eef0"/>
<rect x="253.14" y="263.20" width="8.30" height="1.05" fill="#F2C39A"/>
<rect x="261.39" y="263.20" width="8.30" height="1.05" fill="#e6eef0"/>
<rect x="269.64" y="263.20" width="8.30" height="1.05" fill="#e4ecee"/>
<rect x="277.88" y="263.20" width="8.30" height="1.05" fill="#e6eef0"/>
<rect x="286.13" y="263.20" width="8.30" height="1.05" fill="#e6eee9"/>
<rect x="294.38" y="263.20" width="8.30" height="1.05" fill="#ebf3ee"/>
<rect x="302.63" y="263.20" width="8.30" height="1.05" fill="#faf3d2"/>
<rect x="310.87" y="263.20" width="8.30" height="1.05" fill="#f9f2d1"/>
<rect x="319.12" y="263.20" width="8.30" height="1.05" fill="#f3f0d8"/>
<rect x="327.37" y="263.20" width="8.30" height="1.05" fill="#fbf4d3"/>
<rect x="335.62" y="263.20" width="8.30" height="1.05" fill="#f9f2d1"/>
<rect x="343.86" y="263.20" width="24.79" height="1.05" fill="#faf3d2"/>
<rect x="368.61" y="263.20" width="8.30" height="1.05" fill="#fbf4d3"/>
<rect x="376.85" y="263.20" width="8.30" height="1.05" fill="#f9f2d1"/>
<rect x="228.40" y="264.20" width="8.30" height="1.05" fill="#dfe7e9"/>
<rect x="236.65" y="264.20" width="8.30" height="1.05" fill="#dee6e8"/>
<rect x="244.89" y="264.20" width="8.30" height="1.05" fill="#dfe7e9"/>
<rect x="253.14" y="264.20" width="8.30" height="1.05" fill="#F2C39A"/>
<rect x="261.39" y="264.20" width="8.30" height="1.05" fill="#dfe7e9"/>
<rect x="269.64" y="264.20" width="16.54" height="1.05" fill="#e0e8ea"/>
<rect x="286.13" y="264.20" width="16.54" height="1.05" fill="#e8f0eb"/>
<rect x="302.63" y="264.20" width="8.30" height="1.05" fill="#fcf1c7"/>
<rect x="310.87" y="264.20" width="8.30" height="1.05" fill="#fdf2c8"/>
<rect x="319.12" y="264.20" width="8.30" height="1.05" fill="#f6f0d3"/>
<rect x="327.37" y="264.20" width="8.30" height="1.05" fill="#fef3c9"/>
<rect x="335.62" y="264.20" width="8.30" height="1.05" fill="#fdf2c8"/>
<rect x="343.86" y="264.20" width="8.30" height="1.05" fill="#fef3c9"/>
<rect x="352.11" y="264.20" width="8.30" height="1.05" fill="#fcf1c7"/>
<rect x="360.36" y="264.20" width="8.30" height="1.05" fill="#fdf2c8"/>
<rect x="368.61" y="264.20" width="16.54" height="1.05" fill="#fef3c9"/>
<rect x="228.40" y="265.20" width="8.30" height="1.05" fill="#f4ecd8"/>
<rect x="236.65" y="265.20" width="8.30" height="1.05" fill="#f7efdb"/>
<rect x="244.89" y="265.20" width="8.30" height="1.05" fill="#f5edd9"/>
<rect x="253.14" y="265.20" width="8.30" height="1.05" fill="#f6eeda"/>
<rect x="261.39" y="265.20" width="8.30" height="1.05" fill="#f4ecd8"/>
<rect x="269.64" y="265.20" width="8.30" height="1.05" fill="#f6eeda"/>
<rect x="277.88" y="265.20" width="8.30" height="1.05" fill="#f5edd9"/>
<rect x="286.13" y="265.20" width="16.54" height="1.05" fill="#e6eee9"/>
<rect x="302.63" y="265.20" width="16.54" height="1.05" fill="#cde3f1"/>
<rect x="319.12" y="265.20" width="8.30" height="1.05" fill="#d8e8ef"/>
<rect x="327.37" y="265.20" width="16.54" height="1.05" fill="#cde3f1"/>
<rect x="343.86" y="265.20" width="16.54" height="1.05" fill="#cee4f2"/>
<rect x="360.36" y="265.20" width="16.54" height="1.05" fill="#cbe1ef"/>
<rect x="376.85" y="265.20" width="8.30" height="1.05" fill="#cde3f1"/>
<rect x="228.40" y="266.20" width="8.30" height="1.05" fill="#fbf3df"/>
<rect x="236.65" y="266.20" width="8.30" height="1.05" fill="#f7efdb"/>
<rect x="244.89" y="266.20" width="8.30" height="1.05" fill="#faf2de"/>
<rect x="253.14" y="266.20" width="8.30" height="1.05" fill="#f8f0dc"/>
<rect x="261.39" y="266.20" width="8.30" height="1.05" fill="#fcf4e0"/>
<rect x="269.64" y="266.20" width="8.30" height="1.05" fill="#f8f0dc"/>
<rect x="277.88" y="266.20" width="8.30" height="1.05" fill="#fcf4e0"/>
<rect x="286.13" y="266.20" width="8.30" height="1.05" fill="#eaf2ed"/>
<rect x="294.38" y="266.20" width="8.30" height="1.05" fill="#e7efea"/>
<rect x="302.63" y="266.20" width="16.54" height="1.05" fill="#e0ecf1"/>
<rect x="319.12" y="266.20" width="8.30" height="1.05" fill="#e3eced"/>
<rect x="327.37" y="266.20" width="16.54" height="1.05" fill="#e2eef3"/>
<rect x="343.86" y="266.20" width="8.30" height="1.05" fill="#e0ecf1"/>
<rect x="352.11" y="266.20" width="16.54" height="1.05" fill="#e1edf2"/>
<rect x="368.61" y="266.20" width="8.30" height="1.05" fill="#e0ecf1"/>
<rect x="376.85" y="266.20" width="8.30" height="1.05" fill="#e1edf2"/>
<rect x="228.40" y="267.20" width="8.30" height="1.05" fill="#f8f0dc"/>
<rect x="236.65" y="267.20" width="8.30" height="1.05" fill="#f6eeda"/>
<rect x="244.89" y="267.20" width="16.54" height="1.05" fill="#f8f0dc"/>
<rect x="261.39" y="267.20" width="16.54" height="1.05" fill="#f6eeda"/>
<rect x="277.88" y="267.20" width="8.30" height="1.05" fill="#f4ecd8"/>
<rect x="286.13" y="267.20" width="16.54" height="1.05" fill="#ecf4ef"/>
<rect x="302.63" y="267.20" width="16.54" height="1.05" fill="#d7e8f2"/>
<rect x="319.12" y="267.20" width="8.30" height="1.05" fill="#deeaee"/>
<rect x="327.37" y="267.20" width="8.30" height="1.05" fill="#d5e6f0"/>
<rect x="335.62" y="267.20" width="16.54" height="1.05" fill="#d6e7f1"/>
<rect x="352.11" y="267.20" width="8.30" height="1.05" fill="#d7e8f2"/>
<rect x="360.36" y="267.20" width="8.30" height="1.05" fill="#d6e7f1"/>
<rect x="368.61" y="267.20" width="16.54" height="1.05" fill="#d7e8f2"/>
<rect x="228.40" y="268.20" width="16.54" height="1.05" fill="#f7efdb"/>
<rect x="244.89" y="268.20" width="16.54" height="1.05" fill="#f6eeda"/>
<rect x="261.39" y="268.20" width="16.54" height="1.05" fill="#f7efdb"/>
<rect x="277.88" y="268.20" width="8.30" height="1.05" fill="#f5edd9"/>
<rect x="286.13" y="268.20" width="8.30" height="1.05" fill="#eaf2ed"/>
<rect x="294.38" y="268.20" width="8.30" height="1.05" fill="#eff7f2"/>
<rect x="302.63" y="268.20" width="16.54" height="1.05" fill="#e8f0ee"/>
<rect x="319.12" y="268.20" width="8.30" height="1.05" fill="#e8eeeb"/>
<rect x="327.37" y="268.20" width="8.30" height="1.05" fill="#e8f0ee"/>
<rect x="335.62" y="268.20" width="16.54" height="1.05" fill="#e7efed"/>
<rect x="352.11" y="268.20" width="8.30" height="1.05" fill="#e8f0ee"/>
<rect x="360.36" y="268.20" width="8.30" height="1.05" fill="#e9f1ef"/>
<rect x="368.61" y="268.20" width="16.54" height="1.05" fill="#e7efed"/>
<rect x="228.40" y="269.20" width="8.30" height="1.05" fill="#f3ebd7"/>
<rect x="236.65" y="269.20" width="8.30" height="1.05" fill="#f4ecd8"/>
<rect x="244.89" y="269.20" width="8.30" height="1.05" fill="#f3ebd7"/>
<rect x="253.14" y="269.20" width="8.30" height="1.05" fill="#f4ecd8"/>
<rect x="261.39" y="269.20" width="8.30" height="1.05" fill="#f0e8d4"/>
<rect x="269.64" y="269.20" width="16.54" height="1.05" fill="#f2ead6"/>
<rect x="286.13" y="269.20" width="8.30" height="1.05" fill="#e6eee9"/>
<rect x="294.38" y="269.20" width="8.30" height="1.05" fill="#e5ede8"/>
<rect x="302.63" y="269.20" width="16.54" height="1.05" fill="#cee4f2"/>
<rect x="319.12" y="269.20" width="8.30" height="1.05" fill="#d8e8ef"/>
<rect x="327.37" y="269.20" width="8.30" height="1.05" fill="#cee4f2"/>
<rect x="335.62" y="269.20" width="24.79" height="1.05" fill="#cde3f1"/>
<rect x="360.36" y="269.20" width="8.30" height="1.05" fill="#cee4f2"/>
<rect x="368.61" y="269.20" width="8.30" height="1.05" fill="#cfe5f3"/>
<rect x="376.85" y="269.20" width="8.30" height="1.05" fill="#cee4f2"/>
<rect x="228.40" y="270.20" width="16.54" height="1.05" fill="#f6eeda"/>
<rect x="244.89" y="270.20" width="8.30" height="1.05" fill="#f4ecd8"/>
<rect x="253.14" y="270.20" width="8.30" height="1.05" fill="#f5edd9"/>
<rect x="261.39" y="270.20" width="8.30" height="1.05" fill="#f8f0dc"/>
<rect x="269.64" y="270.20" width="8.30" height="1.05" fill="#f5edd9"/>
<rect x="277.88" y="270.20" width="8.30" height="1.05" fill="#f6eeda"/>
<rect x="286.13" y="270.20" width="8.30" height="1.05" fill="#e4ece7"/>
<rect x="294.38" y="270.20" width="8.30" height="1.05" fill="#e7efea"/>
<rect x="302.63" y="270.20" width="8.30" height="1.05" fill="#cee4f2"/>
<rect x="310.87" y="270.20" width="8.30" height="1.05" fill="#cce2f0"/>
<rect x="319.12" y="270.20" width="8.30" height="1.05" fill="#d7e7ee"/>
<rect x="327.37" y="270.20" width="8.30" height="1.05" fill="#cce2f0"/>
<rect x="335.62" y="270.20" width="8.30" height="1.05" fill="#cde3f1"/>
<rect x="343.86" y="270.20" width="8.30" height="1.05" fill="#cce2f0"/>
<rect x="352.11" y="270.20" width="8.30" height="1.05" fill="#cbe1ef"/>
<rect x="360.36" y="270.20" width="16.54" height="1.05" fill="#cce2f0"/>
<rect x="376.85" y="270.20" width="8.30" height="1.05" fill="#cde3f1"/>
<rect x="228.40" y="271.20" width="8.30" height="1.05" fill="#f6eeda"/>
<rect x="236.65" y="271.20" width="8.30" height="1.05" fill="#f2ead6"/>
<rect x="244.89" y="271.20" width="8.30" height="1.05" fill="#f4ecd8"/>
<rect x="253.14" y="271.20" width="16.54" height="1.05" fill="#f3ebd7"/>
<rect x="269.64" y="271.20" width="16.54" height="1.05" fill="#f4ecd8"/>
<rect x="286.13" y="271.20" width="8.30" height="1.05" fill="#e3ebe6"/>
<rect x="294.38" y="271.20" width="8.30" height="1.05" fill="#e7efea"/>
<rect x="302.63" y="271.20" width="8.30" height="1.05" fill="#cfe5f3"/>
<rect x="310.87" y="271.20" width="8.30" height="1.05" fill="#cde3f1"/>
<rect x="319.12" y="271.20" width="8.30" height="1.05" fill="#d9e9f0"/>
<rect x="327.37" y="271.20" width="8.30" height="1.05" fill="#cbe1ef"/>
<rect x="335.62" y="271.20" width="8.30" height="1.05" fill="#cce2f0"/>
<rect x="343.86" y="271.20" width="8.30" height="1.05" fill="#cde3f1"/>
<rect x="352.11" y="271.20" width="8.30" height="1.05" fill="#cce2f0"/>
<rect x="360.36" y="271.20" width="8.30" height="1.05" fill="#cee4f2"/>
<rect x="368.61" y="271.20" width="8.30" height="1.05" fill="#cde3f1"/>
<rect x="376.85" y="271.20" width="8.30" height="1.05" fill="#cce2f0"/>
<rect x="228.40" y="272.20" width="8.30" height="1.05" fill="#e0edf6"/>
<rect x="236.65" y="272.20" width="8.30" height="1.05" fill="#bcd6ee"/>
<rect x="244.89" y="272.20" width="16.54" height="1.05" fill="#bad4ec"/>
<rect x="261.39" y="272.20" width="8.30" height="1.05" fill="#bbd5ed"/>
<rect x="269.64" y="272.20" width="16.54" height="1.05" fill="#bcd6ee"/>
<rect x="286.13" y="272.20" width="8.30" height="1.05" fill="#e5ede8"/>
<rect x="294.38" y="272.20" width="8.30" height="1.05" fill="#e6eee9"/>
<rect x="302.63" y="272.20" width="8.30" height="1.05" fill="#faefc5"/>
<rect x="310.87" y="272.20" width="8.30" height="1.05" fill="#fbf0c6"/>
<rect x="319.12" y="272.20" width="8.30" height="1.05" fill="#f3edd0"/>
<rect x="327.37" y="272.20" width="8.30" height="1.05" fill="#f8edc3"/>
<rect x="335.62" y="272.20" width="8.30" height="1.05" fill="#f9eec4"/>
<rect x="343.86" y="272.20" width="8.30" height="1.05" fill="#faefc5"/>
<rect x="352.11" y="272.20" width="16.54" height="1.05" fill="#f9eec4"/>
<rect x="368.61" y="272.20" width="16.54" height="1.05" fill="#f8edc3"/>
<rect x="228.40" y="273.20" width="8.30" height="1.05" fill="#dae7f0"/>
<rect x="236.65" y="273.20" width="8.30" height="1.05" fill="#b8d2ea"/>
<rect x="244.89" y="273.20" width="8.30" height="1.05" fill="#b6d0e8"/>
<rect x="253.14" y="273.20" width="8.30" height="1.05" fill="#b9d3eb"/>
<rect x="261.39" y="273.20" width="16.54" height="1.05" fill="#b8d2ea"/>
<rect x="277.88" y="273.20" width="8.30" height="1.05" fill="#b7d1e9"/>
<rect x="286.13" y="273.20" width="8.30" height="1.05" fill="#e4ece7"/>
<rect x="294.38" y="273.20" width="8.30" height="1.05" fill="#e7efea"/>
<rect x="302.63" y="273.20" width="8.30" height="1.05" fill="#fbf0c6"/>
<rect x="310.87" y="273.20" width="8.30" height="1.05" fill="#fcf1c7"/>
<rect x="319.12" y="273.20" width="8.30" height="1.05" fill="#f3edd0"/>
<rect x="327.37" y="273.20" width="49.53" height="1.05" fill="#faefc5"/>
<rect x="376.85" y="273.20" width="8.30" height="1.05" fill="#fbf0c6"/>
<rect x="228.40" y="274.20" width="8.30" height="1.05" fill="#d8e5ee"/>
<rect x="236.65" y="274.20" width="16.54" height="1.05" fill="#c6dcef"/>
<rect x="253.14" y="274.20" width="8.30" height="1.05" fill="#c5dbee"/>
<rect x="261.39" y="274.20" width="8.30" height="1.05" fill="#c4daed"/>
<rect x="269.64" y="274.20" width="8.30" height="1.05" fill="#c3d9ec"/>
<rect x="277.88" y="274.20" width="8.30" height="1.05" fill="#c5dbee"/>
<rect x="286.13" y="274.20" width="8.30" height="1.05" fill="#e7efea"/>
<rect x="294.38" y="274.20" width="8.30" height="1.05" fill="#edf5f0"/>
<rect x="302.63" y="274.20" width="8.30" height="1.05" fill="#fbf4d3"/>
<rect x="310.87" y="274.20" width="8.30" height="1.05" fill="#faf3d2"/>
<rect x="319.12" y="274.20" width="8.30" height="1.05" fill="#f4f1d9"/>
<rect x="327.37" y="274.20" width="8.30" height="1.05" fill="#fcf5d4"/>
<rect x="335.62" y="274.20" width="8.30" height="1.05" fill="#fdf6d5"/>
<rect x="343.86" y="274.20" width="8.30" height="1.05" fill="#fcf5d4"/>
<rect x="352.11" y="274.20" width="8.30" height="1.05" fill="#fdf6d5"/>
<rect x="360.36" y="274.20" width="8.30" height="1.05" fill="#faf3d2"/>
<rect x="368.61" y="274.20" width="8.30" height="1.05" fill="#fcf5d4"/>
<rect x="376.85" y="274.20" width="8.30" height="1.05" fill="#fdf6d5"/>
<rect x="228.40" y="275.20" width="8.30" height="1.05" fill="#d5e2eb"/>
<rect x="236.65" y="275.20" width="8.30" height="1.05" fill="#c1d7ea"/>
<rect x="244.89" y="275.20" width="8.30" height="1.05" fill="#c0d6e9"/>
<rect x="253.14" y="275.20" width="8.30" height="1.05" fill="#c3d9ec"/>
<rect x="261.39" y="275.20" width="16.54" height="1.05" fill="#c1d7ea"/>
<rect x="277.88" y="275.20" width="8.30" height="1.05" fill="#c2d8eb"/>
<rect x="286.13" y="275.20" width="8.30" height="1.05" fill="#e8f0eb"/>
<rect x="294.38" y="275.20" width="8.30" height="1.05" fill="#eaf2ed"/>
<rect x="302.63" y="275.20" width="8.30" height="1.05" fill="#fef7d6"/>
<rect x="310.87" y="275.20" width="8.30" height="1.05" fill="#fdf6d5"/>
<rect x="319.12" y="275.20" width="8.30" height="1.05" fill="#f8f5dd"/>
<rect x="327.37" y="275.20" width="8.30" height="1.05" fill="#fff9d8"/>
<rect x="335.62" y="275.20" width="8.30" height="1.05" fill="#fcf5d4"/>
<rect x="343.86" y="275.20" width="16.54" height="1.05" fill="#fdf6d5"/>
<rect x="360.36" y="275.20" width="8.30" height="1.05" fill="#fef7d6"/>
<rect x="368.61" y="275.20" width="8.30" height="1.05" fill="#fbf4d3"/>
<rect x="376.85" y="275.20" width="8.30" height="1.05" fill="#fff8d7"/>
<rect x="228.40" y="276.20" width="8.30" height="1.05" fill="#deebf4"/>
<rect x="236.65" y="276.20" width="24.79" height="1.05" fill="#d5e6f2"/>
<rect x="261.39" y="276.20" width="8.30" height="1.05" fill="#d3e4f0"/>
<rect x="269.64" y="276.20" width="16.54" height="1.05" fill="#d5e6f2"/>
<rect x="286.13" y="276.20" width="8.30" height="1.05" fill="#e4ece7"/>
<rect x="294.38" y="276.20" width="8.30" height="1.05" fill="#e8f0eb"/>
<rect x="302.63" y="276.20" width="16.54" height="1.05" fill="#fbf7e3"/>
<rect x="319.12" y="276.20" width="8.30" height="1.05" fill="#f6f4e5"/>
<rect x="327.37" y="276.20" width="8.30" height="1.05" fill="#fdf9e5"/>
<rect x="335.62" y="276.20" width="24.79" height="1.05" fill="#fbf7e3"/>
<rect x="360.36" y="276.20" width="8.30" height="1.05" fill="#fcf8e4"/>
<rect x="368.61" y="276.20" width="16.54" height="1.05" fill="#fbf7e3"/>
<rect x="228.40" y="277.20" width="8.30" height="1.05" fill="#d7e4ed"/>
<rect x="236.65" y="277.20" width="16.54" height="1.05" fill="#c2d8eb"/>
<rect x="253.14" y="277.20" width="8.30" height="1.05" fill="#c4daed"/>
<rect x="261.39" y="277.20" width="24.79" height="1.05" fill="#c2d8eb"/>
<rect x="286.13" y="277.20" width="8.30" height="1.05" fill="#e8f0eb"/>
<rect x="294.38" y="277.20" width="8.30" height="1.05" fill="#eaf2ed"/>
<rect x="302.63" y="277.20" width="16.54" height="1.05" fill="#fef7d6"/>
<rect x="319.12" y="277.20" width="8.30" height="1.05" fill="#f6f3db"/>
<rect x="327.37" y="277.20" width="8.30" height="1.05" fill="#fcf5d4"/>
<rect x="335.62" y="277.20" width="8.30" height="1.05" fill="#fdf6d5"/>
<rect x="343.86" y="277.20" width="8.30" height="1.05" fill="#fcf5d4"/>
<rect x="352.11" y="277.20" width="8.30" height="1.05" fill="#fdf6d5"/>
<rect x="360.36" y="277.20" width="8.30" height="1.05" fill="#fbf4d3"/>
<rect x="368.61" y="277.20" width="8.30" height="1.05" fill="#fcf5d4"/>
<rect x="376.85" y="277.20" width="8.30" height="1.05" fill="#fdf6d5"/>
<rect x="228.40" y="278.20" width="8.30" height="1.05" fill="#d8e5ee"/>
<rect x="236.65" y="278.20" width="8.30" height="1.05" fill="#b8d2ea"/>
<rect x="244.89" y="278.20" width="8.30" height="1.05" fill="#b9d3eb"/>
<rect x="253.14" y="278.20" width="8.30" height="1.05" fill="#bad4ec"/>
<rect x="261.39" y="278.20" width="8.30" height="1.05" fill="#b8d2ea"/>
<rect x="269.64" y="278.20" width="8.30" height="1.05" fill="#b9d3eb"/>
<rect x="277.88" y="278.20" width="8.30" height="1.05" fill="#bcd6ee"/>
<rect x="286.13" y="278.20" width="8.30" height="1.05" fill="#e6eee9"/>
<rect x="294.38" y="278.20" width="8.30" height="1.05" fill="#e8f0eb"/>
<rect x="302.63" y="278.20" width="8.30" height="1.05" fill="#fbf0c6"/>
<rect x="310.87" y="278.20" width="8.30" height="1.05" fill="#fcf1c7"/>
<rect x="319.12" y="278.20" width="8.30" height="1.05" fill="#f4eed1"/>
<rect x="327.37" y="278.20" width="8.30" height="1.05" fill="#fcf1c7"/>
<rect x="335.62" y="278.20" width="8.30" height="1.05" fill="#fbf0c6"/>
<rect x="343.86" y="278.20" width="24.79" height="1.05" fill="#faefc5"/>
<rect x="368.61" y="278.20" width="8.30" height="1.05" fill="#fbf0c6"/>
<rect x="376.85" y="278.20" width="8.30" height="1.05" fill="#fcf1c7"/>
<rect x="228.40" y="279.20" width="8.30" height="1.05" fill="#d7e4ed"/>
<rect x="236.65" y="279.20" width="8.30" height="1.05" fill="#c3d9ec"/>
<rect x="244.89" y="279.20" width="8.30" height="1.05" fill="#c2d8eb"/>
<rect x="253.14" y="279.20" width="8.30" height="1.05" fill="#C4DBEE"/>
<rect x="261.39" y="279.20" width="8.30" height="1.05" fill="#c3d9ec"/>
<rect x="269.64" y="279.20" width="8.30" height="1.05" fill="#c1d7ea"/>
<rect x="277.88" y="279.20" width="8.30" height="1.05" fill="#c5dbee"/>
<rect x="286.13" y="279.20" width="8.30" height="1.05" fill="#e6eee9"/>
<rect x="294.38" y="279.20" width="8.30" height="1.05" fill="#eef6f1"/>
<rect x="302.63" y="279.20" width="8.30" height="1.05" fill="#fef7d6"/>
<rect x="310.87" y="279.20" width="8.30" height="1.05" fill="#fdf6d5"/>
<rect x="319.12" y="279.20" width="8.30" height="1.05" fill="#f7f4dc"/>
<rect x="327.37" y="279.20" width="8.30" height="1.05" fill="#fef7d6"/>
<rect x="335.62" y="279.20" width="8.30" height="1.05" fill="#fdf6d5"/>
<rect x="343.86" y="279.20" width="8.30" height="1.05" fill="#fef7d6"/>
<rect x="352.11" y="279.20" width="16.54" height="1.05" fill="#fdf6d5"/>
<rect x="368.61" y="279.20" width="16.54" height="1.05" fill="#fcf5d4"/>
<rect x="228.40" y="280.20" width="8.30" height="1.05" fill="#dae7f0"/>
<rect x="236.65" y="280.20" width="8.30" height="1.05" fill="#c7ddf0"/>
<rect x="244.89" y="280.20" width="8.30" height="1.05" fill="#c6dcef"/>
<rect x="253.14" y="280.20" width="8.30" height="1.05" fill="#C4DBEE"/>
<rect x="261.39" y="280.20" width="16.54" height="1.05" fill="#c6dcef"/>
<rect x="277.88" y="280.20" width="8.30" height="1.05" fill="#c8def1"/>
<rect x="286.13" y="280.20" width="8.30" height="1.05" fill="#e8f0eb"/>
<rect x="294.38" y="280.20" width="8.30" height="1.05" fill="#eff7f2"/>
<rect x="302.63" y="280.20" width="8.30" height="1.05" fill="#fdf6d5"/>
<rect x="310.87" y="280.20" width="8.30" height="1.05" fill="#faf3d2"/>
<rect x="319.12" y="280.20" width="8.30" height="1.05" fill="#f6f3db"/>
<rect x="327.37" y="280.20" width="8.30" height="1.05" fill="#fdf6d5"/>
<rect x="335.62" y="280.20" width="8.30" height="1.05" fill="#f9f2d1"/>
<rect x="343.86" y="280.20" width="8.30" height="1.05" fill="#fcf5d4"/>
<rect x="352.11" y="280.20" width="8.30" height="1.05" fill="#faf3d2"/>
<rect x="360.36" y="280.20" width="16.54" height="1.05" fill="#fbf4d3"/>
<rect x="376.85" y="280.20" width="8.30" height="1.05" fill="#fdf6d5"/>
<rect x="228.40" y="281.20" width="8.30" height="1.05" fill="#d9e6ef"/>
<rect x="236.65" y="281.20" width="24.79" height="1.05" fill="#b5cfe7"/>
<rect x="261.39" y="281.20" width="8.30" height="1.05" fill="#b6d0e8"/>
<rect x="269.64" y="281.20" width="8.30" height="1.05" fill="#b4cee6"/>
<rect x="277.88" y="281.20" width="8.30" height="1.05" fill="#b6d0e8"/>
<rect x="286.13" y="281.20" width="8.30" height="1.05" fill="#e7efea"/>
<rect x="294.38" y="281.20" width="8.30" height="1.05" fill="#e8f0eb"/>
<rect x="302.63" y="281.20" width="8.30" height="1.05" fill="#fef3c9"/>
<rect x="310.87" y="281.20" width="8.30" height="1.05" fill="#fbf0c6"/>
<rect x="319.12" y="281.20" width="8.30" height="1.05" fill="#f6f0d3"/>
<rect x="327.37" y="281.20" width="8.30" height="1.05" fill="#fbf0c6"/>
<rect x="335.62" y="281.20" width="8.30" height="1.05" fill="#f9eec4"/>
<rect x="343.86" y="281.20" width="8.30" height="1.05" fill="#faefc5"/>
<rect x="352.11" y="281.20" width="8.30" height="1.05" fill="#fdf2c8"/>
<rect x="360.36" y="281.20" width="8.30" height="1.05" fill="#fbf0c6"/>
<rect x="368.61" y="281.20" width="8.30" height="1.05" fill="#faefc5"/>
<rect x="376.85" y="281.20" width="8.30" height="1.05" fill="#fcf1c7"/>
<rect x="228.40" y="282.20" width="8.30" height="1.05" fill="#d7e4ed"/>
<rect x="236.65" y="282.20" width="8.30" height="1.05" fill="#c3d9ec"/>
<rect x="244.89" y="282.20" width="8.30" height="1.05" fill="#c2d8eb"/>
<rect x="253.14" y="282.20" width="8.30" height="1.05" fill="#c8def1"/>
<rect x="261.39" y="282.20" width="8.30" height="1.05" fill="#c2d8eb"/>
<rect x="269.64" y="282.20" width="8.30" height="1.05" fill="#c6dcef"/>
<rect x="277.88" y="282.20" width="8.30" height="1.05" fill="#c3d9ec"/>
<rect x="286.13" y="282.20" width="8.30" height="1.05" fill="#e9f1ec"/>
<rect x="294.38" y="282.20" width="8.30" height="1.05" fill="#ebf3ee"/>
<rect x="302.63" y="282.20" width="8.30" height="1.05" fill="#fbf4d3"/>
<rect x="310.87" y="282.20" width="8.30" height="1.05" fill="#fef7d6"/>
<rect x="319.12" y="282.20" width="8.30" height="1.05" fill="#f6f3db"/>
<rect x="327.37" y="282.20" width="8.30" height="1.05" fill="#fcf5d4"/>
<rect x="335.62" y="282.20" width="33.04" height="1.05" fill="#fdf6d5"/>
<rect x="368.61" y="282.20" width="16.54" height="1.05" fill="#fcf5d4"/>
<rect x="228.40" y="283.20" width="8.30" height="1.05" fill="#ddeaf3"/>
<rect x="236.65" y="283.20" width="8.30" height="1.05" fill="#c8def1"/>
<rect x="244.89" y="283.20" width="8.30" height="1.05" fill="#c6dcef"/>
<rect x="253.14" y="283.20" width="8.30" height="1.05" fill="#c9dff2"/>
<rect x="261.39" y="283.20" width="8.30" height="1.05" fill="#c6dcef"/>
<rect x="269.64" y="283.20" width="8.30" height="1.05" fill="#c7ddf0"/>
<rect x="277.88" y="283.20" width="8.30" height="1.05" fill="#c6dcef"/>
<rect x="286.13" y="283.20" width="8.30" height="1.05" fill="#e6eee9"/>
<rect x="294.38" y="283.20" width="8.30" height="1.05" fill="#ecf4ef"/>
<rect x="302.63" y="283.20" width="8.30" height="1.05" fill="#f9f2d1"/>
<rect x="310.87" y="283.20" width="8.30" height="1.05" fill="#fcf5d4"/>
<rect x="319.12" y="283.20" width="8.30" height="1.05" fill="#f3f0d8"/>
<rect x="327.37" y="283.20" width="8.30" height="1.05" fill="#fbf4d3"/>
<rect x="335.62" y="283.20" width="16.54" height="1.05" fill="#faf3d2"/>
<rect x="352.11" y="283.20" width="8.30" height="1.05" fill="#fbf4d3"/>
<rect x="360.36" y="283.20" width="8.30" height="1.05" fill="#fcf5d4"/>
<rect x="368.61" y="283.20" width="16.54" height="1.05" fill="#faf3d2"/>
<rect x="228.40" y="284.20" width="8.30" height="1.05" fill="#dbe8f1"/>
<rect x="236.65" y="284.20" width="8.30" height="1.05" fill="#b6d0e8"/>
<rect x="244.89" y="284.20" width="8.30" height="1.05" fill="#b9d3eb"/>
<rect x="253.14" y="284.20" width="16.54" height="1.05" fill="#b7d1e9"/>
<rect x="269.64" y="284.20" width="8.30" height="1.05" fill="#C4DBEE"/>
<rect x="277.88" y="284.20" width="8.30" height="1.05" fill="#b9d3eb"/>
<rect x="286.13" y="284.20" width="8.30" height="1.05" fill="#e6eee9"/>
<rect x="294.38" y="284.20" width="8.30" height="1.05" fill="#eaf2ed"/>
<rect x="302.63" y="284.20" width="16.54" height="1.05" fill="#fcf1c7"/>
<rect x="319.12" y="284.20" width="8.30" height="1.05" fill="#f6f0d3"/>
<rect x="327.37" y="284.20" width="8.30" height="1.05" fill="#f9eec4"/>
<rect x="335.62" y="284.20" width="24.79" height="1.05" fill="#faefc5"/>
<rect x="360.36" y="284.20" width="8.30" height="1.05" fill="#fbf0c6"/>
<rect x="368.61" y="284.20" width="16.54" height="1.05" fill="#fcf1c7"/>
<rect x="228.40" y="285.20" width="8.30" height="1.05" fill="#d9e6ef"/>
<rect x="236.65" y="285.20" width="8.30" height="1.05" fill="#c6dcef"/>
<rect x="244.89" y="285.20" width="8.30" height="1.05" fill="#c3d9ec"/>
<rect x="253.14" y="285.20" width="8.30" height="1.05" fill="#c4daed"/>
<rect x="261.39" y="285.20" width="8.30" height="1.05" fill="#c5dbee"/>
<rect x="269.64" y="285.20" width="8.30" height="1.05" fill="#C4DBEE"/>
<rect x="277.88" y="285.20" width="8.30" height="1.05" fill="#c4daed"/>
<rect x="286.13" y="285.20" width="8.30" height="1.05" fill="#e7efea"/>
<rect x="294.38" y="285.20" width="8.30" height="1.05" fill="#edf5f0"/>
<rect x="302.63" y="285.20" width="8.30" height="1.05" fill="#faf3d2"/>
<rect x="310.87" y="285.20" width="8.30" height="1.05" fill="#fcf5d4"/>
<rect x="319.12" y="285.20" width="8.30" height="1.05" fill="#f6f3db"/>
<rect x="327.37" y="285.20" width="8.30" height="1.05" fill="#fbf4d3"/>
<rect x="335.62" y="285.20" width="8.30" height="1.05" fill="#faf3d2"/>
<rect x="343.86" y="285.20" width="24.79" height="1.05" fill="#fbf4d3"/>
<rect x="368.61" y="285.20" width="8.30" height="1.05" fill="#fcf5d4"/>
<rect x="376.85" y="285.20" width="8.30" height="1.05" fill="#fef7d6"/>
<rect x="228.40" y="286.20" width="8.30" height="1.05" fill="#ddeaf3"/>
<rect x="236.65" y="286.20" width="8.30" height="1.05" fill="#c7ddf0"/>
<rect x="244.89" y="286.20" width="16.54" height="1.05" fill="#c8def1"/>
<rect x="261.39" y="286.20" width="8.30" height="1.05" fill="#c9dff2"/>
<rect x="269.64" y="286.20" width="16.54" height="1.05" fill="#c8def1"/>
<rect x="286.13" y="286.20" width="8.30" height="1.05" fill="#eaf2ed"/>
<rect x="294.38" y="286.20" width="8.30" height="1.05" fill="#eef6f1"/>
<rect x="302.63" y="286.20" width="8.30" height="1.05" fill="#faf3d2"/>
<rect x="310.87" y="286.20" width="8.30" height="1.05" fill="#fbf4d3"/>
<rect x="319.12" y="286.20" width="8.30" height="1.05" fill="#f5f2da"/>
<rect x="327.37" y="286.20" width="8.30" height="1.05" fill="#f7f0cf"/>
<rect x="335.62" y="286.20" width="8.30" height="1.05" fill="#faf3d2"/>
<rect x="343.86" y="286.20" width="8.30" height="1.05" fill="#fcf5d4"/>
<rect x="352.11" y="286.20" width="8.30" height="1.05" fill="#f7f0cf"/>
<rect x="360.36" y="286.20" width="8.30" height="1.05" fill="#fcf5d4"/>
<rect x="368.61" y="286.20" width="8.30" height="1.05" fill="#f8f1d0"/>
<rect x="376.85" y="286.20" width="8.30" height="1.05" fill="#f9f2d1"/>
<rect x="228.40" y="287.20" width="8.30" height="1.05" fill="#d9e6ef"/>
<rect x="236.65" y="287.20" width="16.54" height="1.05" fill="#c5dbee"/>
<rect x="253.14" y="287.20" width="8.30" height="1.05" fill="#c9dff2"/>
<rect x="261.39" y="287.20" width="16.54" height="1.05" fill="#c7ddf0"/>
<rect x="277.88" y="287.20" width="8.30" height="1.05" fill="#c5dbee"/>
<rect x="286.13" y="287.20" width="8.30" height="1.05" fill="#ebf3ee"/>
<rect x="294.38" y="287.20" width="8.30" height="1.05" fill="#ecf4ef"/>
<rect x="302.63" y="287.20" width="8.30" height="1.05" fill="#fdf6d5"/>
<rect x="310.87" y="287.20" width="8.30" height="1.05" fill="#fbf4d3"/>
<rect x="319.12" y="287.20" width="8.30" height="1.05" fill="#f5f2da"/>
<rect x="327.37" y="287.20" width="24.79" height="1.05" fill="#faf3d2"/>
<rect x="352.11" y="287.20" width="16.54" height="1.05" fill="#fbf4d3"/>
<rect x="368.61" y="287.20" width="16.54" height="1.05" fill="#fdf6d5"/>
<rect x="228.40" y="288.20" width="8.30" height="1.05" fill="#d6e3ec"/>
<rect x="236.65" y="288.20" width="16.54" height="1.05" fill="#c6dcef"/>
<rect x="253.14" y="288.20" width="8.30" height="1.05" fill="#c4daed"/>
<rect x="261.39" y="288.20" width="16.54" height="1.05" fill="#c5dbee"/>
<rect x="277.88" y="288.20" width="8.30" height="1.05" fill="#c7ddf0"/>
<rect x="286.13" y="288.20" width="8.30" height="1.05" fill="#e9f1ec"/>
<rect x="294.38" y="288.20" width="8.30" height="1.05" fill="#e8f0eb"/>
<rect x="302.63" y="288.20" width="8.30" height="1.05" fill="#fbf4d3"/>
<rect x="310.87" y="288.20" width="8.30" height="1.05" fill="#fcf5d4"/>
<rect x="319.12" y="288.20" width="8.30" height="1.05" fill="#f5f2da"/>
<rect x="327.37" y="288.20" width="8.30" height="1.05" fill="#fcf5d4"/>
<rect x="335.62" y="288.20" width="8.30" height="1.05" fill="#fbf4d3"/>
<rect x="343.86" y="288.20" width="16.54" height="1.05" fill="#fdf6d5"/>
<rect x="360.36" y="288.20" width="8.30" height="1.05" fill="#fbf4d3"/>
<rect x="368.61" y="288.20" width="16.54" height="1.05" fill="#fdf6d5"/>
<rect x="228.40" y="289.20" width="8.30" height="1.05" fill="#dae7f0"/>
<rect x="236.65" y="289.20" width="16.54" height="1.05" fill="#d5e6f2"/>
<rect x="253.14" y="289.20" width="16.54" height="1.05" fill="#d4e5f1"/>
<rect x="269.64" y="289.20" width="8.30" height="1.05" fill="#d3e4f0"/>
<rect x="277.88" y="289.20" width="8.30" height="1.05" fill="#d5e6f2"/>
<rect x="286.13" y="289.20" width="8.30" height="1.05" fill="#eaf2ed"/>
<rect x="294.38" y="289.20" width="8.30" height="1.05" fill="#e9f1ec"/>
<rect x="302.63" y="289.20" width="8.30" height="1.05" fill="#fcf8e4"/>
<rect x="310.87" y="289.20" width="8.30" height="1.05" fill="#fbf7e3"/>
<rect x="319.12" y="289.20" width="8.30" height="1.05" fill="#f6f4e5"/>
<rect x="327.37" y="289.20" width="8.30" height="1.05" fill="#fbf7e3"/>
<rect x="335.62" y="289.20" width="8.30" height="1.05" fill="#fcf8e4"/>
<rect x="343.86" y="289.20" width="8.30" height="1.05" fill="#fdf9e5"/>
<rect x="352.11" y="289.20" width="16.54" height="1.05" fill="#fbf7e3"/>
<rect x="368.61" y="289.20" width="8.30" height="1.05" fill="#fdf9e5"/>
<rect x="376.85" y="289.20" width="8.30" height="1.05" fill="#fbf7e3"/>
<rect x="228.40" y="290.20" width="8.30" height="1.05" fill="#d4e1ea"/>
<rect x="236.65" y="290.20" width="8.30" height="1.05" fill="#c2d8eb"/>
<rect x="244.89" y="290.20" width="16.54" height="1.05" fill="#c3d9ec"/>
<rect x="261.39" y="290.20" width="16.54" height="1.05" fill="#c5dbee"/>
<rect x="277.88" y="290.20" width="8.30" height="1.05" fill="#c3d9ec"/>
<rect x="286.13" y="290.20" width="8.30" height="1.05" fill="#e8f0eb"/>
<rect x="294.38" y="290.20" width="8.30" height="1.05" fill="#eef6f1"/>
<rect x="302.63" y="290.20" width="16.54" height="1.05" fill="#fcf5d4"/>
<rect x="319.12" y="290.20" width="8.30" height="1.05" fill="#f6f3db"/>
<rect x="327.37" y="290.20" width="8.30" height="1.05" fill="#fbf4d3"/>
<rect x="335.62" y="290.20" width="8.30" height="1.05" fill="#fdf6d5"/>
<rect x="343.86" y="290.20" width="8.30" height="1.05" fill="#fbf4d3"/>
<rect x="352.11" y="290.20" width="8.30" height="1.05" fill="#fdf6d5"/>
<rect x="360.36" y="290.20" width="8.30" height="1.05" fill="#fcf5d4"/>
<rect x="368.61" y="290.20" width="16.54" height="1.05" fill="#fdf6d5"/>
<rect x="228.40" y="291.20" width="8.30" height="1.05" fill="#dfecf5"/>
<rect x="236.65" y="291.20" width="8.30" height="1.05" fill="#e0ecf1"/>
<rect x="244.89" y="291.20" width="8.30" height="1.05" fill="#e1edf2"/>
<rect x="253.14" y="291.20" width="8.30" height="1.05" fill="#e3eff4"/>
<rect x="261.39" y="291.20" width="8.30" height="1.05" fill="#dfebf0"/>
<rect x="269.64" y="291.20" width="8.30" height="1.05" fill="#e1edf2"/>
<rect x="277.88" y="291.20" width="8.30" height="1.05" fill="#e2eef3"/>
<rect x="286.13" y="291.20" width="8.30" height="1.05" fill="#e7efea"/>
<rect x="294.38" y="291.20" width="8.30" height="1.05" fill="#ebf3ee"/>
<rect x="302.63" y="291.20" width="8.30" height="1.05" fill="#eff2eb"/>
<rect x="310.87" y="291.20" width="8.30" height="1.05" fill="#f0f3ec"/>
<rect x="319.12" y="291.20" width="8.30" height="1.05" fill="#edf0ea"/>
<rect x="327.37" y="291.20" width="8.30" height="1.05" fill="#eff2eb"/>
<rect x="335.62" y="291.20" width="16.54" height="1.05" fill="#eef1ea"/>
<rect x="352.11" y="291.20" width="8.30" height="1.05" fill="#f1f4ed"/>
<rect x="360.36" y="291.20" width="8.30" height="1.05" fill="#edf0e9"/>
<rect x="368.61" y="291.20" width="16.54" height="1.05" fill="#eef1ea"/>
<rect x="228.40" y="292.20" width="8.30" height="1.05" fill="#d9e6ef"/>
<rect x="236.65" y="292.20" width="8.30" height="1.05" fill="#d2e3ef"/>
<rect x="244.89" y="292.20" width="8.30" height="1.05" fill="#d5e6f2"/>
<rect x="253.14" y="292.20" width="8.30" height="1.05" fill="#d4e5f1"/>
<rect x="261.39" y="292.20" width="8.30" height="1.05" fill="#d2e3ef"/>
<rect x="269.64" y="292.20" width="8.30" height="1.05" fill="#d4e5f1"/>
<rect x="277.88" y="292.20" width="8.30" height="1.05" fill="#d3e4f0"/>
<rect x="286.13" y="292.20" width="8.30" height="1.05" fill="#e9f1ec"/>
<rect x="294.38" y="292.20" width="8.30" height="1.05" fill="#edf5f0"/>
<rect x="302.63" y="292.20" width="16.54" height="1.05" fill="#fcf8e4"/>
<rect x="319.12" y="292.20" width="8.30" height="1.05" fill="#f6f4e5"/>
<rect x="327.37" y="292.20" width="8.30" height="1.05" fill="#fdf9e5"/>
<rect x="335.62" y="292.20" width="8.30" height="1.05" fill="#faf6e2"/>
<rect x="343.86" y="292.20" width="8.30" height="1.05" fill="#fdf9e5"/>
<rect x="352.11" y="292.20" width="16.54" height="1.05" fill="#fcf8e4"/>
<rect x="368.61" y="292.20" width="8.30" height="1.05" fill="#fdf9e5"/>
<rect x="376.85" y="292.20" width="8.30" height="1.05" fill="#fcf8e4"/>
<rect x="228.40" y="293.20" width="8.30" height="1.05" fill="#d8e5ee"/>
<rect x="236.65" y="293.20" width="8.30" height="1.05" fill="#b7d1e9"/>
<rect x="244.89" y="293.20" width="8.30" height="1.05" fill="#b8d2ea"/>
<rect x="253.14" y="293.20" width="8.30" height="1.05" fill="#b7d1e9"/>
<rect x="261.39" y="293.20" width="8.30" height="1.05" fill="#b8d2ea"/>
<rect x="269.64" y="293.20" width="8.30" height="1.05" fill="#bad4ec"/>
<rect x="277.88" y="293.20" width="8.30" height="1.05" fill="#b7d1e9"/>
<rect x="286.13" y="293.20" width="8.30" height="1.05" fill="#e6eee9"/>
<rect x="294.38" y="293.20" width="8.30" height="1.05" fill="#e9f1ec"/>
<rect x="302.63" y="293.20" width="8.30" height="1.05" fill="#fbf0c6"/>
<rect x="310.87" y="293.20" width="8.30" height="1.05" fill="#faefc5"/>
<rect x="319.12" y="293.20" width="8.30" height="1.05" fill="#f5efd2"/>
<rect x="327.37" y="293.20" width="8.30" height="1.05" fill="#f9eec4"/>
<rect x="335.62" y="293.20" width="8.30" height="1.05" fill="#fcf1c7"/>
<rect x="343.86" y="293.20" width="8.30" height="1.05" fill="#fdf2c8"/>
<rect x="352.11" y="293.20" width="8.30" height="1.05" fill="#fbf0c6"/>
<rect x="360.36" y="293.20" width="8.30" height="1.05" fill="#fcf1c7"/>
<rect x="368.61" y="293.20" width="8.30" height="1.05" fill="#fbf0c6"/>
<rect x="376.85" y="293.20" width="8.30" height="1.05" fill="#f9eec4"/>
<rect x="228.40" y="294.20" width="8.30" height="1.05" fill="#dae7f0"/>
<rect x="236.65" y="294.20" width="8.30" height="1.05" fill="#b7d1e9"/>
<rect x="244.89" y="294.20" width="8.30" height="1.05" fill="#b9d3eb"/>
<rect x="253.14" y="294.20" width="8.30" height="1.05" fill="#b8d2ea"/>
<rect x="261.39" y="294.20" width="8.30" height="1.05" fill="#b7d1e9"/>
<rect x="269.64" y="294.20" width="8.30" height="1.05" fill="#bad4ec"/>
<rect x="277.88" y="294.20" width="8.30" height="1.05" fill="#b6d0e8"/>
<rect x="286.13" y="294.20" width="8.30" height="1.05" fill="#e6eee9"/>
<rect x="294.38" y="294.20" width="8.30" height="1.05" fill="#e8f0eb"/>
<rect x="302.63" y="294.20" width="16.54" height="1.05" fill="#fcf1c7"/>
<rect x="319.12" y="294.20" width="8.30" height="1.05" fill="#f6f0d3"/>
<rect x="327.37" y="294.20" width="8.30" height="1.05" fill="#fdf2c8"/>
<rect x="335.62" y="294.20" width="24.79" height="1.05" fill="#faefc5"/>
<rect x="360.36" y="294.20" width="8.30" height="1.05" fill="#fbf0c6"/>
<rect x="368.61" y="294.20" width="8.30" height="1.05" fill="#fcf1c7"/>
<rect x="376.85" y="294.20" width="8.30" height="1.05" fill="#fbf0c6"/>
<rect x="228.40" y="295.20" width="8.30" height="1.05" fill="#ddeaf3"/>
<rect x="236.65" y="295.20" width="8.30" height="1.05" fill="#b9d3eb"/>
<rect x="244.89" y="295.20" width="8.30" height="1.05" fill="#b5cfe7"/>
<rect x="253.14" y="295.20" width="8.30" height="1.05" fill="#b9d3eb"/>
<rect x="261.39" y="295.20" width="8.30" height="1.05" fill="#b7d1e9"/>
<rect x="269.64" y="295.20" width="8.30" height="1.05" fill="#b9d3eb"/>
<rect x="277.88" y="295.20" width="8.30" height="1.05" fill="#b7d1e9"/>
<rect x="286.13" y="295.20" width="8.30" height="1.05" fill="#e5ede8"/>
<rect x="294.38" y="295.20" width="8.30" height="1.05" fill="#eaf2ed"/>
<rect x="302.63" y="295.20" width="8.30" height="1.05" fill="#fcf1c7"/>
<rect x="310.87" y="295.20" width="8.30" height="1.05" fill="#faefc5"/>
<rect x="319.12" y="295.20" width="8.30" height="1.05" fill="#f6f0d3"/>
<rect x="327.37" y="295.20" width="8.30" height="1.05" fill="#fbf0c6"/>
<rect x="335.62" y="295.20" width="8.30" height="1.05" fill="#fcf1c7"/>
<rect x="343.86" y="295.20" width="8.30" height="1.05" fill="#fbf0c6"/>
<rect x="352.11" y="295.20" width="8.30" height="1.05" fill="#faefc5"/>
<rect x="360.36" y="295.20" width="8.30" height="1.05" fill="#fbf0c6"/>
<rect x="368.61" y="295.20" width="16.54" height="1.05" fill="#faefc5"/>
<rect x="228.40" y="296.20" width="8.30" height="1.05" fill="#d6e3ec"/>
<rect x="236.65" y="296.20" width="8.30" height="1.05" fill="#d0e1ed"/>
<rect x="244.89" y="296.20" width="8.30" height="1.05" fill="#cedfeb"/>
<rect x="253.14" y="296.20" width="8.30" height="1.05" fill="#d0e1ed"/>
<rect x="261.39" y="296.20" width="16.54" height="1.05" fill="#cfe0ec"/>
<rect x="277.88" y="296.20" width="8.30" height="1.05" fill="#d0e1ed"/>
<rect x="286.13" y="296.20" width="8.30" height="1.05" fill="#e9f1ec"/>
<rect x="294.38" y="296.20" width="8.30" height="1.05" fill="#f0f8f3"/>
<rect x="302.63" y="296.20" width="8.30" height="1.05" fill="#fefae6"/>
<rect x="310.87" y="296.20" width="8.30" height="1.05" fill="#fffce8"/>
<rect x="319.12" y="296.20" width="8.30" height="1.05" fill="#f9f7e8"/>
<rect x="327.37" y="296.20" width="8.30" height="1.05" fill="#fdf9e5"/>
<rect x="335.62" y="296.20" width="8.30" height="1.05" fill="#fffbe7"/>
<rect x="343.86" y="296.20" width="8.30" height="1.05" fill="#fefae6"/>
<rect x="352.11" y="296.20" width="24.79" height="1.05" fill="#fdf9e5"/>
<rect x="376.85" y="296.20" width="8.30" height="1.05" fill="#fffbe7"/>
<rect x="228.40" y="297.20" width="8.30" height="1.05" fill="#fff7db"/>
<rect x="236.65" y="297.20" width="8.30" height="1.05" fill="#fff6da"/>
<rect x="244.89" y="297.20" width="8.30" height="1.05" fill="#F6D3A6"/>
<rect x="253.14" y="297.20" width="8.30" height="1.05" fill="#fef5d9"/>
<rect x="261.39" y="297.20" width="16.54" height="1.05" fill="#fff7db"/>
<rect x="277.88" y="297.20" width="8.30" height="1.05" fill="#fef5d9"/>
<rect x="286.13" y="297.20" width="8.30" height="1.05" fill="#eaf2ed"/>
<rect x="294.38" y="297.20" width="8.30" height="1.05" fill="#e9f1ec"/>
<rect x="302.63" y="297.20" width="8.30" height="1.05" fill="#e0ecf1"/>
<rect x="310.87" y="297.20" width="8.30" height="1.05" fill="#e2eef3"/>
<rect x="319.12" y="297.20" width="8.30" height="1.05" fill="#e7f0f1"/>
<rect x="327.37" y="297.20" width="8.30" height="1.05" fill="#e1edf2"/>
<rect x="335.62" y="297.20" width="8.30" height="1.05" fill="#e2eef3"/>
<rect x="343.86" y="297.20" width="8.30" height="1.05" fill="#e3eff4"/>
<rect x="352.11" y="297.20" width="24.79" height="1.05" fill="#e1edf2"/>
<rect x="376.85" y="297.20" width="8.30" height="1.05" fill="#e0ecf1"/>
<rect x="228.40" y="298.20" width="8.30" height="1.05" fill="#f8deac"/>
<rect x="236.65" y="298.20" width="8.30" height="1.05" fill="#fce2b0"/>
<rect x="244.89" y="298.20" width="8.30" height="1.05" fill="#fbe1af"/>
<rect x="253.14" y="298.20" width="8.30" height="1.05" fill="#f9dfad"/>
<rect x="261.39" y="298.20" width="8.30" height="1.05" fill="#fce2b0"/>
<rect x="269.64" y="298.20" width="8.30" height="1.05" fill="#f9dfad"/>
<rect x="277.88" y="298.20" width="8.30" height="1.05" fill="#fbe1af"/>
<rect x="286.13" y="298.20" width="8.30" height="1.05" fill="#e4ece7"/>
<rect x="294.38" y="298.20" width="8.30" height="1.05" fill="#e9f1ec"/>
<rect x="302.63" y="298.20" width="8.30" height="1.05" fill="#cce2f0"/>
<rect x="310.87" y="298.20" width="8.30" height="1.05" fill="#cde3f1"/>
<rect x="319.12" y="298.20" width="8.30" height="1.05" fill="#d6e6ed"/>
<rect x="327.37" y="298.20" width="24.79" height="1.05" fill="#cce2f0"/>
<rect x="352.11" y="298.20" width="8.30" height="1.05" fill="#cde3f1"/>
<rect x="360.36" y="298.20" width="8.30" height="1.05" fill="#cbe1ef"/>
<rect x="368.61" y="298.20" width="16.54" height="1.05" fill="#cde3f1"/>
<rect x="228.40" y="299.20" width="8.30" height="1.05" fill="#f9dfad"/>
<rect x="236.65" y="299.20" width="8.30" height="1.05" fill="#F2BE92"/>
<rect x="244.89" y="299.20" width="8.30" height="1.05" fill="#f9dfad"/>
<rect x="253.14" y="299.20" width="33.04" height="1.05" fill="#fae0ae"/>
<rect x="286.13" y="299.20" width="8.30" height="1.05" fill="#e3ebe6"/>
<rect x="294.38" y="299.20" width="8.30" height="1.05" fill="#e4ece7"/>
<rect x="302.63" y="299.20" width="16.54" height="1.05" fill="#cce2f0"/>
<rect x="319.12" y="299.20" width="8.30" height="1.05" fill="#d5e5ec"/>
<rect x="327.37" y="299.20" width="8.30" height="1.05" fill="#cce2f0"/>
<rect x="335.62" y="299.20" width="8.30" height="1.05" fill="#cbe1ef"/>
<rect x="343.86" y="299.20" width="8.30" height="1.05" fill="#cde3f1"/>
<rect x="352.11" y="299.20" width="8.30" height="1.05" fill="#cee4f2"/>
<rect x="360.36" y="299.20" width="8.30" height="1.05" fill="#cce2f0"/>
<rect x="368.61" y="299.20" width="8.30" height="1.05" fill="#cbe1ef"/>
<rect x="376.85" y="299.20" width="8.30" height="1.05" fill="#cce2f0"/>
<rect x="228.40" y="300.20" width="8.30" height="1.05" fill="#f9dfad"/>
<rect x="236.65" y="300.20" width="8.30" height="1.05" fill="#F2BE92"/>
<rect x="244.89" y="300.20" width="16.54" height="1.05" fill="#fae0ae"/>
<rect x="261.39" y="300.20" width="8.30" height="1.05" fill="#f9dfad"/>
<rect x="269.64" y="300.20" width="8.30" height="1.05" fill="#f8deac"/>
<rect x="277.88" y="300.20" width="8.30" height="1.05" fill="#fae0ae"/>
<rect x="286.13" y="300.20" width="8.30" height="1.05" fill="#e3ebe6"/>
<rect x="294.38" y="300.20" width="8.30" height="1.05" fill="#e9f1ec"/>
<rect x="302.63" y="300.20" width="8.30" height="1.05" fill="#cce2f0"/>
<rect x="310.87" y="300.20" width="8.30" height="1.05" fill="#cee4f2"/>
<rect x="319.12" y="300.20" width="8.30" height="1.05" fill="#d5e5ec"/>
<rect x="327.37" y="300.20" width="8.30" height="1.05" fill="#cde3f1"/>
<rect x="335.62" y="300.20" width="8.30" height="1.05" fill="#cce2f0"/>
<rect x="343.86" y="300.20" width="8.30" height="1.05" fill="#cee4f2"/>
<rect x="352.11" y="300.20" width="8.30" height="1.05" fill="#cde3f1"/>
<rect x="360.36" y="300.20" width="8.30" height="1.05" fill="#cee4f2"/>
<rect x="368.61" y="300.20" width="8.30" height="1.05" fill="#cce2f0"/>
<rect x="376.85" y="300.20" width="8.30" height="1.05" fill="#cde3f1"/>
<rect x="228.40" y="301.20" width="8.30" height="1.05" fill="#fff7db"/>
<rect x="236.65" y="301.20" width="8.30" height="1.05" fill="#fff6da"/>
<rect x="244.89" y="301.20" width="8.30" height="1.05" fill="#fcf3d7"/>
<rect x="253.14" y="301.20" width="24.79" height="1.05" fill="#fff6da"/>
<rect x="277.88" y="301.20" width="8.30" height="1.05" fill="#fff7db"/>
<rect x="286.13" y="301.20" width="8.30" height="1.05" fill="#e8f0eb"/>
<rect x="294.38" y="301.20" width="8.30" height="1.05" fill="#ecf4ef"/>
<rect x="302.63" y="301.20" width="16.54" height="1.05" fill="#e0ecf1"/>
<rect x="319.12" y="301.20" width="8.30" height="1.05" fill="#e6eff0"/>
<rect x="327.37" y="301.20" width="8.30" height="1.05" fill="#e2eef3"/>
<rect x="335.62" y="301.20" width="8.30" height="1.05" fill="#e0ecf1"/>
<rect x="343.86" y="301.20" width="8.30" height="1.05" fill="#e1edf2"/>
<rect x="352.11" y="301.20" width="8.30" height="1.05" fill="#dfebf0"/>
<rect x="360.36" y="301.20" width="8.30" height="1.05" fill="#e1edf2"/>
<rect x="368.61" y="301.20" width="8.30" height="1.05" fill="#e2eef3"/>
<rect x="376.85" y="301.20" width="8.30" height="1.05" fill="#dfebf0"/>
<rect x="228.40" y="302.20" width="8.30" height="1.05" fill="#dae7f0"/>
<rect x="236.65" y="302.20" width="8.30" height="1.05" fill="#b9d3eb"/>
<rect x="244.89" y="302.20" width="8.30" height="1.05" fill="#b8d2ea"/>
<rect x="253.14" y="302.20" width="8.30" height="1.05" fill="#b6d0e8"/>
<rect x="261.39" y="302.20" width="8.30" height="1.05" fill="#b8d2ea"/>
<rect x="269.64" y="302.20" width="8.30" height="1.05" fill="#b9d3eb"/>
<rect x="277.88" y="302.20" width="8.30" height="1.05" fill="#b6d0e8"/>
<rect x="286.13" y="302.20" width="8.30" height="1.05" fill="#e4ece7"/>
<rect x="294.38" y="302.20" width="8.30" height="1.05" fill="#e6eee9"/>
<rect x="302.63" y="302.20" width="8.30" height="1.05" fill="#fbf0c6"/>
<rect x="310.87" y="302.20" width="8.30" height="1.05" fill="#faefc5"/>
<rect x="319.12" y="302.20" width="8.30" height="1.05" fill="#f6f0d3"/>
<rect x="327.37" y="302.20" width="8.30" height="1.05" fill="#fdf2c8"/>
<rect x="335.62" y="302.20" width="8.30" height="1.05" fill="#faefc5"/>
<rect x="343.86" y="302.20" width="8.30" height="1.05" fill="#fbf0c6"/>
<rect x="352.11" y="302.20" width="8.30" height="1.05" fill="#fcf1c7"/>
<rect x="360.36" y="302.20" width="8.30" height="1.05" fill="#fdf2c8"/>
<rect x="368.61" y="302.20" width="8.30" height="1.05" fill="#faefc5"/>
<rect x="376.85" y="302.20" width="8.30" height="1.05" fill="#fbf0c6"/>
<rect x="228.40" y="303.20" width="8.30" height="1.05" fill="#dae7f0"/>
<rect x="236.65" y="303.20" width="8.30" height="1.05" fill="#b8d2ea"/>
<rect x="244.89" y="303.20" width="16.54" height="1.05" fill="#bad4ec"/>
<rect x="261.39" y="303.20" width="8.30" height="1.05" fill="#b7d1e9"/>
<rect x="269.64" y="303.20" width="8.30" height="1.05" fill="#bad4ec"/>
<rect x="277.88" y="303.20" width="8.30" height="1.05" fill="#b9d3eb"/>
<rect x="286.13" y="303.20" width="8.30" height="1.05" fill="#e4ece7"/>
<rect x="294.38" y="303.20" width="8.30" height="1.05" fill="#e8f0eb"/>
<rect x="302.63" y="303.20" width="8.30" height="1.05" fill="#f9eec4"/>
<rect x="310.87" y="303.20" width="8.30" height="1.05" fill="#fbf0c6"/>
<rect x="319.12" y="303.20" width="8.30" height="1.05" fill="#f4eed1"/>
<rect x="327.37" y="303.20" width="8.30" height="1.05" fill="#fcf1c7"/>
<rect x="335.62" y="303.20" width="8.30" height="1.05" fill="#f8edc3"/>
<rect x="343.86" y="303.20" width="8.30" height="1.05" fill="#f9eec4"/>
<rect x="352.11" y="303.20" width="16.54" height="1.05" fill="#fbf0c6"/>
<rect x="368.61" y="303.20" width="16.54" height="1.05" fill="#f9eec4"/>
<rect x="228.40" y="304.20" width="8.30" height="1.05" fill="#d9e6ef"/>
<rect x="236.65" y="304.20" width="8.30" height="1.05" fill="#c2d8eb"/>
<rect x="244.89" y="304.20" width="8.30" height="1.05" fill="#c4daed"/>
<rect x="253.14" y="304.20" width="16.54" height="1.05" fill="#c3d9ec"/>
<rect x="269.64" y="304.20" width="8.30" height="1.05" fill="#c5dbee"/>
<rect x="277.88" y="304.20" width="8.30" height="1.05" fill="#c4daed"/>
<rect x="286.13" y="304.20" width="8.30" height="1.05" fill="#e4ece7"/>
<rect x="294.38" y="304.20" width="8.30" height="1.05" fill="#ebf3ee"/>
<rect x="302.63" y="304.20" width="16.54" height="1.05" fill="#fbf4d3"/>
<rect x="319.12" y="304.20" width="8.30" height="1.05" fill="#f6f3db"/>
<rect x="327.37" y="304.20" width="8.30" height="1.05" fill="#fdf6d5"/>
<rect x="335.62" y="304.20" width="8.30" height="1.05" fill="#fbf4d3"/>
<rect x="343.86" y="304.20" width="16.54" height="1.05" fill="#fcf5d4"/>
<rect x="360.36" y="304.20" width="8.30" height="1.05" fill="#fdf6d5"/>
<rect x="368.61" y="304.20" width="16.54" height="1.05" fill="#faf3d2"/>
<rect x="228.40" y="305.20" width="8.30" height="1.05" fill="#d7e4ed"/>
<rect x="236.65" y="305.20" width="24.79" height="1.05" fill="#d3e4f0"/>
<rect x="261.39" y="305.20" width="16.54" height="1.05" fill="#d2e3ef"/>
<rect x="277.88" y="305.20" width="8.30" height="1.05" fill="#d3e4f0"/>
<rect x="286.13" y="305.20" width="8.30" height="1.05" fill="#ebf3ee"/>
<rect x="294.38" y="305.20" width="8.30" height="1.05" fill="#ecf4ef"/>
<rect x="302.63" y="305.20" width="8.30" height="1.05" fill="#fbf7e3"/>
<rect x="310.87" y="305.20" width="8.30" height="1.05" fill="#fefae6"/>
<rect x="319.12" y="305.20" width="8.30" height="1.05" fill="#f7f5e6"/>
<rect x="327.37" y="305.20" width="16.54" height="1.05" fill="#fdf9e5"/>
<rect x="343.86" y="305.20" width="8.30" height="1.05" fill="#fefae6"/>
<rect x="352.11" y="305.20" width="24.79" height="1.05" fill="#fdf9e5"/>
<rect x="376.85" y="305.20" width="8.30" height="1.05" fill="#fefae6"/>
<rect x="228.40" y="306.20" width="8.30" height="1.05" fill="#d8e5ee"/>
<rect x="236.65" y="306.20" width="24.79" height="1.05" fill="#dce8ed"/>
<rect x="261.39" y="306.20" width="24.79" height="1.05" fill="#dbe7ec"/>
<rect x="286.13" y="306.20" width="8.30" height="1.05" fill="#ecf4ef"/>
<rect x="294.38" y="306.20" width="8.30" height="1.05" fill="#e8f0eb"/>
<rect x="302.63" y="306.20" width="16.54" height="1.05" fill="#f1f4ed"/>
<rect x="319.12" y="306.20" width="8.30" height="1.05" fill="#eef1eb"/>
<rect x="327.37" y="306.20" width="8.30" height="1.05" fill="#f2f5ee"/>
<rect x="335.62" y="306.20" width="8.30" height="1.05" fill="#f0f3ec"/>
<rect x="343.86" y="306.20" width="24.79" height="1.05" fill="#f1f4ed"/>
<rect x="368.61" y="306.20" width="8.30" height="1.05" fill="#f0f3ec"/>
<rect x="376.85" y="306.20" width="8.30" height="1.05" fill="#f2f5ee"/>
<rect x="228.40" y="307.20" width="8.30" height="1.05" fill="#d9e6ef"/>
<rect x="236.65" y="307.20" width="8.30" height="1.05" fill="#c4daed"/>
<rect x="244.89" y="307.20" width="16.54" height="1.05" fill="#c3d9ec"/>
<rect x="261.39" y="307.20" width="8.30" height="1.05" fill="#c6dcef"/>
<rect x="269.64" y="307.20" width="8.30" height="1.05" fill="#c4daed"/>
<rect x="277.88" y="307.20" width="8.30" height="1.05" fill="#c5dbee"/>
<rect x="286.13" y="307.20" width="8.30" height="1.05" fill="#e6eee9"/>
<rect x="294.38" y="307.20" width="8.30" height="1.05" fill="#e8f0eb"/>
<rect x="302.63" y="307.20" width="8.30" height="1.05" fill="#fdf6d5"/>
<rect x="310.87" y="307.20" width="8.30" height="1.05" fill="#fcf5d4"/>
<rect x="319.12" y="307.20" width="8.30" height="1.05" fill="#f7f4dc"/>
<rect x="327.37" y="307.20" width="16.54" height="1.05" fill="#fbf4d3"/>
<rect x="343.86" y="307.20" width="16.54" height="1.05" fill="#fcf5d4"/>
<rect x="360.36" y="307.20" width="16.54" height="1.05" fill="#fdf6d5"/>
<rect x="376.85" y="307.20" width="8.30" height="1.05" fill="#fbf4d3"/>
<rect x="228.40" y="308.20" width="8.30" height="1.05" fill="#dce9f2"/>
<rect x="236.65" y="308.20" width="8.30" height="1.05" fill="#c7ddf0"/>
<rect x="244.89" y="308.20" width="8.30" height="1.05" fill="#c9dff2"/>
<rect x="253.14" y="308.20" width="16.54" height="1.05" fill="#c8def1"/>
<rect x="269.64" y="308.20" width="8.30" height="1.05" fill="#cae0f3"/>
<rect x="277.88" y="308.20" width="8.30" height="1.05" fill="#c7ddf0"/>
<rect x="286.13" y="308.20" width="8.30" height="1.05" fill="#e9f1ec"/>
<rect x="294.38" y="308.20" width="8.30" height="1.05" fill="#ecf4ef"/>
<rect x="302.63" y="308.20" width="8.30" height="1.05" fill="#fbf4d3"/>
<rect x="310.87" y="308.20" width="8.30" height="1.05" fill="#faf3d2"/>
<rect x="319.12" y="308.20" width="8.30" height="1.05" fill="#f4f1d9"/>
<rect x="327.37" y="308.20" width="8.30" height="1.05" fill="#fbf4d3"/>
<rect x="335.62" y="308.20" width="16.54" height="1.05" fill="#faf3d2"/>
<rect x="352.11" y="308.20" width="8.30" height="1.05" fill="#f8f1d0"/>
<rect x="360.36" y="308.20" width="8.30" height="1.05" fill="#faf3d2"/>
<rect x="368.61" y="308.20" width="8.30" height="1.05" fill="#fbf4d3"/>
<rect x="376.85" y="308.20" width="8.30" height="1.05" fill="#faf3d2"/>
<rect x="228.40" y="309.20" width="8.30" height="1.05" fill="#deebf4"/>
<rect x="236.65" y="309.20" width="8.30" height="1.05" fill="#d7e8f4"/>
<rect x="244.89" y="309.20" width="8.30" height="1.05" fill="#d5e6f2"/>
<rect x="253.14" y="309.20" width="24.79" height="1.05" fill="#d8e9f5"/>
<rect x="277.88" y="309.20" width="8.30" height="1.05" fill="#d7e8f4"/>
<rect x="286.13" y="309.20" width="8.30" height="1.05" fill="#e7efea"/>
<rect x="294.38" y="309.20" width="8.30" height="1.05" fill="#eff7f2"/>
<rect x="302.63" y="309.20" width="8.30" height="1.05" fill="#faf6e2"/>
<rect x="310.87" y="309.20" width="8.30" height="1.05" fill="#fcf8e4"/>
<rect x="319.12" y="309.20" width="8.30" height="1.05" fill="#f4f2e3"/>
<rect x="327.37" y="309.20" width="8.30" height="1.05" fill="#fbf7e3"/>
<rect x="335.62" y="309.20" width="8.30" height="1.05" fill="#faf6e2"/>
<rect x="343.86" y="309.20" width="8.30" height="1.05" fill="#fbf7e3"/>
<rect x="352.11" y="309.20" width="16.54" height="1.05" fill="#fcf8e4"/>
<rect x="368.61" y="309.20" width="8.30" height="1.05" fill="#f9f5e1"/>
<rect x="376.85" y="309.20" width="8.30" height="1.05" fill="#fbf7e3"/>
<rect x="228.40" y="310.20" width="8.30" height="1.05" fill="#dae7f0"/>
<rect x="236.65" y="310.20" width="16.54" height="1.05" fill="#c4daed"/>
<rect x="253.14" y="310.20" width="8.30" height="1.05" fill="#c5dbee"/>
<rect x="261.39" y="310.20" width="16.54" height="1.05" fill="#c4daed"/>
<rect x="277.88" y="310.20" width="8.30" height="1.05" fill="#c5dbee"/>
<rect x="286.13" y="310.20" width="8.30" height="1.05" fill="#e7efea"/>
<rect x="294.38" y="310.20" width="8.30" height="1.05" fill="#edf5f0"/>
<rect x="302.63" y="310.20" width="16.54" height="1.05" fill="#fcf5d4"/>
<rect x="319.12" y="310.20" width="8.30" height="1.05" fill="#f6f3db"/>
<rect x="327.37" y="310.20" width="8.30" height="1.05" fill="#fbf4d3"/>
<rect x="335.62" y="310.20" width="8.30" height="1.05" fill="#fcf5d4"/>
<rect x="343.86" y="310.20" width="16.54" height="1.05" fill="#fdf6d5"/>
<rect x="360.36" y="310.20" width="8.30" height="1.05" fill="#faf3d2"/>
<rect x="368.61" y="310.20" width="8.30" height="1.05" fill="#fdf6d5"/>
<rect x="376.85" y="310.20" width="8.30" height="1.05" fill="#fbf4d3"/>
<rect x="228.40" y="311.20" width="8.30" height="1.05" fill="#dae7f0"/>
<rect x="236.65" y="311.20" width="8.30" height="1.05" fill="#c4daed"/>
<rect x="244.89" y="311.20" width="8.30" height="1.05" fill="#c3d9ec"/>
<rect x="253.14" y="311.20" width="8.30" height="1.05" fill="#c7ddf0"/>
<rect x="261.39" y="311.20" width="8.30" height="1.05" fill="#c4daed"/>
<rect x="269.64" y="311.20" width="16.54" height="1.05" fill="#c3d9ec"/>
<rect x="286.13" y="311.20" width="8.30" height="1.05" fill="#e7efea"/>
<rect x="294.38" y="311.20" width="8.30" height="1.05" fill="#edf5f0"/>
<rect x="302.63" y="311.20" width="8.30" height="1.05" fill="#fdf6d5"/>
<rect x="310.87" y="311.20" width="8.30" height="1.05" fill="#fef7d6"/>
<rect x="319.12" y="311.20" width="8.30" height="1.05" fill="#f5f2da"/>
<rect x="327.37" y="311.20" width="8.30" height="1.05" fill="#fcf5d4"/>
<rect x="335.62" y="311.20" width="8.30" height="1.05" fill="#fdf6d5"/>
<rect x="343.86" y="311.20" width="8.30" height="1.05" fill="#fbf4d3"/>
<rect x="352.11" y="311.20" width="8.30" height="1.05" fill="#fcf5d4"/>
<rect x="360.36" y="311.20" width="8.30" height="1.05" fill="#fdf6d5"/>
<rect x="368.61" y="311.20" width="16.54" height="1.05" fill="#fbf4d3"/>
<rect x="228.40" y="312.20" width="8.30" height="0.45" fill="#dbe8f1"/>
<rect x="236.65" y="312.20" width="24.79" height="0.45" fill="#c7ddf0"/>
<rect x="261.39" y="312.20" width="8.30" height="0.45" fill="#c6dcef"/>
<rect x="269.64" y="312.20" width="8.30" height="0.45" fill="#c7ddf0"/>
<rect x="277.88" y="312.20" width="8.30" height="0.45" fill="#c8def1"/>
<rect x="286.13" y="312.20" width="8.30" height="0.45" fill="#e9f1ec"/>
<rect x="294.38" y="312.20" width="8.30" height="0.45" fill="#edf5f0"/>
<rect x="302.63" y="312.20" width="8.30" height="0.45" fill="#fcf5d4"/>
<rect x="310.87" y="312.20" width="8.30" height="0.45" fill="#f9f2d1"/>
<rect x="319.12" y="312.20" width="8.30" height="0.45" fill="#f5f2da"/>
<rect x="327.37" y="312.20" width="8.30" height="0.45" fill="#f9f2d1"/>
<rect x="335.62" y="312.20" width="8.30" height="0.45" fill="#fbf4d3"/>
<rect x="343.86" y="312.20" width="8.30" height="0.45" fill="#faf3d2"/>
<rect x="352.11" y="312.20" width="8.30" height="0.45" fill="#f9f2d1"/>
<rect x="360.36" y="312.20" width="8.30" height="0.45" fill="#fcf5d4"/>
<rect x="368.61" y="312.20" width="8.30" height="0.45" fill="#faf3d2"/>
<rect x="376.85" y="312.20" width="8.30" height="0.45" fill="#fcf5d4"/>
<path d="M257.27 196.20V192.50H265.51V196.20M273.76 196.20V192.50H282.01V196.20M261.39 192.50V191.00H277.88V192.50M249.02 196.20V190.30H269.64V191.00M240.77 196.20V188.00H259.33V190.30M232.52 196.20V185.00H250.05V188.00M290.26 196.20V185.60H298.50V196.20M306.75 196.20V193.20H315.00V196.20M331.49 196.20V193.60H339.74V196.20M323.24 196.20V192.60H335.62V193.60M310.87 193.20V190.50H329.43V192.60M347.99 196.20V193.30H356.23V196.20M372.73 196.20V194.00H380.98V196.20M364.48 196.20V193.40H376.85V194.00M352.11 193.30V191.90H370.67V193.40M320.15 190.50V186.50H361.39V191.90M294.38 185.60V182.50H340.77V186.60M241.29 185.00V175.30H317.57V182.50" stroke="#8E8E8E" stroke-width="0.42" fill="none"/>
<text transform="translate(231.02,316.2) rotate(90)" font-size="4.3" fill="#111" stroke="#111" stroke-width="0.1">ZZ_D_21</text>
<text transform="translate(239.27,316.2) rotate(90)" font-size="4.3" fill="#111" stroke="#111" stroke-width="0.1">ZZ_D_14</text>
<text transform="translate(247.52,316.2) rotate(90)" font-size="4.3" fill="#111" stroke="#111" stroke-width="0.1">ZZ_D_7</text>
<text transform="translate(255.77,316.2) rotate(90)" font-size="4.3" fill="#111" stroke="#111" stroke-width="0.1">ZZ_D_9</text>
<text transform="translate(264.01,316.2) rotate(90)" font-size="4.3" fill="#111" stroke="#111" stroke-width="0.1">ZZ_D_12</text>
<text transform="translate(272.26,316.2) rotate(90)" font-size="4.3" fill="#111" stroke="#111" stroke-width="0.1">ZZ_D_15</text>
<text transform="translate(280.51,316.2) rotate(90)" font-size="4.3" fill="#111" stroke="#111" stroke-width="0.1">ZZ_D_16</text>
<text transform="translate(288.76,316.2) rotate(90)" font-size="4.3" fill="#111" stroke="#111" stroke-width="0.1">ZZ_D_17</text>
<text transform="translate(297.00,316.2) rotate(90)" font-size="4.3" fill="#111" stroke="#111" stroke-width="0.1">ZZ_D_20</text>
<text transform="translate(305.25,316.2) rotate(90)" font-size="4.3" fill="#111" stroke="#111" stroke-width="0.1">FJ_L4_5</text>
<text transform="translate(313.50,316.2) rotate(90)" font-size="4.3" fill="#111" stroke="#111" stroke-width="0.1">FJ_L4_4</text>
<text transform="translate(321.74,316.2) rotate(90)" font-size="4.3" fill="#111" stroke="#111" stroke-width="0.1">ZZ_D_6</text>
<text transform="translate(329.99,316.2) rotate(90)" font-size="4.3" fill="#111" stroke="#111" stroke-width="0.1">FJ_L4_8</text>
<text transform="translate(338.24,316.2) rotate(90)" font-size="4.3" fill="#111" stroke="#111" stroke-width="0.1">FJ_L4_7</text>
<text transform="translate(346.49,316.2) rotate(90)" font-size="4.3" fill="#111" stroke="#111" stroke-width="0.1">FJ_L4_2</text>
<text transform="translate(354.73,316.2) rotate(90)" font-size="4.3" fill="#111" stroke="#111" stroke-width="0.1">FJ_L4_9</text>
<text transform="translate(362.98,316.2) rotate(90)" font-size="4.3" fill="#111" stroke="#111" stroke-width="0.1">FJ_L4_3</text>
<text transform="translate(371.23,316.2) rotate(90)" font-size="4.3" fill="#111" stroke="#111" stroke-width="0.1">FJ_L4_6</text>
<text transform="translate(379.48,316.2) rotate(90)" font-size="4.3" fill="#111" stroke="#111" stroke-width="0.1">FJ_L4_10</text>
<rect x="390.4" y="196.7" width="3.6" height="56.1" fill="url(#hg)"/>
<text x="395.3" y="199.30" font-size="3.7" fill="#555">4</text>
<text x="395.3" y="207.50" font-size="3.7" fill="#555">3</text>
<text x="395.3" y="215.70" font-size="3.7" fill="#555">2</text>
<text x="395.3" y="223.90" font-size="3.7" fill="#555">1</text>
<text x="395.3" y="232.10" font-size="3.7" fill="#555">0</text>
<text x="395.3" y="240.30" font-size="3.7" fill="#555">−1</text>
<text x="395.3" y="248.50" font-size="3.7" fill="#555">−2</text>
</svg></body></html>
